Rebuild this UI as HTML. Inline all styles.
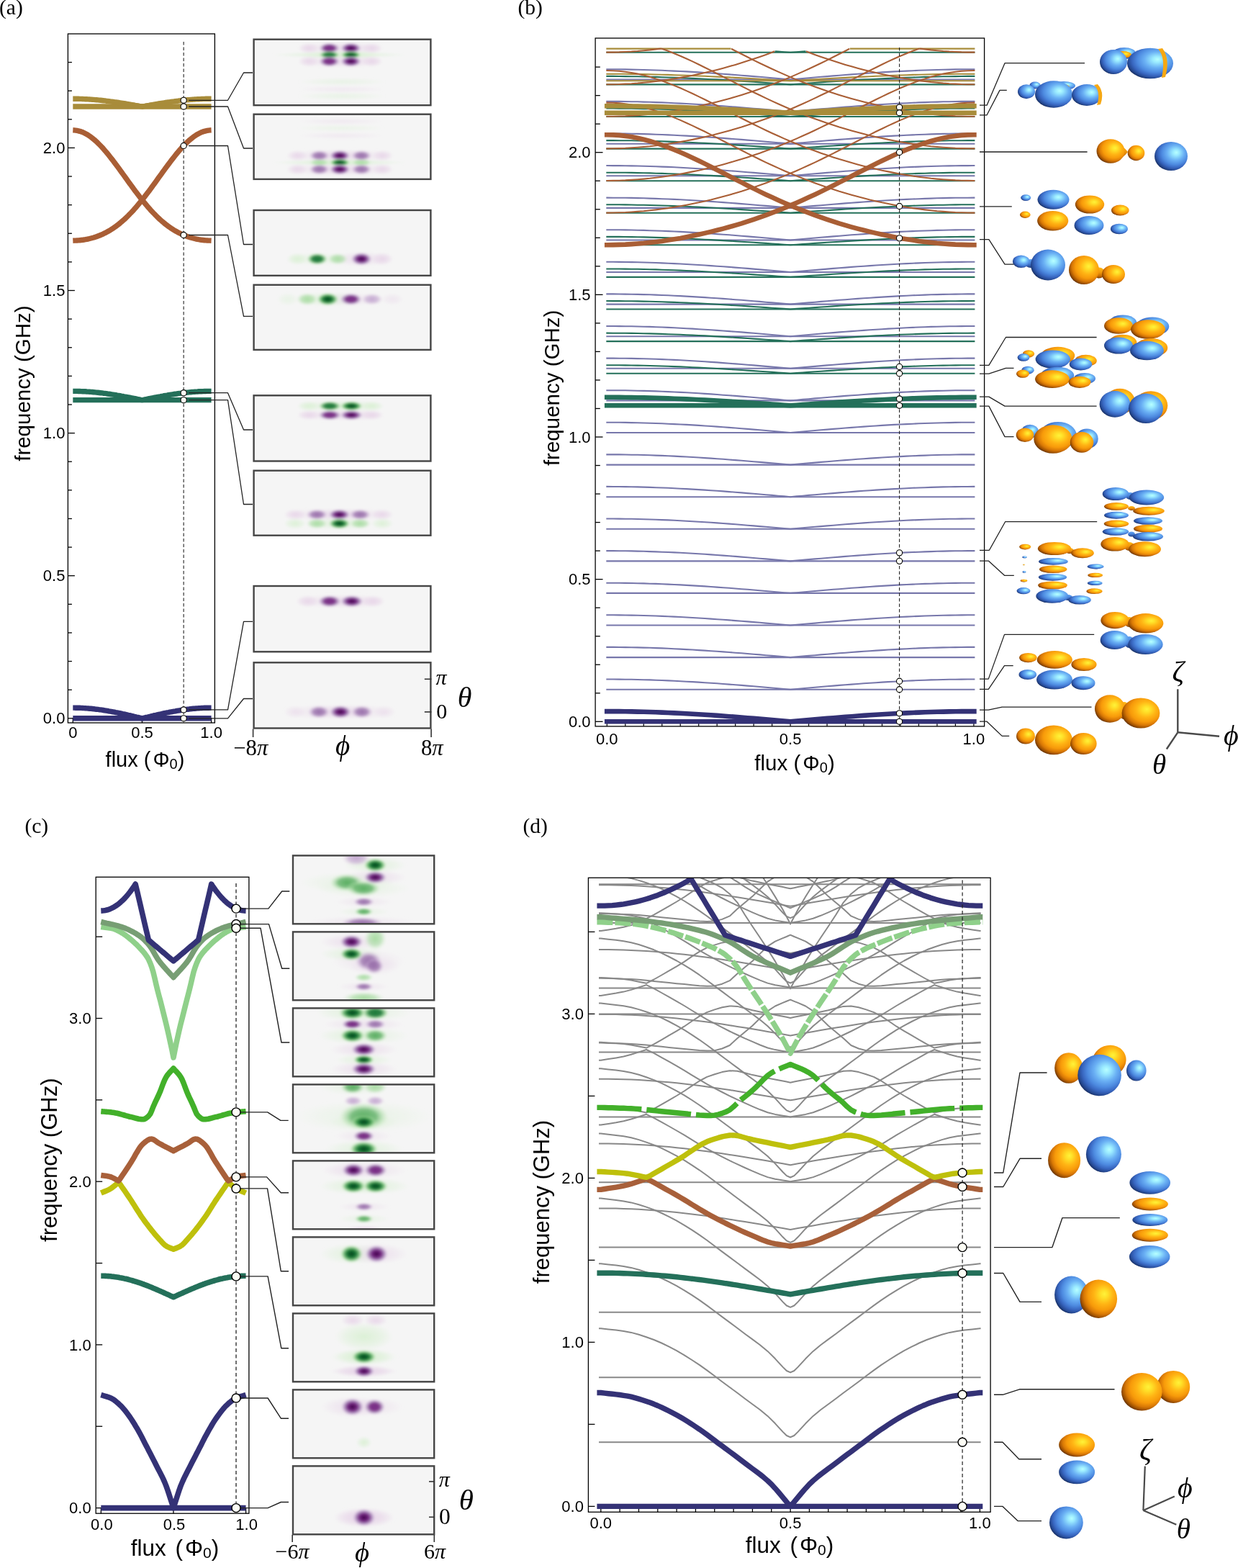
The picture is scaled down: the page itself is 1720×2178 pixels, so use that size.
<!DOCTYPE html>
<html><head><meta charset="utf-8"><title>Spectrum figure</title>
<style>html,body{margin:0;padding:0;background:#fff;} svg{display:block;}</style></head>
<body><svg width="1720" height="2178" viewBox="0 0 1720 2178" xmlns="http://www.w3.org/2000/svg">
<defs>
<filter id="hblur" x="-20%" y="-40%" width="140%" height="180%"><feGaussianBlur stdDeviation="1.6"/></filter>
<radialGradient id="hp0"><stop offset="0" stop-color="#40004b" stop-opacity="1"/><stop offset="0.4" stop-color="#762a83" stop-opacity="1"/><stop offset="0.65" stop-color="#9970ab" stop-opacity="0.8"/><stop offset="0.85" stop-color="#c2a5cf" stop-opacity="0.4"/><stop offset="1" stop-color="#e7d4e8" stop-opacity="0"/></radialGradient>
<radialGradient id="hg0"><stop offset="0" stop-color="#00441b" stop-opacity="1"/><stop offset="0.4" stop-color="#1b7837" stop-opacity="1"/><stop offset="0.65" stop-color="#5aae61" stop-opacity="0.8"/><stop offset="0.85" stop-color="#a6dba0" stop-opacity="0.4"/><stop offset="1" stop-color="#d9f0d3" stop-opacity="0"/></radialGradient>
<radialGradient id="hp1"><stop offset="0" stop-color="#762a83" stop-opacity="1"/><stop offset="0.45" stop-color="#762a83" stop-opacity="0.9"/><stop offset="0.7" stop-color="#9970ab" stop-opacity="0.6"/><stop offset="0.88" stop-color="#c2a5cf" stop-opacity="0.3"/><stop offset="1" stop-color="#e7d4e8" stop-opacity="0"/></radialGradient>
<radialGradient id="hg1"><stop offset="0" stop-color="#1b7837" stop-opacity="1"/><stop offset="0.45" stop-color="#1b7837" stop-opacity="0.9"/><stop offset="0.7" stop-color="#5aae61" stop-opacity="0.6"/><stop offset="0.88" stop-color="#a6dba0" stop-opacity="0.3"/><stop offset="1" stop-color="#d9f0d3" stop-opacity="0"/></radialGradient>
<radialGradient id="hp2"><stop offset="0" stop-color="#9970ab" stop-opacity="1"/><stop offset="0.5" stop-color="#9970ab" stop-opacity="0.75"/><stop offset="0.8" stop-color="#c2a5cf" stop-opacity="0.35"/><stop offset="1" stop-color="#e7d4e8" stop-opacity="0"/></radialGradient>
<radialGradient id="hg2"><stop offset="0" stop-color="#5aae61" stop-opacity="1"/><stop offset="0.5" stop-color="#5aae61" stop-opacity="0.75"/><stop offset="0.8" stop-color="#a6dba0" stop-opacity="0.35"/><stop offset="1" stop-color="#d9f0d3" stop-opacity="0"/></radialGradient>
<radialGradient id="hp3"><stop offset="0" stop-color="#c2a5cf" stop-opacity="0.95"/><stop offset="0.55" stop-color="#c2a5cf" stop-opacity="0.6"/><stop offset="1" stop-color="#e7d4e8" stop-opacity="0"/></radialGradient>
<radialGradient id="hg3"><stop offset="0" stop-color="#a6dba0" stop-opacity="0.95"/><stop offset="0.55" stop-color="#a6dba0" stop-opacity="0.6"/><stop offset="1" stop-color="#d9f0d3" stop-opacity="0"/></radialGradient>
<radialGradient id="hp4"><stop offset="0" stop-color="#e7d4e8" stop-opacity="0.9"/><stop offset="0.6" stop-color="#e7d4e8" stop-opacity="0.45"/><stop offset="1" stop-color="#e7d4e8" stop-opacity="0"/></radialGradient>
<radialGradient id="hg4"><stop offset="0" stop-color="#d9f0d3" stop-opacity="0.9"/><stop offset="0.6" stop-color="#d9f0d3" stop-opacity="0.45"/><stop offset="1" stop-color="#d9f0d3" stop-opacity="0"/></radialGradient>
<clipPath id="hc1"><rect x="352.6" y="54.7" width="245.8" height="91.5"/></clipPath>
<clipPath id="hc2"><rect x="352.6" y="158.7" width="245.8" height="90.2"/></clipPath>
<clipPath id="hc3"><rect x="352.6" y="292" width="245.8" height="90.8"/></clipPath>
<clipPath id="hc4"><rect x="352.6" y="395.7" width="245.8" height="90.2"/></clipPath>
<clipPath id="hc5"><rect x="352.6" y="549.3" width="245.8" height="91.2"/></clipPath>
<clipPath id="hc6"><rect x="352.6" y="653.7" width="245.8" height="90"/></clipPath>
<clipPath id="hc7"><rect x="352.6" y="814" width="245.8" height="91.3"/></clipPath>
<clipPath id="hc8"><rect x="352.6" y="920.3" width="245.8" height="91.2"/></clipPath>
<radialGradient id="gB" cx="0.6" cy="0.4" r="0.65" fx="0.66" fy="0.37"><stop offset="0" stop-color="#b8ffff"/><stop offset="0.15" stop-color="#9aeaff"/><stop offset="0.4" stop-color="#6ab0f4"/><stop offset="0.62" stop-color="#4d8ae0"/><stop offset="0.78" stop-color="#3866c0"/><stop offset="0.9" stop-color="#264a94"/><stop offset="1" stop-color="#15295a"/></radialGradient>
<radialGradient id="gO" cx="0.6" cy="0.4" r="0.65" fx="0.66" fy="0.37"><stop offset="0" stop-color="#fff23a"/><stop offset="0.15" stop-color="#ffe028"/><stop offset="0.4" stop-color="#ffb414"/><stop offset="0.62" stop-color="#f79a0a"/><stop offset="0.78" stop-color="#d87806"/><stop offset="0.9" stop-color="#a05200"/><stop offset="1" stop-color="#5a2a00"/></radialGradient>
<linearGradient id="nB" x1="0" y1="0" x2="0" y2="1"><stop offset="0" stop-color="#5e9ff0"/><stop offset="0.45" stop-color="#4a86dc"/><stop offset="0.8" stop-color="#2f58a8"/><stop offset="1" stop-color="#1e3a7a"/></linearGradient>
<linearGradient id="nO" x1="0" y1="0" x2="0" y2="1"><stop offset="0" stop-color="#ffb818"/><stop offset="0.45" stop-color="#f29a0a"/><stop offset="0.8" stop-color="#c46a04"/><stop offset="1" stop-color="#7a3c00"/></linearGradient>
<clipPath id="hc9"><rect x="407" y="1188.4" width="196.2" height="94.9"/></clipPath>
<clipPath id="hc10"><rect x="407" y="1294.4" width="196.2" height="94.9"/></clipPath>
<clipPath id="hc11"><rect x="407" y="1400.4" width="196.2" height="94.9"/></clipPath>
<clipPath id="hc12"><rect x="407" y="1506.4" width="196.2" height="94.9"/></clipPath>
<clipPath id="hc13"><rect x="407" y="1612.4" width="196.2" height="94.9"/></clipPath>
<clipPath id="hc14"><rect x="407" y="1718.4" width="196.2" height="94.9"/></clipPath>
<clipPath id="hc15"><rect x="407" y="1824.4" width="196.2" height="94.9"/></clipPath>
<clipPath id="hc16"><rect x="407" y="1930.4" width="196.2" height="94.9"/></clipPath>
<clipPath id="hc17"><rect x="407" y="2036.4" width="196.2" height="94.9"/></clipPath>
<clipPath id="dclip"><rect x="817.4" y="1219.3" width="558.7" height="881"/></clipPath>
</defs>
<rect width="1720" height="2178" fill="#fff"/>
<text x="-1" y="20.4" font-family="Liberation Serif, sans-serif" font-size="29.5" text-anchor="start" >(a)</text>
<line x1="94.4" y1="997.8" x2="103.9" y2="997.8" stroke="#000" stroke-width="1.3" />
<text x="90.4" y="1005.4" font-family="Liberation Sans, sans-serif" font-size="22" text-anchor="end" >0.0</text>
<line x1="94.4" y1="958.18" x2="99.9" y2="958.18" stroke="#000" stroke-width="1.3" />
<line x1="94.4" y1="918.56" x2="99.9" y2="918.56" stroke="#000" stroke-width="1.3" />
<line x1="94.4" y1="878.94" x2="99.9" y2="878.94" stroke="#000" stroke-width="1.3" />
<line x1="94.4" y1="839.32" x2="99.9" y2="839.32" stroke="#000" stroke-width="1.3" />
<line x1="94.4" y1="799.7" x2="103.9" y2="799.7" stroke="#000" stroke-width="1.3" />
<text x="90.4" y="807.3" font-family="Liberation Sans, sans-serif" font-size="22" text-anchor="end" >0.5</text>
<line x1="94.4" y1="760.08" x2="99.9" y2="760.08" stroke="#000" stroke-width="1.3" />
<line x1="94.4" y1="720.46" x2="99.9" y2="720.46" stroke="#000" stroke-width="1.3" />
<line x1="94.4" y1="680.84" x2="99.9" y2="680.84" stroke="#000" stroke-width="1.3" />
<line x1="94.4" y1="641.22" x2="99.9" y2="641.22" stroke="#000" stroke-width="1.3" />
<line x1="94.4" y1="601.6" x2="103.9" y2="601.6" stroke="#000" stroke-width="1.3" />
<text x="90.4" y="609.2" font-family="Liberation Sans, sans-serif" font-size="22" text-anchor="end" >1.0</text>
<line x1="94.4" y1="561.98" x2="99.9" y2="561.98" stroke="#000" stroke-width="1.3" />
<line x1="94.4" y1="522.36" x2="99.9" y2="522.36" stroke="#000" stroke-width="1.3" />
<line x1="94.4" y1="482.74" x2="99.9" y2="482.74" stroke="#000" stroke-width="1.3" />
<line x1="94.4" y1="443.12" x2="99.9" y2="443.12" stroke="#000" stroke-width="1.3" />
<line x1="94.4" y1="403.5" x2="103.9" y2="403.5" stroke="#000" stroke-width="1.3" />
<text x="90.4" y="411.1" font-family="Liberation Sans, sans-serif" font-size="22" text-anchor="end" >1.5</text>
<line x1="94.4" y1="363.88" x2="99.9" y2="363.88" stroke="#000" stroke-width="1.3" />
<line x1="94.4" y1="324.26" x2="99.9" y2="324.26" stroke="#000" stroke-width="1.3" />
<line x1="94.4" y1="284.64" x2="99.9" y2="284.64" stroke="#000" stroke-width="1.3" />
<line x1="94.4" y1="245.02" x2="99.9" y2="245.02" stroke="#000" stroke-width="1.3" />
<line x1="94.4" y1="205.4" x2="103.9" y2="205.4" stroke="#000" stroke-width="1.3" />
<text x="90.4" y="213" font-family="Liberation Sans, sans-serif" font-size="22" text-anchor="end" >2.0</text>
<line x1="94.4" y1="165.78" x2="99.9" y2="165.78" stroke="#000" stroke-width="1.3" />
<line x1="94.4" y1="126.16" x2="99.9" y2="126.16" stroke="#000" stroke-width="1.3" />
<line x1="94.4" y1="86.54" x2="99.9" y2="86.54" stroke="#000" stroke-width="1.3" />
<line x1="101.3" y1="1004" x2="101.3" y2="997" stroke="#000" stroke-width="1.3" />
<text x="101.3" y="1024.5" font-family="Liberation Sans, sans-serif" font-size="22" text-anchor="middle" >0</text>
<line x1="197.45" y1="1004" x2="197.45" y2="997" stroke="#000" stroke-width="1.3" />
<text x="197.45" y="1024.5" font-family="Liberation Sans, sans-serif" font-size="22" text-anchor="middle" >0.5</text>
<line x1="293.6" y1="1004" x2="293.6" y2="997" stroke="#000" stroke-width="1.3" />
<text x="293.6" y="1024.5" font-family="Liberation Sans, sans-serif" font-size="22" text-anchor="middle" >1.0</text>
<path d="M101.3,997.8 103.2,997.8 105.1,997.8 107.1,997.8 109,997.8 110.9,997.8 112.8,997.8 114.8,997.8 116.7,997.8 118.6,997.8 120.5,997.8 122.5,997.8 124.4,997.8 126.3,997.8 128.2,997.8 130.1,997.8 132.1,997.8 134,997.8 135.9,997.8 137.8,997.8 139.8,997.8 141.7,997.8 143.6,997.8 145.5,997.8 147.5,997.8 149.4,997.8 151.3,997.8 153.2,997.8 155.1,997.8 157.1,997.8 159,997.8 160.9,997.8 162.8,997.8 164.8,997.8 166.7,997.8 168.6,997.8 170.5,997.8 172.5,997.8 174.4,997.8 176.3,997.8 178.2,997.8 180.1,997.8 182.1,997.8 184,997.8 185.9,997.8 187.8,997.8 189.8,997.8 191.7,997.8 193.6,997.8 195.5,997.8 197.4,997.8 199.4,997.8 201.3,997.8 203.2,997.8 205.1,997.8 207.1,997.8 209,997.8 210.9,997.8 212.8,997.8 214.8,997.8 216.7,997.8 218.6,997.8 220.5,997.8 222.4,997.8 224.4,997.8 226.3,997.8 228.2,997.8 230.1,997.8 232.1,997.8 234,997.8 235.9,997.8 237.8,997.8 239.8,997.8 241.7,997.8 243.6,997.8 245.5,997.8 247.4,997.8 249.4,997.8 251.3,997.8 253.2,997.8 255.1,997.8 257.1,997.8 259,997.8 260.9,997.8 262.8,997.8 264.8,997.8 266.7,997.8 268.6,997.8 270.5,997.8 272.4,997.8 274.4,997.8 276.3,997.8 278.2,997.8 280.1,997.8 282.1,997.8 284,997.8 285.9,997.8 287.8,997.8 289.8,997.8 291.7,997.8 293.6,997.8" fill="none" stroke="#343276" stroke-width="7.4" stroke-linejoin="round" stroke-linecap="butt"/>
<path d="M101.3,983.1 103.2,983.1 105.1,983.2 107.1,983.2 109,983.3 110.9,983.3 112.8,983.4 114.8,983.5 116.7,983.6 118.6,983.7 120.5,983.9 122.5,984 124.4,984.2 126.3,984.3 128.2,984.5 130.1,984.7 132.1,985 134,985.2 135.9,985.4 137.8,985.7 139.8,985.9 141.7,986.2 143.6,986.5 145.5,986.8 147.5,987.1 149.4,987.4 151.3,987.8 153.2,988.1 155.1,988.5 157.1,988.8 159,989.2 160.9,989.6 162.8,989.9 164.8,990.3 166.7,990.7 168.6,991.1 170.5,991.6 172.5,992 174.4,992.4 176.3,992.8 178.2,993.3 180.1,993.7 182.1,994.2 184,994.6 185.9,995.1 187.8,995.5 189.8,996 191.7,996.4 193.6,996.9 195.5,997.3 197.4,997.8 199.4,997.3 201.3,996.9 203.2,996.4 205.1,996 207.1,995.5 209,995.1 210.9,994.6 212.8,994.2 214.8,993.7 216.7,993.3 218.6,992.8 220.5,992.4 222.4,992 224.4,991.6 226.3,991.1 228.2,990.7 230.1,990.3 232.1,989.9 234,989.6 235.9,989.2 237.8,988.8 239.8,988.5 241.7,988.1 243.6,987.8 245.5,987.4 247.4,987.1 249.4,986.8 251.3,986.5 253.2,986.2 255.1,985.9 257.1,985.7 259,985.4 260.9,985.2 262.8,985 264.8,984.7 266.7,984.5 268.6,984.3 270.5,984.2 272.4,984 274.4,983.9 276.3,983.7 278.2,983.6 280.1,983.5 282.1,983.4 284,983.3 285.9,983.3 287.8,983.2 289.8,983.2 291.7,983.1 293.6,983.1" fill="none" stroke="#343276" stroke-width="7.4" stroke-linejoin="round" stroke-linecap="butt"/>
<path d="M101.3,555.6 103.2,555.6 105.1,555.6 107.1,555.6 109,555.6 110.9,555.6 112.8,555.6 114.8,555.6 116.7,555.6 118.6,555.6 120.5,555.6 122.5,555.6 124.4,555.6 126.3,555.6 128.2,555.6 130.1,555.6 132.1,555.6 134,555.6 135.9,555.6 137.8,555.6 139.8,555.6 141.7,555.6 143.6,555.6 145.5,555.6 147.5,555.6 149.4,555.6 151.3,555.6 153.2,555.6 155.1,555.6 157.1,555.6 159,555.6 160.9,555.6 162.8,555.6 164.8,555.6 166.7,555.6 168.6,555.6 170.5,555.6 172.5,555.6 174.4,555.6 176.3,555.6 178.2,555.6 180.1,555.6 182.1,555.6 184,555.6 185.9,555.6 187.8,555.6 189.8,555.6 191.7,555.6 193.6,555.6 195.5,555.6 197.4,555.6 199.4,555.6 201.3,555.6 203.2,555.6 205.1,555.6 207.1,555.6 209,555.6 210.9,555.6 212.8,555.6 214.8,555.6 216.7,555.6 218.6,555.6 220.5,555.6 222.4,555.6 224.4,555.6 226.3,555.6 228.2,555.6 230.1,555.6 232.1,555.6 234,555.6 235.9,555.6 237.8,555.6 239.8,555.6 241.7,555.6 243.6,555.6 245.5,555.6 247.4,555.6 249.4,555.6 251.3,555.6 253.2,555.6 255.1,555.6 257.1,555.6 259,555.6 260.9,555.6 262.8,555.6 264.8,555.6 266.7,555.6 268.6,555.6 270.5,555.6 272.4,555.6 274.4,555.6 276.3,555.6 278.2,555.6 280.1,555.6 282.1,555.6 284,555.6 285.9,555.6 287.8,555.6 289.8,555.6 291.7,555.6 293.6,555.6" fill="none" stroke="#24705a" stroke-width="7.4" stroke-linejoin="round" stroke-linecap="butt"/>
<path d="M101.3,543.4 103.2,543.4 105.1,543.4 107.1,543.4 109,543.5 110.9,543.5 112.8,543.6 114.8,543.7 116.7,543.7 118.6,543.8 120.5,544 122.5,544.1 124.4,544.2 126.3,544.4 128.2,544.5 130.1,544.7 132.1,544.9 134,545.1 135.9,545.3 137.8,545.5 139.8,545.7 141.7,545.9 143.6,546.2 145.5,546.4 147.5,546.7 149.4,547 151.3,547.2 153.2,547.5 155.1,547.8 157.1,548.1 159,548.4 160.9,548.7 162.8,549.1 164.8,549.4 166.7,549.7 168.6,550.1 170.5,550.4 172.5,550.8 174.4,551.1 176.3,551.5 178.2,551.8 180.1,552.2 182.1,552.6 184,553 185.9,553.3 187.8,553.7 189.8,554.1 191.7,554.5 193.6,554.9 195.5,555.3 197.4,555.6 199.4,555.3 201.3,554.9 203.2,554.5 205.1,554.1 207.1,553.7 209,553.3 210.9,553 212.8,552.6 214.8,552.2 216.7,551.8 218.6,551.5 220.5,551.1 222.4,550.8 224.4,550.4 226.3,550.1 228.2,549.7 230.1,549.4 232.1,549.1 234,548.7 235.9,548.4 237.8,548.1 239.8,547.8 241.7,547.5 243.6,547.2 245.5,547 247.4,546.7 249.4,546.4 251.3,546.2 253.2,545.9 255.1,545.7 257.1,545.5 259,545.3 260.9,545.1 262.8,544.9 264.8,544.7 266.7,544.5 268.6,544.4 270.5,544.2 272.4,544.1 274.4,544 276.3,543.8 278.2,543.7 280.1,543.7 282.1,543.6 284,543.5 285.9,543.5 287.8,543.4 289.8,543.4 291.7,543.4 293.6,543.4" fill="none" stroke="#24705a" stroke-width="7.4" stroke-linejoin="round" stroke-linecap="butt"/>
<path d="M101.3,180.8 103.2,180.9 105.1,181.1 107.1,181.4 109,181.8 110.9,182.3 112.8,182.9 114.8,183.6 116.7,184.5 118.6,185.5 120.5,186.5 122.5,187.7 124.4,189 126.3,190.3 128.2,191.8 130.1,193.4 132.1,195 134,196.7 135.9,198.6 137.8,200.5 139.8,202.5 141.7,204.5 143.6,206.6 145.5,208.8 147.5,211.1 149.4,213.4 151.3,215.8 153.2,218.2 155.1,220.6 157.1,223.1 159,225.7 160.9,228.2 162.8,230.8 164.8,233.4 166.7,236.1 168.6,238.7 170.5,241.4 172.5,244.1 174.4,246.7 176.3,249.4 178.2,252.1 180.1,254.7 182.1,257.4 184,260 185.9,262.6 187.8,265.2 189.8,267.8 191.7,270.3 193.6,272.8 195.5,275.3 197.4,277.7 199.4,280.1 201.3,282.4 203.2,284.7 205.1,287 207.1,289.2 209,291.4 210.9,293.5 212.8,295.5 214.8,297.5 216.7,299.5 218.6,301.4 220.5,303.2 222.4,305 224.4,306.7 226.3,308.3 228.2,310 230.1,311.5 232.1,313 234,314.4 235.9,315.8 237.8,317.1 239.8,318.4 241.7,319.6 243.6,320.7 245.5,321.8 247.4,322.9 249.4,323.8 251.3,324.8 253.2,325.7 255.1,326.5 257.1,327.3 259,328 260.9,328.7 262.8,329.4 264.8,330 266.7,330.5 268.6,331 270.5,331.5 272.4,332 274.4,332.3 276.3,332.7 278.2,333 280.1,333.3 282.1,333.5 284,333.7 285.9,333.9 287.8,334 289.8,334.1 291.7,334.1 293.6,334.2" fill="none" stroke="#a95e35" stroke-width="7.4" stroke-linejoin="round" stroke-linecap="butt"/>
<path d="M101.3,334.2 103.2,334.1 105.1,334.1 107.1,334 109,333.9 110.9,333.7 112.8,333.5 114.8,333.3 116.7,333 118.6,332.7 120.5,332.3 122.5,332 124.4,331.5 126.3,331 128.2,330.5 130.1,330 132.1,329.4 134,328.7 135.9,328 137.8,327.3 139.8,326.5 141.7,325.7 143.6,324.8 145.5,323.8 147.5,322.9 149.4,321.8 151.3,320.7 153.2,319.6 155.1,318.4 157.1,317.1 159,315.8 160.9,314.4 162.8,313 164.8,311.5 166.7,310 168.6,308.3 170.5,306.7 172.5,305 174.4,303.2 176.3,301.4 178.2,299.5 180.1,297.5 182.1,295.5 184,293.5 185.9,291.4 187.8,289.2 189.8,287 191.7,284.7 193.6,282.4 195.5,280.1 197.4,277.7 199.4,275.3 201.3,272.8 203.2,270.3 205.1,267.8 207.1,265.2 209,262.6 210.9,260 212.8,257.4 214.8,254.7 216.7,252.1 218.6,249.4 220.5,246.7 222.4,244.1 224.4,241.4 226.3,238.7 228.2,236.1 230.1,233.4 232.1,230.8 234,228.2 235.9,225.7 237.8,223.1 239.8,220.6 241.7,218.2 243.6,215.8 245.5,213.4 247.4,211.1 249.4,208.8 251.3,206.6 253.2,204.5 255.1,202.5 257.1,200.5 259,198.6 260.9,196.7 262.8,195 264.8,193.4 266.7,191.8 268.6,190.3 270.5,189 272.4,187.7 274.4,186.5 276.3,185.5 278.2,184.5 280.1,183.6 282.1,182.9 284,182.3 285.9,181.8 287.8,181.4 289.8,181.1 291.7,180.9 293.6,180.8" fill="none" stroke="#a95e35" stroke-width="7.4" stroke-linejoin="round" stroke-linecap="butt"/>
<path d="M101.3,148 103.2,148 105.1,148 107.1,148 109,148 110.9,148 112.8,148 114.8,148 116.7,148 118.6,148 120.5,148 122.5,148 124.4,148 126.3,148 128.2,148 130.1,148 132.1,148 134,148 135.9,148 137.8,148 139.8,148 141.7,148 143.6,148 145.5,148 147.5,148 149.4,148 151.3,148 153.2,148 155.1,148 157.1,148 159,148 160.9,148 162.8,148 164.8,148 166.7,148 168.6,148 170.5,148 172.5,148 174.4,148 176.3,148 178.2,148 180.1,148 182.1,148 184,148 185.9,148 187.8,148 189.8,148 191.7,148 193.6,148 195.5,148 197.4,148 199.4,148 201.3,148 203.2,148 205.1,148 207.1,148 209,148 210.9,148 212.8,148 214.8,148 216.7,148 218.6,148 220.5,148 222.4,148 224.4,148 226.3,148 228.2,148 230.1,148 232.1,148 234,148 235.9,148 237.8,148 239.8,148 241.7,148 243.6,148 245.5,148 247.4,148 249.4,148 251.3,148 253.2,148 255.1,148 257.1,148 259,148 260.9,148 262.8,148 264.8,148 266.7,148 268.6,148 270.5,148 272.4,148 274.4,148 276.3,148 278.2,148 280.1,148 282.1,148 284,148 285.9,148 287.8,148 289.8,148 291.7,148 293.6,148" fill="none" stroke="#a88c3a" stroke-width="7.4" stroke-linejoin="round" stroke-linecap="butt"/>
<path d="M101.3,137.3 103.2,137.3 105.1,137.3 107.1,137.3 109,137.3 110.9,137.4 112.8,137.4 114.8,137.5 116.7,137.6 118.6,137.7 120.5,137.8 122.5,137.9 124.4,138 126.3,138.1 128.2,138.3 130.1,138.4 132.1,138.6 134,138.7 135.9,138.9 137.8,139.1 139.8,139.3 141.7,139.5 143.6,139.7 145.5,139.9 147.5,140.2 149.4,140.4 151.3,140.6 153.2,140.9 155.1,141.1 157.1,141.4 159,141.7 160.9,141.9 162.8,142.2 164.8,142.5 166.7,142.8 168.6,143.1 170.5,143.4 172.5,143.7 174.4,144 176.3,144.3 178.2,144.6 180.1,145 182.1,145.3 184,145.6 185.9,145.9 187.8,146.3 189.8,146.6 191.7,146.9 193.6,147.3 195.5,147.6 197.4,148 199.4,147.6 201.3,147.3 203.2,146.9 205.1,146.6 207.1,146.3 209,145.9 210.9,145.6 212.8,145.3 214.8,145 216.7,144.6 218.6,144.3 220.5,144 222.4,143.7 224.4,143.4 226.3,143.1 228.2,142.8 230.1,142.5 232.1,142.2 234,141.9 235.9,141.7 237.8,141.4 239.8,141.1 241.7,140.9 243.6,140.6 245.5,140.4 247.4,140.2 249.4,139.9 251.3,139.7 253.2,139.5 255.1,139.3 257.1,139.1 259,138.9 260.9,138.7 262.8,138.6 264.8,138.4 266.7,138.3 268.6,138.1 270.5,138 272.4,137.9 274.4,137.8 276.3,137.7 278.2,137.6 280.1,137.5 282.1,137.4 284,137.4 285.9,137.3 287.8,137.3 289.8,137.3 291.7,137.3 293.6,137.3" fill="none" stroke="#a88c3a" stroke-width="7.4" stroke-linejoin="round" stroke-linecap="butt"/>
<rect x="94.4" y="47" width="203.99999999999997" height="957" fill="none" stroke="#000" stroke-width="1.3"/>
<line x1="255.14" y1="58" x2="255.14" y2="1004" stroke="#222" stroke-width="1.1" stroke-dasharray="4.5,3"/>
<path d="M262.1,139.3 316.5,139.3 338.5,101 351,101" fill="none" stroke="#222" stroke-width="1.3" stroke-linejoin="round" />
<path d="M262.1,148 316.5,148 338.5,206 351,206" fill="none" stroke="#222" stroke-width="1.3" stroke-linejoin="round" />
<path d="M262.1,202.5 316.5,202.5 338.5,339.5 351,339.5" fill="none" stroke="#222" stroke-width="1.3" stroke-linejoin="round" />
<path d="M262.1,326.5 316.5,326.5 338.5,439.4 351,439.4" fill="none" stroke="#222" stroke-width="1.3" stroke-linejoin="round" />
<path d="M262.1,545.7 316.5,545.7 338.5,597 351,597" fill="none" stroke="#222" stroke-width="1.3" stroke-linejoin="round" />
<path d="M262.1,555.6 316.5,555.6 338.5,700.5 351,700.5" fill="none" stroke="#222" stroke-width="1.3" stroke-linejoin="round" />
<path d="M262.1,985.9 316.5,985.9 338.5,863.3 351,863.3" fill="none" stroke="#222" stroke-width="1.3" stroke-linejoin="round" />
<path d="M262.1,997.8 316.5,997.8 338.5,970.5 351,970.5" fill="none" stroke="#222" stroke-width="1.3" stroke-linejoin="round" />
<circle cx="255.14" cy="139.3" r="4.1" fill="#fdfdf5" stroke="#000" stroke-width="1.1"/>
<circle cx="255.14" cy="147.95" r="4.1" fill="#fdfdf5" stroke="#000" stroke-width="1.1"/>
<circle cx="255.14" cy="202.46" r="4.1" fill="#fdfdf5" stroke="#000" stroke-width="1.1"/>
<circle cx="255.14" cy="326.5" r="4.1" fill="#fdfdf5" stroke="#000" stroke-width="1.1"/>
<circle cx="255.14" cy="545.7" r="4.1" fill="#fdfdf5" stroke="#000" stroke-width="1.1"/>
<circle cx="255.14" cy="555.64" r="4.1" fill="#fdfdf5" stroke="#000" stroke-width="1.1"/>
<circle cx="255.14" cy="985.94" r="4.1" fill="#fdfdf5" stroke="#000" stroke-width="1.1"/>
<circle cx="255.14" cy="997.8" r="4.1" fill="#fdfdf5" stroke="#000" stroke-width="1.1"/>
<text x="201.5" y="1065" font-family="Liberation Sans, sans-serif" font-size="29" text-anchor="middle" >flux<tspan dx="0"> (</tspan><tspan dx="3">&#934;</tspan><tspan font-size="20" dy="3">0</tspan><tspan dy="-3">)</tspan></text>
<text transform="translate(42.3,532.6) rotate(-90)" font-family="Liberation Sans, sans-serif" font-size="29.5" text-anchor="middle">frequency (GHz)</text>
<rect x="352.6" y="54.7" width="245.8" height="91.5" fill="#f5f5f5"/>
<g clip-path="url(#hc1)"><g filter="url(#hblur)">
<ellipse cx="457.6" cy="66.9" rx="40.1" ry="8.85" fill="url(#hp4)" opacity="0.5"/>
<ellipse cx="487.6" cy="66.9" rx="40.1" ry="8.85" fill="url(#hp4)" opacity="0.75"/>
<ellipse cx="457.6" cy="76.1" rx="40.1" ry="6.44" fill="url(#hg4)" opacity="0.5"/>
<ellipse cx="487.6" cy="76.1" rx="40.1" ry="6.44" fill="url(#hg4)" opacity="0.75"/>
<ellipse cx="457.6" cy="85.2" rx="40.1" ry="8.85" fill="url(#hp4)" opacity="0.5"/>
<ellipse cx="487.6" cy="85.2" rx="40.1" ry="8.85" fill="url(#hp4)" opacity="0.75"/>
<ellipse cx="429" cy="66.9" rx="14.85" ry="7.7" fill="url(#hp4)"/>
<ellipse cx="517" cy="66.9" rx="14.85" ry="7.7" fill="url(#hp4)"/>
<ellipse cx="472" cy="76.1" rx="94.5" ry="4.2" fill="url(#hg4)"/>
<ellipse cx="429" cy="85.2" rx="14.85" ry="7.7" fill="url(#hp4)"/>
<ellipse cx="517" cy="85.2" rx="14.85" ry="7.7" fill="url(#hp4)"/>
<ellipse cx="475" cy="113.5" rx="60.75" ry="5.6" fill="url(#hg4)" opacity="0.5"/>
<ellipse cx="475" cy="124" rx="60.75" ry="4.9" fill="url(#hp4)" opacity="0.4"/>
<ellipse cx="475" cy="133.5" rx="60.75" ry="5.6" fill="url(#hg4)" opacity="0.5"/>
<ellipse cx="457.6" cy="66.9" rx="14.85" ry="7.7" fill="url(#hp1)"/>
<ellipse cx="457.6" cy="76.1" rx="14.85" ry="5.6" fill="url(#hg1)"/>
<ellipse cx="457.6" cy="85.2" rx="14.85" ry="7.7" fill="url(#hp1)"/>
<ellipse cx="487.6" cy="66.9" rx="14.85" ry="7.7" fill="url(#hp0)"/>
<ellipse cx="487.6" cy="76.1" rx="14.85" ry="5.6" fill="url(#hg0)"/>
<ellipse cx="487.6" cy="85.2" rx="14.85" ry="7.7" fill="url(#hp0)"/>
</g></g>
<rect x="352.6" y="54.7" width="245.8" height="91.5" fill="none" stroke="#454545" stroke-width="2.4"/>
<rect x="352.6" y="158.7" width="245.8" height="90.2" fill="#f5f5f5"/>
<g clip-path="url(#hc2)"><g filter="url(#hblur)">
<ellipse cx="472.2" cy="216.2" rx="40.1" ry="8.85" fill="url(#hp4)" opacity="0.75"/>
<ellipse cx="443.7" cy="216.2" rx="40.1" ry="8.85" fill="url(#hp4)" opacity="0.5"/>
<ellipse cx="502.2" cy="216.2" rx="40.1" ry="8.85" fill="url(#hp4)" opacity="0.5"/>
<ellipse cx="472.2" cy="225.7" rx="40.1" ry="6.44" fill="url(#hg4)" opacity="0.75"/>
<ellipse cx="472.2" cy="235.2" rx="40.1" ry="8.85" fill="url(#hp4)" opacity="0.75"/>
<ellipse cx="443.7" cy="235.2" rx="40.1" ry="8.85" fill="url(#hp4)" opacity="0.5"/>
<ellipse cx="502.2" cy="235.2" rx="40.1" ry="8.85" fill="url(#hp4)" opacity="0.5"/>
<ellipse cx="413" cy="216.2" rx="14.85" ry="7.7" fill="url(#hp4)"/>
<ellipse cx="531.5" cy="216.2" rx="14.85" ry="7.7" fill="url(#hp4)"/>
<ellipse cx="472" cy="225.7" rx="94.5" ry="4.2" fill="url(#hg4)"/>
<ellipse cx="413" cy="235.2" rx="14.85" ry="7.7" fill="url(#hp4)"/>
<ellipse cx="531.5" cy="235.2" rx="14.85" ry="7.7" fill="url(#hp4)"/>
<ellipse cx="474" cy="168.6" rx="60.75" ry="4.9" fill="url(#hp4)" opacity="0.4"/>
<ellipse cx="474" cy="178" rx="60.75" ry="4.9" fill="url(#hg4)" opacity="0.4"/>
<ellipse cx="474" cy="188.4" rx="60.75" ry="4.9" fill="url(#hp4)" opacity="0.4"/>
<ellipse cx="443.7" cy="225.7" rx="14.85" ry="5.6" fill="url(#hg3)"/>
<ellipse cx="502.2" cy="225.7" rx="14.85" ry="5.6" fill="url(#hg3)"/>
<ellipse cx="443.7" cy="216.2" rx="14.85" ry="7.7" fill="url(#hp2)"/>
<ellipse cx="502.2" cy="216.2" rx="14.85" ry="7.7" fill="url(#hp2)"/>
<ellipse cx="443.7" cy="235.2" rx="14.85" ry="7.7" fill="url(#hp2)"/>
<ellipse cx="502.2" cy="235.2" rx="14.85" ry="7.7" fill="url(#hp2)"/>
<ellipse cx="472.2" cy="216.2" rx="14.85" ry="7.7" fill="url(#hp0)"/>
<ellipse cx="472.2" cy="225.7" rx="14.85" ry="5.6" fill="url(#hg0)"/>
<ellipse cx="472.2" cy="235.2" rx="14.85" ry="7.7" fill="url(#hp0)"/>
</g></g>
<rect x="352.6" y="158.7" width="245.8" height="90.2" fill="none" stroke="#454545" stroke-width="2.4"/>
<rect x="352.6" y="292" width="245.8" height="90.8" fill="#f5f5f5"/>
<g clip-path="url(#hc3)"><g filter="url(#hblur)">
<ellipse cx="440.7" cy="359.7" rx="40.1" ry="9.66" fill="url(#hg4)" opacity="0.5"/>
<ellipse cx="502.2" cy="359.7" rx="40.1" ry="10.46" fill="url(#hp4)" opacity="0.75"/>
<ellipse cx="413" cy="359.7" rx="14.85" ry="8.4" fill="url(#hg4)"/>
<ellipse cx="531.5" cy="359.7" rx="14.85" ry="9.1" fill="url(#hp4)"/>
<ellipse cx="469.3" cy="359.7" rx="14.85" ry="8.4" fill="url(#hg3)"/>
<ellipse cx="440.7" cy="359.7" rx="14.85" ry="8.4" fill="url(#hg1)"/>
<ellipse cx="502.2" cy="359.7" rx="14.85" ry="9.1" fill="url(#hp0)"/>
</g></g>
<rect x="352.6" y="292" width="245.8" height="90.8" fill="none" stroke="#454545" stroke-width="2.4"/>
<rect x="352.6" y="395.7" width="245.8" height="90.2" fill="#f5f5f5"/>
<g clip-path="url(#hc4)"><g filter="url(#hblur)">
<ellipse cx="455.4" cy="415.6" rx="41.92" ry="10.46" fill="url(#hg4)" opacity="0.75"/>
<ellipse cx="487.6" cy="415.6" rx="41.92" ry="9.66" fill="url(#hp4)" opacity="0.5"/>
<ellipse cx="400" cy="415.6" rx="15.53" ry="9.1" fill="url(#hg4)" opacity="0.5"/>
<ellipse cx="545" cy="415.6" rx="15.53" ry="8.4" fill="url(#hp4)" opacity="0.5"/>
<ellipse cx="426.8" cy="415.6" rx="15.53" ry="9.1" fill="url(#hg3)"/>
<ellipse cx="516.9" cy="415.6" rx="15.53" ry="8.4" fill="url(#hp3)"/>
<ellipse cx="487.6" cy="415.6" rx="15.53" ry="8.4" fill="url(#hp1)"/>
<ellipse cx="455.4" cy="415.6" rx="15.53" ry="9.1" fill="url(#hg0)"/>
</g></g>
<rect x="352.6" y="395.7" width="245.8" height="90.2" fill="none" stroke="#454545" stroke-width="2.4"/>
<rect x="352.6" y="549.3" width="245.8" height="91.2" fill="#f5f5f5"/>
<g clip-path="url(#hc5)"><g filter="url(#hblur)">
<ellipse cx="458.3" cy="564" rx="43.74" ry="8.05" fill="url(#hg4)" opacity="0.5"/>
<ellipse cx="488.3" cy="564" rx="43.74" ry="8.05" fill="url(#hg4)" opacity="0.75"/>
<ellipse cx="458.3" cy="576.5" rx="43.74" ry="8.05" fill="url(#hp4)" opacity="0.5"/>
<ellipse cx="488.3" cy="576.5" rx="43.74" ry="8.05" fill="url(#hp4)" opacity="0.75"/>
<ellipse cx="429" cy="564" rx="16.2" ry="7" fill="url(#hg4)"/>
<ellipse cx="517" cy="564" rx="16.2" ry="7" fill="url(#hg4)"/>
<ellipse cx="429" cy="576.5" rx="16.2" ry="7" fill="url(#hp4)"/>
<ellipse cx="517" cy="576.5" rx="16.2" ry="7" fill="url(#hp4)"/>
<ellipse cx="458.3" cy="564" rx="16.2" ry="7" fill="url(#hg1)"/>
<ellipse cx="458.3" cy="576.5" rx="16.2" ry="7" fill="url(#hp1)"/>
<ellipse cx="488.3" cy="564" rx="16.2" ry="7" fill="url(#hg0)"/>
<ellipse cx="488.3" cy="576.5" rx="16.2" ry="7" fill="url(#hp0)"/>
</g></g>
<rect x="352.6" y="549.3" width="245.8" height="91.2" fill="none" stroke="#454545" stroke-width="2.4"/>
<rect x="352.6" y="653.7" width="245.8" height="90" fill="#f5f5f5"/>
<g clip-path="url(#hc6)"><g filter="url(#hblur)">
<ellipse cx="471.5" cy="714.8" rx="41.92" ry="8.85" fill="url(#hp4)" opacity="0.75"/>
<ellipse cx="440.3" cy="714.8" rx="41.92" ry="8.85" fill="url(#hp4)" opacity="0.5"/>
<ellipse cx="500.3" cy="714.8" rx="41.92" ry="8.85" fill="url(#hp4)" opacity="0.5"/>
<ellipse cx="471.5" cy="727.2" rx="41.92" ry="8.85" fill="url(#hg4)" opacity="0.75"/>
<ellipse cx="410" cy="714.8" rx="15.53" ry="7.7" fill="url(#hp4)"/>
<ellipse cx="531" cy="714.8" rx="15.53" ry="7.7" fill="url(#hp4)"/>
<ellipse cx="410" cy="727.2" rx="15.53" ry="7.7" fill="url(#hg4)"/>
<ellipse cx="531" cy="727.2" rx="15.53" ry="7.7" fill="url(#hg4)"/>
<ellipse cx="440.3" cy="727.2" rx="15.53" ry="7.7" fill="url(#hg3)"/>
<ellipse cx="500.3" cy="727.2" rx="15.53" ry="7.7" fill="url(#hg3)"/>
<ellipse cx="440.3" cy="714.8" rx="15.53" ry="7.7" fill="url(#hp2)"/>
<ellipse cx="500.3" cy="714.8" rx="15.53" ry="7.7" fill="url(#hp2)"/>
<ellipse cx="471.5" cy="714.8" rx="15.53" ry="7.7" fill="url(#hp0)"/>
<ellipse cx="471.5" cy="727.2" rx="15.53" ry="7.7" fill="url(#hg0)"/>
</g></g>
<rect x="352.6" y="653.7" width="245.8" height="90" fill="none" stroke="#454545" stroke-width="2.4"/>
<rect x="352.6" y="814" width="245.8" height="91.3" fill="#f5f5f5"/>
<g clip-path="url(#hc7)"><g filter="url(#hblur)">
<ellipse cx="458" cy="835.2" rx="43.74" ry="9.66" fill="url(#hp4)" opacity="0.5"/>
<ellipse cx="488.8" cy="835.2" rx="43.74" ry="9.66" fill="url(#hp4)" opacity="0.75"/>
<ellipse cx="427.3" cy="835.2" rx="16.2" ry="8.4" fill="url(#hp4)"/>
<ellipse cx="518.6" cy="835.2" rx="16.2" ry="8.4" fill="url(#hp4)"/>
<ellipse cx="458" cy="835.2" rx="16.2" ry="8.4" fill="url(#hp1)"/>
<ellipse cx="488.8" cy="835.2" rx="16.2" ry="8.4" fill="url(#hp0)"/>
</g></g>
<rect x="352.6" y="814" width="245.8" height="91.3" fill="none" stroke="#454545" stroke-width="2.4"/>
<rect x="352.6" y="920.3" width="245.8" height="91.2" fill="#f5f5f5"/>
<g clip-path="url(#hc8)"><g filter="url(#hblur)">
<ellipse cx="473" cy="988.9" rx="41.92" ry="10.46" fill="url(#hp4)" opacity="0.75"/>
<ellipse cx="443.1" cy="988.9" rx="41.92" ry="10.46" fill="url(#hp4)" opacity="0.5"/>
<ellipse cx="502.8" cy="988.9" rx="41.92" ry="10.46" fill="url(#hp4)" opacity="0.5"/>
<ellipse cx="409.7" cy="988.9" rx="15.53" ry="9.1" fill="url(#hp4)" opacity="0.6"/>
<ellipse cx="534.4" cy="988.9" rx="15.53" ry="9.1" fill="url(#hp4)" opacity="0.6"/>
<ellipse cx="443.1" cy="988.9" rx="15.53" ry="9.1" fill="url(#hp2)"/>
<ellipse cx="502.8" cy="988.9" rx="15.53" ry="9.1" fill="url(#hp2)"/>
<ellipse cx="473" cy="988.9" rx="15.53" ry="9.1" fill="url(#hp0)"/>
</g></g>
<rect x="352.6" y="920.3" width="245.8" height="91.2" fill="none" stroke="#454545" stroke-width="2.4"/>
<line x1="589.8" y1="943.3" x2="599.4" y2="943.3" stroke="#333" stroke-width="1.6" />
<line x1="589.8" y1="988.9" x2="599.4" y2="988.9" stroke="#333" stroke-width="1.6" />
<line x1="351.6" y1="1012.6" x2="351.6" y2="1024" stroke="#333" stroke-width="1.6" />
<line x1="599.1" y1="1012.6" x2="599.1" y2="1024" stroke="#333" stroke-width="1.6" />
<text x="605.5" y="950.8" font-family="Liberation Serif, sans-serif" font-size="30" text-anchor="start" ><tspan font-style="italic">π</tspan></text>
<text x="606.2" y="997.8" font-family="Liberation Serif, sans-serif" font-size="30" text-anchor="start" >0</text>
<text x="635.8" y="981.7" font-family="Liberation Serif, sans-serif" font-size="40" text-anchor="start" font-style="italic" >θ</text>
<text x="348.3" y="1049.3" font-family="Liberation Serif, sans-serif" font-size="30.7" text-anchor="middle" >−8<tspan font-style="italic">π</tspan></text>
<text x="600.3" y="1049.3" font-family="Liberation Serif, sans-serif" font-size="30.7" text-anchor="middle" >8<tspan font-style="italic">π</tspan></text>
<text x="476" y="1048.5" font-family="Liberation Serif, sans-serif" font-size="39" text-anchor="middle" font-style="italic" >ϕ</text>
<text x="719.4" y="20.4" font-family="Liberation Serif, sans-serif" font-size="29.5" text-anchor="start" >(b)</text>
<line x1="827.1" y1="1002.3" x2="837.5" y2="1002.3" stroke="#000" stroke-width="1.3" />
<text x="820.6" y="1009.8" font-family="Liberation Sans, sans-serif" font-size="22" text-anchor="end" >0.0</text>
<line x1="827.1" y1="962.77" x2="833.8" y2="962.77" stroke="#000" stroke-width="1.3" />
<line x1="827.1" y1="923.24" x2="833.8" y2="923.24" stroke="#000" stroke-width="1.3" />
<line x1="827.1" y1="883.71" x2="833.8" y2="883.71" stroke="#000" stroke-width="1.3" />
<line x1="827.1" y1="844.18" x2="833.8" y2="844.18" stroke="#000" stroke-width="1.3" />
<line x1="827.1" y1="804.65" x2="837.5" y2="804.65" stroke="#000" stroke-width="1.3" />
<text x="820.6" y="812.15" font-family="Liberation Sans, sans-serif" font-size="22" text-anchor="end" >0.5</text>
<line x1="827.1" y1="765.12" x2="833.8" y2="765.12" stroke="#000" stroke-width="1.3" />
<line x1="827.1" y1="725.59" x2="833.8" y2="725.59" stroke="#000" stroke-width="1.3" />
<line x1="827.1" y1="686.06" x2="833.8" y2="686.06" stroke="#000" stroke-width="1.3" />
<line x1="827.1" y1="646.53" x2="833.8" y2="646.53" stroke="#000" stroke-width="1.3" />
<line x1="827.1" y1="607" x2="837.5" y2="607" stroke="#000" stroke-width="1.3" />
<text x="820.6" y="614.5" font-family="Liberation Sans, sans-serif" font-size="22" text-anchor="end" >1.0</text>
<line x1="827.1" y1="567.47" x2="833.8" y2="567.47" stroke="#000" stroke-width="1.3" />
<line x1="827.1" y1="527.94" x2="833.8" y2="527.94" stroke="#000" stroke-width="1.3" />
<line x1="827.1" y1="488.41" x2="833.8" y2="488.41" stroke="#000" stroke-width="1.3" />
<line x1="827.1" y1="448.88" x2="833.8" y2="448.88" stroke="#000" stroke-width="1.3" />
<line x1="827.1" y1="409.35" x2="837.5" y2="409.35" stroke="#000" stroke-width="1.3" />
<text x="820.6" y="416.85" font-family="Liberation Sans, sans-serif" font-size="22" text-anchor="end" >1.5</text>
<line x1="827.1" y1="369.82" x2="833.8" y2="369.82" stroke="#000" stroke-width="1.3" />
<line x1="827.1" y1="330.29" x2="833.8" y2="330.29" stroke="#000" stroke-width="1.3" />
<line x1="827.1" y1="290.76" x2="833.8" y2="290.76" stroke="#000" stroke-width="1.3" />
<line x1="827.1" y1="251.23" x2="833.8" y2="251.23" stroke="#000" stroke-width="1.3" />
<line x1="827.1" y1="211.7" x2="837.5" y2="211.7" stroke="#000" stroke-width="1.3" />
<text x="820.6" y="219.2" font-family="Liberation Sans, sans-serif" font-size="22" text-anchor="end" >2.0</text>
<line x1="827.1" y1="172.17" x2="833.8" y2="172.17" stroke="#000" stroke-width="1.3" />
<line x1="827.1" y1="132.64" x2="833.8" y2="132.64" stroke="#000" stroke-width="1.3" />
<line x1="827.1" y1="93.11" x2="833.8" y2="93.11" stroke="#000" stroke-width="1.3" />
<line x1="843.3" y1="1008.9" x2="843.3" y2="1000.9" stroke="#000" stroke-width="1.2" />
<line x1="868.78" y1="1008.9" x2="868.78" y2="1003.9" stroke="#000" stroke-width="1.2" />
<line x1="894.26" y1="1008.9" x2="894.26" y2="1003.9" stroke="#000" stroke-width="1.2" />
<line x1="919.74" y1="1008.9" x2="919.74" y2="1003.9" stroke="#000" stroke-width="1.2" />
<line x1="945.22" y1="1008.9" x2="945.22" y2="1003.9" stroke="#000" stroke-width="1.2" />
<line x1="970.7" y1="1008.9" x2="970.7" y2="1003.9" stroke="#000" stroke-width="1.2" />
<line x1="996.18" y1="1008.9" x2="996.18" y2="1003.9" stroke="#000" stroke-width="1.2" />
<line x1="1021.66" y1="1008.9" x2="1021.66" y2="1003.9" stroke="#000" stroke-width="1.2" />
<line x1="1047.14" y1="1008.9" x2="1047.14" y2="1003.9" stroke="#000" stroke-width="1.2" />
<line x1="1072.62" y1="1008.9" x2="1072.62" y2="1003.9" stroke="#000" stroke-width="1.2" />
<line x1="1098.1" y1="1008.9" x2="1098.1" y2="1000.9" stroke="#000" stroke-width="1.2" />
<line x1="1123.58" y1="1008.9" x2="1123.58" y2="1003.9" stroke="#000" stroke-width="1.2" />
<line x1="1149.06" y1="1008.9" x2="1149.06" y2="1003.9" stroke="#000" stroke-width="1.2" />
<line x1="1174.54" y1="1008.9" x2="1174.54" y2="1003.9" stroke="#000" stroke-width="1.2" />
<line x1="1200.02" y1="1008.9" x2="1200.02" y2="1003.9" stroke="#000" stroke-width="1.2" />
<line x1="1225.5" y1="1008.9" x2="1225.5" y2="1003.9" stroke="#000" stroke-width="1.2" />
<line x1="1250.98" y1="1008.9" x2="1250.98" y2="1003.9" stroke="#000" stroke-width="1.2" />
<line x1="1276.46" y1="1008.9" x2="1276.46" y2="1003.9" stroke="#000" stroke-width="1.2" />
<line x1="1301.94" y1="1008.9" x2="1301.94" y2="1003.9" stroke="#000" stroke-width="1.2" />
<line x1="1327.42" y1="1008.9" x2="1327.42" y2="1003.9" stroke="#000" stroke-width="1.2" />
<line x1="1352.9" y1="1008.9" x2="1352.9" y2="1000.9" stroke="#000" stroke-width="1.2" />
<text x="843.3" y="1033.5" font-family="Liberation Sans, sans-serif" font-size="22" text-anchor="middle" >0.0</text>
<text x="1098.1" y="1033.5" font-family="Liberation Sans, sans-serif" font-size="22" text-anchor="middle" >0.5</text>
<text x="1352.9" y="1033.5" font-family="Liberation Sans, sans-serif" font-size="22" text-anchor="middle" >1.0</text>
<path d="M842.3,957.7 843.3,957.7 851.8,957.7 860.3,957.7 868.8,957.7 877.3,957.7 885.8,957.7 894.3,957.7 902.8,957.7 911.2,957.7 919.7,957.7 928.2,957.7 936.7,957.7 945.2,957.7 953.7,957.7 962.2,957.7 970.7,957.7 979.2,957.7 987.7,957.7 996.2,957.7 1004.7,957.7 1013.2,957.7 1021.7,957.7 1030.2,957.7 1038.6,957.7 1047.1,957.7 1055.6,957.7 1064.1,957.7 1072.6,957.7 1081.1,957.7 1089.6,957.7 1098.1,957.7 1106.6,957.7 1115.1,957.7 1123.6,957.7 1132.1,957.7 1140.6,957.7 1149.1,957.7 1157.6,957.7 1166,957.7 1174.5,957.7 1183,957.7 1191.5,957.7 1200,957.7 1208.5,957.7 1217,957.7 1225.5,957.7 1234,957.7 1242.5,957.7 1251,957.7 1259.5,957.7 1268,957.7 1276.5,957.7 1285,957.7 1293.4,957.7 1301.9,957.7 1310.4,957.7 1318.9,957.7 1327.4,957.7 1335.9,957.7 1344.4,957.7 1352.9,957.7 1354.4,957.7" fill="none" stroke="#7777ab" stroke-width="2.1" stroke-linejoin="round" stroke-linecap="butt"/>
<path d="M842.3,943.5 843.3,943.5 851.8,943.5 860.3,943.6 868.8,943.7 877.3,943.8 885.8,944 894.3,944.2 902.8,944.4 911.2,944.7 919.7,945 928.2,945.4 936.7,945.8 945.2,946.2 953.7,946.7 962.2,947.1 970.7,947.6 979.2,948.2 987.7,948.8 996.2,949.3 1004.7,950 1013.2,950.6 1021.7,951.2 1030.2,951.9 1038.6,952.6 1047.1,953.3 1055.6,954 1064.1,954.8 1072.6,955.5 1081.1,956.2 1089.6,957 1098.1,957.7 1106.6,957 1115.1,956.2 1123.6,955.5 1132.1,954.8 1140.6,954 1149.1,953.3 1157.6,952.6 1166,951.9 1174.5,951.2 1183,950.6 1191.5,950 1200,949.3 1208.5,948.8 1217,948.2 1225.5,947.6 1234,947.1 1242.5,946.7 1251,946.2 1259.5,945.8 1268,945.4 1276.5,945 1285,944.7 1293.4,944.4 1301.9,944.2 1310.4,944 1318.9,943.8 1327.4,943.7 1335.9,943.6 1344.4,943.5 1352.9,943.5 1354.4,943.5" fill="none" stroke="#7777ab" stroke-width="2.1" stroke-linejoin="round" stroke-linecap="butt"/>
<path d="M842.3,913.1 843.3,913.1 851.8,913.1 860.3,913.1 868.8,913.1 877.3,913.1 885.8,913.1 894.3,913.1 902.8,913.1 911.2,913.1 919.7,913.1 928.2,913.1 936.7,913.1 945.2,913.1 953.7,913.1 962.2,913.1 970.7,913.1 979.2,913.1 987.7,913.1 996.2,913.1 1004.7,913.1 1013.2,913.1 1021.7,913.1 1030.2,913.1 1038.6,913.1 1047.1,913.1 1055.6,913.1 1064.1,913.1 1072.6,913.1 1081.1,913.1 1089.6,913.1 1098.1,913.1 1106.6,913.1 1115.1,913.1 1123.6,913.1 1132.1,913.1 1140.6,913.1 1149.1,913.1 1157.6,913.1 1166,913.1 1174.5,913.1 1183,913.1 1191.5,913.1 1200,913.1 1208.5,913.1 1217,913.1 1225.5,913.1 1234,913.1 1242.5,913.1 1251,913.1 1259.5,913.1 1268,913.1 1276.5,913.1 1285,913.1 1293.4,913.1 1301.9,913.1 1310.4,913.1 1318.9,913.1 1327.4,913.1 1335.9,913.1 1344.4,913.1 1352.9,913.1 1354.4,913.1" fill="none" stroke="#7777ab" stroke-width="2.1" stroke-linejoin="round" stroke-linecap="butt"/>
<path d="M842.3,898.9 843.3,898.9 851.8,898.9 860.3,899 868.8,899.1 877.3,899.2 885.8,899.4 894.3,899.6 902.8,899.8 911.2,900.1 919.7,900.4 928.2,900.8 936.7,901.2 945.2,901.6 953.7,902.1 962.2,902.5 970.7,903.1 979.2,903.6 987.7,904.2 996.2,904.8 1004.7,905.4 1013.2,906 1021.7,906.7 1030.2,907.3 1038.6,908 1047.1,908.7 1055.6,909.4 1064.1,910.2 1072.6,910.9 1081.1,911.6 1089.6,912.4 1098.1,913.1 1106.6,912.4 1115.1,911.6 1123.6,910.9 1132.1,910.2 1140.6,909.4 1149.1,908.7 1157.6,908 1166,907.3 1174.5,906.7 1183,906 1191.5,905.4 1200,904.8 1208.5,904.2 1217,903.6 1225.5,903.1 1234,902.5 1242.5,902.1 1251,901.6 1259.5,901.2 1268,900.8 1276.5,900.4 1285,900.1 1293.4,899.8 1301.9,899.6 1310.4,899.4 1318.9,899.2 1327.4,899.1 1335.9,899 1344.4,898.9 1352.9,898.9 1354.4,898.9" fill="none" stroke="#7777ab" stroke-width="2.1" stroke-linejoin="round" stroke-linecap="butt"/>
<path d="M842.3,868.5 843.3,868.5 851.8,868.5 860.3,868.5 868.8,868.5 877.3,868.5 885.8,868.5 894.3,868.5 902.8,868.5 911.2,868.5 919.7,868.5 928.2,868.5 936.7,868.5 945.2,868.5 953.7,868.5 962.2,868.5 970.7,868.5 979.2,868.5 987.7,868.5 996.2,868.5 1004.7,868.5 1013.2,868.5 1021.7,868.5 1030.2,868.5 1038.6,868.5 1047.1,868.5 1055.6,868.5 1064.1,868.5 1072.6,868.5 1081.1,868.5 1089.6,868.5 1098.1,868.5 1106.6,868.5 1115.1,868.5 1123.6,868.5 1132.1,868.5 1140.6,868.5 1149.1,868.5 1157.6,868.5 1166,868.5 1174.5,868.5 1183,868.5 1191.5,868.5 1200,868.5 1208.5,868.5 1217,868.5 1225.5,868.5 1234,868.5 1242.5,868.5 1251,868.5 1259.5,868.5 1268,868.5 1276.5,868.5 1285,868.5 1293.4,868.5 1301.9,868.5 1310.4,868.5 1318.9,868.5 1327.4,868.5 1335.9,868.5 1344.4,868.5 1352.9,868.5 1354.4,868.5" fill="none" stroke="#7777ab" stroke-width="2.1" stroke-linejoin="round" stroke-linecap="butt"/>
<path d="M842.3,854.3 843.3,854.3 851.8,854.3 860.3,854.4 868.8,854.5 877.3,854.6 885.8,854.8 894.3,855 902.8,855.2 911.2,855.5 919.7,855.9 928.2,856.2 936.7,856.6 945.2,857 953.7,857.5 962.2,858 970.7,858.5 979.2,859 987.7,859.6 996.2,860.2 1004.7,860.8 1013.2,861.4 1021.7,862.1 1030.2,862.7 1038.6,863.4 1047.1,864.1 1055.6,864.8 1064.1,865.6 1072.6,866.3 1081.1,867 1089.6,867.8 1098.1,868.5 1106.6,867.8 1115.1,867 1123.6,866.3 1132.1,865.6 1140.6,864.8 1149.1,864.1 1157.6,863.4 1166,862.7 1174.5,862.1 1183,861.4 1191.5,860.8 1200,860.2 1208.5,859.6 1217,859 1225.5,858.5 1234,858 1242.5,857.5 1251,857 1259.5,856.6 1268,856.2 1276.5,855.9 1285,855.5 1293.4,855.2 1301.9,855 1310.4,854.8 1318.9,854.6 1327.4,854.5 1335.9,854.4 1344.4,854.3 1352.9,854.3 1354.4,854.3" fill="none" stroke="#7777ab" stroke-width="2.1" stroke-linejoin="round" stroke-linecap="butt"/>
<path d="M842.3,823.9 843.3,823.9 851.8,823.9 860.3,823.9 868.8,823.9 877.3,823.9 885.8,823.9 894.3,823.9 902.8,823.9 911.2,823.9 919.7,823.9 928.2,823.9 936.7,823.9 945.2,823.9 953.7,823.9 962.2,823.9 970.7,823.9 979.2,823.9 987.7,823.9 996.2,823.9 1004.7,823.9 1013.2,823.9 1021.7,823.9 1030.2,823.9 1038.6,823.9 1047.1,823.9 1055.6,823.9 1064.1,823.9 1072.6,823.9 1081.1,823.9 1089.6,823.9 1098.1,823.9 1106.6,823.9 1115.1,823.9 1123.6,823.9 1132.1,823.9 1140.6,823.9 1149.1,823.9 1157.6,823.9 1166,823.9 1174.5,823.9 1183,823.9 1191.5,823.9 1200,823.9 1208.5,823.9 1217,823.9 1225.5,823.9 1234,823.9 1242.5,823.9 1251,823.9 1259.5,823.9 1268,823.9 1276.5,823.9 1285,823.9 1293.4,823.9 1301.9,823.9 1310.4,823.9 1318.9,823.9 1327.4,823.9 1335.9,823.9 1344.4,823.9 1352.9,823.9 1354.4,823.9" fill="none" stroke="#7777ab" stroke-width="2.1" stroke-linejoin="round" stroke-linecap="butt"/>
<path d="M842.3,809.7 843.3,809.7 851.8,809.7 860.3,809.8 868.8,809.9 877.3,810 885.8,810.2 894.3,810.4 902.8,810.7 911.2,810.9 919.7,811.3 928.2,811.6 936.7,812 945.2,812.4 953.7,812.9 962.2,813.4 970.7,813.9 979.2,814.4 987.7,815 996.2,815.6 1004.7,816.2 1013.2,816.8 1021.7,817.5 1030.2,818.2 1038.6,818.8 1047.1,819.5 1055.6,820.3 1064.1,821 1072.6,821.7 1081.1,822.5 1089.6,823.2 1098.1,823.9 1106.6,823.2 1115.1,822.5 1123.6,821.7 1132.1,821 1140.6,820.3 1149.1,819.5 1157.6,818.8 1166,818.2 1174.5,817.5 1183,816.8 1191.5,816.2 1200,815.6 1208.5,815 1217,814.4 1225.5,813.9 1234,813.4 1242.5,812.9 1251,812.4 1259.5,812 1268,811.6 1276.5,811.3 1285,810.9 1293.4,810.7 1301.9,810.4 1310.4,810.2 1318.9,810 1327.4,809.9 1335.9,809.8 1344.4,809.7 1352.9,809.7 1354.4,809.7" fill="none" stroke="#7777ab" stroke-width="2.1" stroke-linejoin="round" stroke-linecap="butt"/>
<path d="M842.3,779.4 843.3,779.4 851.8,779.4 860.3,779.4 868.8,779.4 877.3,779.4 885.8,779.4 894.3,779.4 902.8,779.4 911.2,779.4 919.7,779.4 928.2,779.4 936.7,779.4 945.2,779.4 953.7,779.4 962.2,779.4 970.7,779.4 979.2,779.4 987.7,779.4 996.2,779.4 1004.7,779.4 1013.2,779.4 1021.7,779.4 1030.2,779.4 1038.6,779.4 1047.1,779.4 1055.6,779.4 1064.1,779.4 1072.6,779.4 1081.1,779.4 1089.6,779.4 1098.1,779.4 1106.6,779.4 1115.1,779.4 1123.6,779.4 1132.1,779.4 1140.6,779.4 1149.1,779.4 1157.6,779.4 1166,779.4 1174.5,779.4 1183,779.4 1191.5,779.4 1200,779.4 1208.5,779.4 1217,779.4 1225.5,779.4 1234,779.4 1242.5,779.4 1251,779.4 1259.5,779.4 1268,779.4 1276.5,779.4 1285,779.4 1293.4,779.4 1301.9,779.4 1310.4,779.4 1318.9,779.4 1327.4,779.4 1335.9,779.4 1344.4,779.4 1352.9,779.4 1354.4,779.4" fill="none" stroke="#7777ab" stroke-width="2.1" stroke-linejoin="round" stroke-linecap="butt"/>
<path d="M842.3,765.1 843.3,765.1 851.8,765.1 860.3,765.2 868.8,765.3 877.3,765.4 885.8,765.6 894.3,765.8 902.8,766.1 911.2,766.4 919.7,766.7 928.2,767 936.7,767.4 945.2,767.8 953.7,768.3 962.2,768.8 970.7,769.3 979.2,769.8 987.7,770.4 996.2,771 1004.7,771.6 1013.2,772.2 1021.7,772.9 1030.2,773.6 1038.6,774.3 1047.1,775 1055.6,775.7 1064.1,776.4 1072.6,777.1 1081.1,777.9 1089.6,778.6 1098.1,779.4 1106.6,778.6 1115.1,777.9 1123.6,777.1 1132.1,776.4 1140.6,775.7 1149.1,775 1157.6,774.3 1166,773.6 1174.5,772.9 1183,772.2 1191.5,771.6 1200,771 1208.5,770.4 1217,769.8 1225.5,769.3 1234,768.8 1242.5,768.3 1251,767.8 1259.5,767.4 1268,767 1276.5,766.7 1285,766.4 1293.4,766.1 1301.9,765.8 1310.4,765.6 1318.9,765.4 1327.4,765.3 1335.9,765.2 1344.4,765.1 1352.9,765.1 1354.4,765.1" fill="none" stroke="#7777ab" stroke-width="2.1" stroke-linejoin="round" stroke-linecap="butt"/>
<path d="M842.3,734.8 843.3,734.8 851.8,734.8 860.3,734.8 868.8,734.8 877.3,734.8 885.8,734.8 894.3,734.8 902.8,734.8 911.2,734.8 919.7,734.8 928.2,734.8 936.7,734.8 945.2,734.8 953.7,734.8 962.2,734.8 970.7,734.8 979.2,734.8 987.7,734.8 996.2,734.8 1004.7,734.8 1013.2,734.8 1021.7,734.8 1030.2,734.8 1038.6,734.8 1047.1,734.8 1055.6,734.8 1064.1,734.8 1072.6,734.8 1081.1,734.8 1089.6,734.8 1098.1,734.8 1106.6,734.8 1115.1,734.8 1123.6,734.8 1132.1,734.8 1140.6,734.8 1149.1,734.8 1157.6,734.8 1166,734.8 1174.5,734.8 1183,734.8 1191.5,734.8 1200,734.8 1208.5,734.8 1217,734.8 1225.5,734.8 1234,734.8 1242.5,734.8 1251,734.8 1259.5,734.8 1268,734.8 1276.5,734.8 1285,734.8 1293.4,734.8 1301.9,734.8 1310.4,734.8 1318.9,734.8 1327.4,734.8 1335.9,734.8 1344.4,734.8 1352.9,734.8 1354.4,734.8" fill="none" stroke="#7777ab" stroke-width="2.1" stroke-linejoin="round" stroke-linecap="butt"/>
<path d="M842.3,720.5 843.3,720.5 851.8,720.5 860.3,720.6 868.8,720.7 877.3,720.8 885.8,721 894.3,721.2 902.8,721.5 911.2,721.8 919.7,722.1 928.2,722.4 936.7,722.8 945.2,723.2 953.7,723.7 962.2,724.2 970.7,724.7 979.2,725.2 987.7,725.8 996.2,726.4 1004.7,727 1013.2,727.6 1021.7,728.3 1030.2,729 1038.6,729.7 1047.1,730.4 1055.6,731.1 1064.1,731.8 1072.6,732.5 1081.1,733.3 1089.6,734 1098.1,734.8 1106.6,734 1115.1,733.3 1123.6,732.5 1132.1,731.8 1140.6,731.1 1149.1,730.4 1157.6,729.7 1166,729 1174.5,728.3 1183,727.6 1191.5,727 1200,726.4 1208.5,725.8 1217,725.2 1225.5,724.7 1234,724.2 1242.5,723.7 1251,723.2 1259.5,722.8 1268,722.4 1276.5,722.1 1285,721.8 1293.4,721.5 1301.9,721.2 1310.4,721 1318.9,720.8 1327.4,720.7 1335.9,720.6 1344.4,720.5 1352.9,720.5 1354.4,720.5" fill="none" stroke="#7777ab" stroke-width="2.1" stroke-linejoin="round" stroke-linecap="butt"/>
<path d="M842.3,690.2 843.3,690.2 851.8,690.2 860.3,690.2 868.8,690.2 877.3,690.2 885.8,690.2 894.3,690.2 902.8,690.2 911.2,690.2 919.7,690.2 928.2,690.2 936.7,690.2 945.2,690.2 953.7,690.2 962.2,690.2 970.7,690.2 979.2,690.2 987.7,690.2 996.2,690.2 1004.7,690.2 1013.2,690.2 1021.7,690.2 1030.2,690.2 1038.6,690.2 1047.1,690.2 1055.6,690.2 1064.1,690.2 1072.6,690.2 1081.1,690.2 1089.6,690.2 1098.1,690.2 1106.6,690.2 1115.1,690.2 1123.6,690.2 1132.1,690.2 1140.6,690.2 1149.1,690.2 1157.6,690.2 1166,690.2 1174.5,690.2 1183,690.2 1191.5,690.2 1200,690.2 1208.5,690.2 1217,690.2 1225.5,690.2 1234,690.2 1242.5,690.2 1251,690.2 1259.5,690.2 1268,690.2 1276.5,690.2 1285,690.2 1293.4,690.2 1301.9,690.2 1310.4,690.2 1318.9,690.2 1327.4,690.2 1335.9,690.2 1344.4,690.2 1352.9,690.2 1354.4,690.2" fill="none" stroke="#7777ab" stroke-width="2.1" stroke-linejoin="round" stroke-linecap="butt"/>
<path d="M842.3,675.9 843.3,675.9 851.8,676 860.3,676 868.8,676.1 877.3,676.3 885.8,676.4 894.3,676.6 902.8,676.9 911.2,677.2 919.7,677.5 928.2,677.8 936.7,678.2 945.2,678.7 953.7,679.1 962.2,679.6 970.7,680.1 979.2,680.6 987.7,681.2 996.2,681.8 1004.7,682.4 1013.2,683.1 1021.7,683.7 1030.2,684.4 1038.6,685.1 1047.1,685.8 1055.6,686.5 1064.1,687.2 1072.6,687.9 1081.1,688.7 1089.6,689.4 1098.1,690.2 1106.6,689.4 1115.1,688.7 1123.6,687.9 1132.1,687.2 1140.6,686.5 1149.1,685.8 1157.6,685.1 1166,684.4 1174.5,683.7 1183,683.1 1191.5,682.4 1200,681.8 1208.5,681.2 1217,680.6 1225.5,680.1 1234,679.6 1242.5,679.1 1251,678.7 1259.5,678.2 1268,677.8 1276.5,677.5 1285,677.2 1293.4,676.9 1301.9,676.6 1310.4,676.4 1318.9,676.3 1327.4,676.1 1335.9,676 1344.4,676 1352.9,675.9 1354.4,675.9" fill="none" stroke="#7777ab" stroke-width="2.1" stroke-linejoin="round" stroke-linecap="butt"/>
<path d="M842.3,645.6 843.3,645.6 851.8,645.6 860.3,645.6 868.8,645.6 877.3,645.6 885.8,645.6 894.3,645.6 902.8,645.6 911.2,645.6 919.7,645.6 928.2,645.6 936.7,645.6 945.2,645.6 953.7,645.6 962.2,645.6 970.7,645.6 979.2,645.6 987.7,645.6 996.2,645.6 1004.7,645.6 1013.2,645.6 1021.7,645.6 1030.2,645.6 1038.6,645.6 1047.1,645.6 1055.6,645.6 1064.1,645.6 1072.6,645.6 1081.1,645.6 1089.6,645.6 1098.1,645.6 1106.6,645.6 1115.1,645.6 1123.6,645.6 1132.1,645.6 1140.6,645.6 1149.1,645.6 1157.6,645.6 1166,645.6 1174.5,645.6 1183,645.6 1191.5,645.6 1200,645.6 1208.5,645.6 1217,645.6 1225.5,645.6 1234,645.6 1242.5,645.6 1251,645.6 1259.5,645.6 1268,645.6 1276.5,645.6 1285,645.6 1293.4,645.6 1301.9,645.6 1310.4,645.6 1318.9,645.6 1327.4,645.6 1335.9,645.6 1344.4,645.6 1352.9,645.6 1354.4,645.6" fill="none" stroke="#7777ab" stroke-width="2.1" stroke-linejoin="round" stroke-linecap="butt"/>
<path d="M842.3,631.4 843.3,631.4 851.8,631.4 860.3,631.4 868.8,631.5 877.3,631.7 885.8,631.8 894.3,632 902.8,632.3 911.2,632.6 919.7,632.9 928.2,633.3 936.7,633.6 945.2,634.1 953.7,634.5 962.2,635 970.7,635.5 979.2,636.1 987.7,636.6 996.2,637.2 1004.7,637.8 1013.2,638.5 1021.7,639.1 1030.2,639.8 1038.6,640.5 1047.1,641.2 1055.6,641.9 1064.1,642.6 1072.6,643.4 1081.1,644.1 1089.6,644.8 1098.1,645.6 1106.6,644.8 1115.1,644.1 1123.6,643.4 1132.1,642.6 1140.6,641.9 1149.1,641.2 1157.6,640.5 1166,639.8 1174.5,639.1 1183,638.5 1191.5,637.8 1200,637.2 1208.5,636.6 1217,636.1 1225.5,635.5 1234,635 1242.5,634.5 1251,634.1 1259.5,633.6 1268,633.3 1276.5,632.9 1285,632.6 1293.4,632.3 1301.9,632 1310.4,631.8 1318.9,631.7 1327.4,631.5 1335.9,631.4 1344.4,631.4 1352.9,631.4 1354.4,631.4" fill="none" stroke="#7777ab" stroke-width="2.1" stroke-linejoin="round" stroke-linecap="butt"/>
<path d="M842.3,601 843.3,601 851.8,601 860.3,601 868.8,601 877.3,601 885.8,601 894.3,601 902.8,601 911.2,601 919.7,601 928.2,601 936.7,601 945.2,601 953.7,601 962.2,601 970.7,601 979.2,601 987.7,601 996.2,601 1004.7,601 1013.2,601 1021.7,601 1030.2,601 1038.6,601 1047.1,601 1055.6,601 1064.1,601 1072.6,601 1081.1,601 1089.6,601 1098.1,601 1106.6,601 1115.1,601 1123.6,601 1132.1,601 1140.6,601 1149.1,601 1157.6,601 1166,601 1174.5,601 1183,601 1191.5,601 1200,601 1208.5,601 1217,601 1225.5,601 1234,601 1242.5,601 1251,601 1259.5,601 1268,601 1276.5,601 1285,601 1293.4,601 1301.9,601 1310.4,601 1318.9,601 1327.4,601 1335.9,601 1344.4,601 1352.9,601 1354.4,601" fill="none" stroke="#7777ab" stroke-width="2.1" stroke-linejoin="round" stroke-linecap="butt"/>
<path d="M842.3,586.8 843.3,586.8 851.8,586.8 860.3,586.8 868.8,586.9 877.3,587.1 885.8,587.2 894.3,587.5 902.8,587.7 911.2,588 919.7,588.3 928.2,588.7 936.7,589.1 945.2,589.5 953.7,589.9 962.2,590.4 970.7,590.9 979.2,591.5 987.7,592 996.2,592.6 1004.7,593.2 1013.2,593.9 1021.7,594.5 1030.2,595.2 1038.6,595.9 1047.1,596.6 1055.6,597.3 1064.1,598 1072.6,598.8 1081.1,599.5 1089.6,600.2 1098.1,601 1106.6,600.2 1115.1,599.5 1123.6,598.8 1132.1,598 1140.6,597.3 1149.1,596.6 1157.6,595.9 1166,595.2 1174.5,594.5 1183,593.9 1191.5,593.2 1200,592.6 1208.5,592 1217,591.5 1225.5,590.9 1234,590.4 1242.5,589.9 1251,589.5 1259.5,589.1 1268,588.7 1276.5,588.3 1285,588 1293.4,587.7 1301.9,587.5 1310.4,587.2 1318.9,587.1 1327.4,586.9 1335.9,586.8 1344.4,586.8 1352.9,586.8 1354.4,586.8" fill="none" stroke="#7777ab" stroke-width="2.1" stroke-linejoin="round" stroke-linecap="butt"/>
<path d="M842.3,556.4 843.3,556.4 851.8,556.4 860.3,556.4 868.8,556.4 877.3,556.4 885.8,556.4 894.3,556.4 902.8,556.4 911.2,556.4 919.7,556.4 928.2,556.4 936.7,556.4 945.2,556.4 953.7,556.4 962.2,556.4 970.7,556.4 979.2,556.4 987.7,556.4 996.2,556.4 1004.7,556.4 1013.2,556.4 1021.7,556.4 1030.2,556.4 1038.6,556.4 1047.1,556.4 1055.6,556.4 1064.1,556.4 1072.6,556.4 1081.1,556.4 1089.6,556.4 1098.1,556.4 1106.6,556.4 1115.1,556.4 1123.6,556.4 1132.1,556.4 1140.6,556.4 1149.1,556.4 1157.6,556.4 1166,556.4 1174.5,556.4 1183,556.4 1191.5,556.4 1200,556.4 1208.5,556.4 1217,556.4 1225.5,556.4 1234,556.4 1242.5,556.4 1251,556.4 1259.5,556.4 1268,556.4 1276.5,556.4 1285,556.4 1293.4,556.4 1301.9,556.4 1310.4,556.4 1318.9,556.4 1327.4,556.4 1335.9,556.4 1344.4,556.4 1352.9,556.4 1354.4,556.4" fill="none" stroke="#7777ab" stroke-width="2.1" stroke-linejoin="round" stroke-linecap="butt"/>
<path d="M842.3,542.2 843.3,542.2 851.8,542.2 860.3,542.2 868.8,542.3 877.3,542.5 885.8,542.7 894.3,542.9 902.8,543.1 911.2,543.4 919.7,543.7 928.2,544.1 936.7,544.5 945.2,544.9 953.7,545.3 962.2,545.8 970.7,546.3 979.2,546.9 987.7,547.4 996.2,548 1004.7,548.7 1013.2,549.3 1021.7,549.9 1030.2,550.6 1038.6,551.3 1047.1,552 1055.6,552.7 1064.1,553.4 1072.6,554.2 1081.1,554.9 1089.6,555.7 1098.1,556.4 1106.6,555.7 1115.1,554.9 1123.6,554.2 1132.1,553.4 1140.6,552.7 1149.1,552 1157.6,551.3 1166,550.6 1174.5,549.9 1183,549.3 1191.5,548.7 1200,548 1208.5,547.4 1217,546.9 1225.5,546.3 1234,545.8 1242.5,545.3 1251,544.9 1259.5,544.5 1268,544.1 1276.5,543.7 1285,543.4 1293.4,543.1 1301.9,542.9 1310.4,542.7 1318.9,542.5 1327.4,542.3 1335.9,542.2 1344.4,542.2 1352.9,542.2 1354.4,542.2" fill="none" stroke="#7777ab" stroke-width="2.1" stroke-linejoin="round" stroke-linecap="butt"/>
<path d="M842.3,511.8 843.3,511.8 851.8,511.8 860.3,511.8 868.8,511.8 877.3,511.8 885.8,511.8 894.3,511.8 902.8,511.8 911.2,511.8 919.7,511.8 928.2,511.8 936.7,511.8 945.2,511.8 953.7,511.8 962.2,511.8 970.7,511.8 979.2,511.8 987.7,511.8 996.2,511.8 1004.7,511.8 1013.2,511.8 1021.7,511.8 1030.2,511.8 1038.6,511.8 1047.1,511.8 1055.6,511.8 1064.1,511.8 1072.6,511.8 1081.1,511.8 1089.6,511.8 1098.1,511.8 1106.6,511.8 1115.1,511.8 1123.6,511.8 1132.1,511.8 1140.6,511.8 1149.1,511.8 1157.6,511.8 1166,511.8 1174.5,511.8 1183,511.8 1191.5,511.8 1200,511.8 1208.5,511.8 1217,511.8 1225.5,511.8 1234,511.8 1242.5,511.8 1251,511.8 1259.5,511.8 1268,511.8 1276.5,511.8 1285,511.8 1293.4,511.8 1301.9,511.8 1310.4,511.8 1318.9,511.8 1327.4,511.8 1335.9,511.8 1344.4,511.8 1352.9,511.8 1354.4,511.8" fill="none" stroke="#7777ab" stroke-width="2.1" stroke-linejoin="round" stroke-linecap="butt"/>
<path d="M842.3,497.6 843.3,497.6 851.8,497.6 860.3,497.7 868.8,497.8 877.3,497.9 885.8,498.1 894.3,498.3 902.8,498.5 911.2,498.8 919.7,499.1 928.2,499.5 936.7,499.9 945.2,500.3 953.7,500.8 962.2,501.2 970.7,501.7 979.2,502.3 987.7,502.9 996.2,503.4 1004.7,504.1 1013.2,504.7 1021.7,505.4 1030.2,506 1038.6,506.7 1047.1,507.4 1055.6,508.1 1064.1,508.9 1072.6,509.6 1081.1,510.3 1089.6,511.1 1098.1,511.8 1106.6,511.1 1115.1,510.3 1123.6,509.6 1132.1,508.9 1140.6,508.1 1149.1,507.4 1157.6,506.7 1166,506 1174.5,505.4 1183,504.7 1191.5,504.1 1200,503.4 1208.5,502.9 1217,502.3 1225.5,501.7 1234,501.2 1242.5,500.8 1251,500.3 1259.5,499.9 1268,499.5 1276.5,499.1 1285,498.8 1293.4,498.5 1301.9,498.3 1310.4,498.1 1318.9,497.9 1327.4,497.8 1335.9,497.7 1344.4,497.6 1352.9,497.6 1354.4,497.6" fill="none" stroke="#7777ab" stroke-width="2.1" stroke-linejoin="round" stroke-linecap="butt"/>
<path d="M842.3,467.2 843.3,467.2 851.8,467.2 860.3,467.2 868.8,467.2 877.3,467.2 885.8,467.2 894.3,467.2 902.8,467.2 911.2,467.2 919.7,467.2 928.2,467.2 936.7,467.2 945.2,467.2 953.7,467.2 962.2,467.2 970.7,467.2 979.2,467.2 987.7,467.2 996.2,467.2 1004.7,467.2 1013.2,467.2 1021.7,467.2 1030.2,467.2 1038.6,467.2 1047.1,467.2 1055.6,467.2 1064.1,467.2 1072.6,467.2 1081.1,467.2 1089.6,467.2 1098.1,467.2 1106.6,467.2 1115.1,467.2 1123.6,467.2 1132.1,467.2 1140.6,467.2 1149.1,467.2 1157.6,467.2 1166,467.2 1174.5,467.2 1183,467.2 1191.5,467.2 1200,467.2 1208.5,467.2 1217,467.2 1225.5,467.2 1234,467.2 1242.5,467.2 1251,467.2 1259.5,467.2 1268,467.2 1276.5,467.2 1285,467.2 1293.4,467.2 1301.9,467.2 1310.4,467.2 1318.9,467.2 1327.4,467.2 1335.9,467.2 1344.4,467.2 1352.9,467.2 1354.4,467.2" fill="none" stroke="#7777ab" stroke-width="2.1" stroke-linejoin="round" stroke-linecap="butt"/>
<path d="M842.3,453 843.3,453 851.8,453 860.3,453.1 868.8,453.2 877.3,453.3 885.8,453.5 894.3,453.7 902.8,453.9 911.2,454.2 919.7,454.5 928.2,454.9 936.7,455.3 945.2,455.7 953.7,456.2 962.2,456.6 970.7,457.2 979.2,457.7 987.7,458.3 996.2,458.9 1004.7,459.5 1013.2,460.1 1021.7,460.8 1030.2,461.4 1038.6,462.1 1047.1,462.8 1055.6,463.5 1064.1,464.3 1072.6,465 1081.1,465.7 1089.6,466.5 1098.1,467.2 1106.6,466.5 1115.1,465.7 1123.6,465 1132.1,464.3 1140.6,463.5 1149.1,462.8 1157.6,462.1 1166,461.4 1174.5,460.8 1183,460.1 1191.5,459.5 1200,458.9 1208.5,458.3 1217,457.7 1225.5,457.2 1234,456.6 1242.5,456.2 1251,455.7 1259.5,455.3 1268,454.9 1276.5,454.5 1285,454.2 1293.4,453.9 1301.9,453.7 1310.4,453.5 1318.9,453.3 1327.4,453.2 1335.9,453.1 1344.4,453 1352.9,453 1354.4,453" fill="none" stroke="#7777ab" stroke-width="2.1" stroke-linejoin="round" stroke-linecap="butt"/>
<path d="M842.3,422.6 843.3,422.6 851.8,422.6 860.3,422.6 868.8,422.6 877.3,422.6 885.8,422.6 894.3,422.6 902.8,422.6 911.2,422.6 919.7,422.6 928.2,422.6 936.7,422.6 945.2,422.6 953.7,422.6 962.2,422.6 970.7,422.6 979.2,422.6 987.7,422.6 996.2,422.6 1004.7,422.6 1013.2,422.6 1021.7,422.6 1030.2,422.6 1038.6,422.6 1047.1,422.6 1055.6,422.6 1064.1,422.6 1072.6,422.6 1081.1,422.6 1089.6,422.6 1098.1,422.6 1106.6,422.6 1115.1,422.6 1123.6,422.6 1132.1,422.6 1140.6,422.6 1149.1,422.6 1157.6,422.6 1166,422.6 1174.5,422.6 1183,422.6 1191.5,422.6 1200,422.6 1208.5,422.6 1217,422.6 1225.5,422.6 1234,422.6 1242.5,422.6 1251,422.6 1259.5,422.6 1268,422.6 1276.5,422.6 1285,422.6 1293.4,422.6 1301.9,422.6 1310.4,422.6 1318.9,422.6 1327.4,422.6 1335.9,422.6 1344.4,422.6 1352.9,422.6 1354.4,422.6" fill="none" stroke="#7777ab" stroke-width="2.1" stroke-linejoin="round" stroke-linecap="butt"/>
<path d="M842.3,408.4 843.3,408.4 851.8,408.4 860.3,408.5 868.8,408.6 877.3,408.7 885.8,408.9 894.3,409.1 902.8,409.3 911.2,409.6 919.7,410 928.2,410.3 936.7,410.7 945.2,411.1 953.7,411.6 962.2,412.1 970.7,412.6 979.2,413.1 987.7,413.7 996.2,414.3 1004.7,414.9 1013.2,415.5 1021.7,416.2 1030.2,416.8 1038.6,417.5 1047.1,418.2 1055.6,418.9 1064.1,419.7 1072.6,420.4 1081.1,421.1 1089.6,421.9 1098.1,422.6 1106.6,421.9 1115.1,421.1 1123.6,420.4 1132.1,419.7 1140.6,418.9 1149.1,418.2 1157.6,417.5 1166,416.8 1174.5,416.2 1183,415.5 1191.5,414.9 1200,414.3 1208.5,413.7 1217,413.1 1225.5,412.6 1234,412.1 1242.5,411.6 1251,411.1 1259.5,410.7 1268,410.3 1276.5,410 1285,409.6 1293.4,409.3 1301.9,409.1 1310.4,408.9 1318.9,408.7 1327.4,408.6 1335.9,408.5 1344.4,408.4 1352.9,408.4 1354.4,408.4" fill="none" stroke="#7777ab" stroke-width="2.1" stroke-linejoin="round" stroke-linecap="butt"/>
<path d="M842.3,378 843.3,378 851.8,378 860.3,378 868.8,378 877.3,378 885.8,378 894.3,378 902.8,378 911.2,378 919.7,378 928.2,378 936.7,378 945.2,378 953.7,378 962.2,378 970.7,378 979.2,378 987.7,378 996.2,378 1004.7,378 1013.2,378 1021.7,378 1030.2,378 1038.6,378 1047.1,378 1055.6,378 1064.1,378 1072.6,378 1081.1,378 1089.6,378 1098.1,378 1106.6,378 1115.1,378 1123.6,378 1132.1,378 1140.6,378 1149.1,378 1157.6,378 1166,378 1174.5,378 1183,378 1191.5,378 1200,378 1208.5,378 1217,378 1225.5,378 1234,378 1242.5,378 1251,378 1259.5,378 1268,378 1276.5,378 1285,378 1293.4,378 1301.9,378 1310.4,378 1318.9,378 1327.4,378 1335.9,378 1344.4,378 1352.9,378 1354.4,378" fill="none" stroke="#7777ab" stroke-width="2.1" stroke-linejoin="round" stroke-linecap="butt"/>
<path d="M842.3,363.8 843.3,363.8 851.8,363.8 860.3,363.9 868.8,364 877.3,364.1 885.8,364.3 894.3,364.5 902.8,364.8 911.2,365 919.7,365.4 928.2,365.7 936.7,366.1 945.2,366.5 953.7,367 962.2,367.5 970.7,368 979.2,368.5 987.7,369.1 996.2,369.7 1004.7,370.3 1013.2,370.9 1021.7,371.6 1030.2,372.3 1038.6,372.9 1047.1,373.6 1055.6,374.4 1064.1,375.1 1072.6,375.8 1081.1,376.6 1089.6,377.3 1098.1,378 1106.6,377.3 1115.1,376.6 1123.6,375.8 1132.1,375.1 1140.6,374.4 1149.1,373.6 1157.6,372.9 1166,372.3 1174.5,371.6 1183,370.9 1191.5,370.3 1200,369.7 1208.5,369.1 1217,368.5 1225.5,368 1234,367.5 1242.5,367 1251,366.5 1259.5,366.1 1268,365.7 1276.5,365.4 1285,365 1293.4,364.8 1301.9,364.5 1310.4,364.3 1318.9,364.1 1327.4,364 1335.9,363.9 1344.4,363.8 1352.9,363.8 1354.4,363.8" fill="none" stroke="#7777ab" stroke-width="2.1" stroke-linejoin="round" stroke-linecap="butt"/>
<path d="M842.3,333.5 843.3,333.5 851.8,333.5 860.3,333.5 868.8,333.5 877.3,333.5 885.8,333.5 894.3,333.5 902.8,333.5 911.2,333.5 919.7,333.5 928.2,333.5 936.7,333.5 945.2,333.5 953.7,333.5 962.2,333.5 970.7,333.5 979.2,333.5 987.7,333.5 996.2,333.5 1004.7,333.5 1013.2,333.5 1021.7,333.5 1030.2,333.5 1038.6,333.5 1047.1,333.5 1055.6,333.5 1064.1,333.5 1072.6,333.5 1081.1,333.5 1089.6,333.5 1098.1,333.5 1106.6,333.5 1115.1,333.5 1123.6,333.5 1132.1,333.5 1140.6,333.5 1149.1,333.5 1157.6,333.5 1166,333.5 1174.5,333.5 1183,333.5 1191.5,333.5 1200,333.5 1208.5,333.5 1217,333.5 1225.5,333.5 1234,333.5 1242.5,333.5 1251,333.5 1259.5,333.5 1268,333.5 1276.5,333.5 1285,333.5 1293.4,333.5 1301.9,333.5 1310.4,333.5 1318.9,333.5 1327.4,333.5 1335.9,333.5 1344.4,333.5 1352.9,333.5 1354.4,333.5" fill="none" stroke="#7777ab" stroke-width="2.1" stroke-linejoin="round" stroke-linecap="butt"/>
<path d="M842.3,319.2 843.3,319.2 851.8,319.2 860.3,319.3 868.8,319.4 877.3,319.5 885.8,319.7 894.3,319.9 902.8,320.2 911.2,320.5 919.7,320.8 928.2,321.1 936.7,321.5 945.2,321.9 953.7,322.4 962.2,322.9 970.7,323.4 979.2,323.9 987.7,324.5 996.2,325.1 1004.7,325.7 1013.2,326.3 1021.7,327 1030.2,327.7 1038.6,328.4 1047.1,329.1 1055.6,329.8 1064.1,330.5 1072.6,331.2 1081.1,332 1089.6,332.7 1098.1,333.5 1106.6,332.7 1115.1,332 1123.6,331.2 1132.1,330.5 1140.6,329.8 1149.1,329.1 1157.6,328.4 1166,327.7 1174.5,327 1183,326.3 1191.5,325.7 1200,325.1 1208.5,324.5 1217,323.9 1225.5,323.4 1234,322.9 1242.5,322.4 1251,321.9 1259.5,321.5 1268,321.1 1276.5,320.8 1285,320.5 1293.4,320.2 1301.9,319.9 1310.4,319.7 1318.9,319.5 1327.4,319.4 1335.9,319.3 1344.4,319.2 1352.9,319.2 1354.4,319.2" fill="none" stroke="#7777ab" stroke-width="2.1" stroke-linejoin="round" stroke-linecap="butt"/>
<path d="M842.3,288.9 843.3,288.9 851.8,288.9 860.3,288.9 868.8,288.9 877.3,288.9 885.8,288.9 894.3,288.9 902.8,288.9 911.2,288.9 919.7,288.9 928.2,288.9 936.7,288.9 945.2,288.9 953.7,288.9 962.2,288.9 970.7,288.9 979.2,288.9 987.7,288.9 996.2,288.9 1004.7,288.9 1013.2,288.9 1021.7,288.9 1030.2,288.9 1038.6,288.9 1047.1,288.9 1055.6,288.9 1064.1,288.9 1072.6,288.9 1081.1,288.9 1089.6,288.9 1098.1,288.9 1106.6,288.9 1115.1,288.9 1123.6,288.9 1132.1,288.9 1140.6,288.9 1149.1,288.9 1157.6,288.9 1166,288.9 1174.5,288.9 1183,288.9 1191.5,288.9 1200,288.9 1208.5,288.9 1217,288.9 1225.5,288.9 1234,288.9 1242.5,288.9 1251,288.9 1259.5,288.9 1268,288.9 1276.5,288.9 1285,288.9 1293.4,288.9 1301.9,288.9 1310.4,288.9 1318.9,288.9 1327.4,288.9 1335.9,288.9 1344.4,288.9 1352.9,288.9 1354.4,288.9" fill="none" stroke="#7777ab" stroke-width="2.1" stroke-linejoin="round" stroke-linecap="butt"/>
<path d="M842.3,274.6 843.3,274.6 851.8,274.7 860.3,274.7 868.8,274.8 877.3,274.9 885.8,275.1 894.3,275.3 902.8,275.6 911.2,275.9 919.7,276.2 928.2,276.5 936.7,276.9 945.2,277.3 953.7,277.8 962.2,278.3 970.7,278.8 979.2,279.3 987.7,279.9 996.2,280.5 1004.7,281.1 1013.2,281.7 1021.7,282.4 1030.2,283.1 1038.6,283.8 1047.1,284.5 1055.6,285.2 1064.1,285.9 1072.6,286.6 1081.1,287.4 1089.6,288.1 1098.1,288.9 1106.6,288.1 1115.1,287.4 1123.6,286.6 1132.1,285.9 1140.6,285.2 1149.1,284.5 1157.6,283.8 1166,283.1 1174.5,282.4 1183,281.7 1191.5,281.1 1200,280.5 1208.5,279.9 1217,279.3 1225.5,278.8 1234,278.3 1242.5,277.8 1251,277.3 1259.5,276.9 1268,276.5 1276.5,276.2 1285,275.9 1293.4,275.6 1301.9,275.3 1310.4,275.1 1318.9,274.9 1327.4,274.8 1335.9,274.7 1344.4,274.7 1352.9,274.6 1354.4,274.6" fill="none" stroke="#7777ab" stroke-width="2.1" stroke-linejoin="round" stroke-linecap="butt"/>
<path d="M842.3,244.3 843.3,244.3 851.8,244.3 860.3,244.3 868.8,244.3 877.3,244.3 885.8,244.3 894.3,244.3 902.8,244.3 911.2,244.3 919.7,244.3 928.2,244.3 936.7,244.3 945.2,244.3 953.7,244.3 962.2,244.3 970.7,244.3 979.2,244.3 987.7,244.3 996.2,244.3 1004.7,244.3 1013.2,244.3 1021.7,244.3 1030.2,244.3 1038.6,244.3 1047.1,244.3 1055.6,244.3 1064.1,244.3 1072.6,244.3 1081.1,244.3 1089.6,244.3 1098.1,244.3 1106.6,244.3 1115.1,244.3 1123.6,244.3 1132.1,244.3 1140.6,244.3 1149.1,244.3 1157.6,244.3 1166,244.3 1174.5,244.3 1183,244.3 1191.5,244.3 1200,244.3 1208.5,244.3 1217,244.3 1225.5,244.3 1234,244.3 1242.5,244.3 1251,244.3 1259.5,244.3 1268,244.3 1276.5,244.3 1285,244.3 1293.4,244.3 1301.9,244.3 1310.4,244.3 1318.9,244.3 1327.4,244.3 1335.9,244.3 1344.4,244.3 1352.9,244.3 1354.4,244.3" fill="none" stroke="#7777ab" stroke-width="2.1" stroke-linejoin="round" stroke-linecap="butt"/>
<path d="M842.3,230 843.3,230 851.8,230.1 860.3,230.1 868.8,230.2 877.3,230.4 885.8,230.5 894.3,230.7 902.8,231 911.2,231.3 919.7,231.6 928.2,231.9 936.7,232.3 945.2,232.8 953.7,233.2 962.2,233.7 970.7,234.2 979.2,234.8 987.7,235.3 996.2,235.9 1004.7,236.5 1013.2,237.2 1021.7,237.8 1030.2,238.5 1038.6,239.2 1047.1,239.9 1055.6,240.6 1064.1,241.3 1072.6,242 1081.1,242.8 1089.6,243.5 1098.1,244.3 1106.6,243.5 1115.1,242.8 1123.6,242 1132.1,241.3 1140.6,240.6 1149.1,239.9 1157.6,239.2 1166,238.5 1174.5,237.8 1183,237.2 1191.5,236.5 1200,235.9 1208.5,235.3 1217,234.8 1225.5,234.2 1234,233.7 1242.5,233.2 1251,232.8 1259.5,232.3 1268,231.9 1276.5,231.6 1285,231.3 1293.4,231 1301.9,230.7 1310.4,230.5 1318.9,230.4 1327.4,230.2 1335.9,230.1 1344.4,230.1 1352.9,230 1354.4,230" fill="none" stroke="#7777ab" stroke-width="2.1" stroke-linejoin="round" stroke-linecap="butt"/>
<path d="M842.3,199.7 843.3,199.7 851.8,199.7 860.3,199.7 868.8,199.7 877.3,199.7 885.8,199.7 894.3,199.7 902.8,199.7 911.2,199.7 919.7,199.7 928.2,199.7 936.7,199.7 945.2,199.7 953.7,199.7 962.2,199.7 970.7,199.7 979.2,199.7 987.7,199.7 996.2,199.7 1004.7,199.7 1013.2,199.7 1021.7,199.7 1030.2,199.7 1038.6,199.7 1047.1,199.7 1055.6,199.7 1064.1,199.7 1072.6,199.7 1081.1,199.7 1089.6,199.7 1098.1,199.7 1106.6,199.7 1115.1,199.7 1123.6,199.7 1132.1,199.7 1140.6,199.7 1149.1,199.7 1157.6,199.7 1166,199.7 1174.5,199.7 1183,199.7 1191.5,199.7 1200,199.7 1208.5,199.7 1217,199.7 1225.5,199.7 1234,199.7 1242.5,199.7 1251,199.7 1259.5,199.7 1268,199.7 1276.5,199.7 1285,199.7 1293.4,199.7 1301.9,199.7 1310.4,199.7 1318.9,199.7 1327.4,199.7 1335.9,199.7 1344.4,199.7 1352.9,199.7 1354.4,199.7" fill="none" stroke="#7777ab" stroke-width="2.1" stroke-linejoin="round" stroke-linecap="butt"/>
<path d="M842.3,185.5 843.3,185.5 851.8,185.5 860.3,185.5 868.8,185.6 877.3,185.8 885.8,185.9 894.3,186.1 902.8,186.4 911.2,186.7 919.7,187 928.2,187.4 936.7,187.7 945.2,188.2 953.7,188.6 962.2,189.1 970.7,189.6 979.2,190.2 987.7,190.7 996.2,191.3 1004.7,191.9 1013.2,192.6 1021.7,193.2 1030.2,193.9 1038.6,194.6 1047.1,195.3 1055.6,196 1064.1,196.7 1072.6,197.5 1081.1,198.2 1089.6,198.9 1098.1,199.7 1106.6,198.9 1115.1,198.2 1123.6,197.5 1132.1,196.7 1140.6,196 1149.1,195.3 1157.6,194.6 1166,193.9 1174.5,193.2 1183,192.6 1191.5,191.9 1200,191.3 1208.5,190.7 1217,190.2 1225.5,189.6 1234,189.1 1242.5,188.6 1251,188.2 1259.5,187.7 1268,187.4 1276.5,187 1285,186.7 1293.4,186.4 1301.9,186.1 1310.4,185.9 1318.9,185.8 1327.4,185.6 1335.9,185.5 1344.4,185.5 1352.9,185.5 1354.4,185.5" fill="none" stroke="#7777ab" stroke-width="2.1" stroke-linejoin="round" stroke-linecap="butt"/>
<path d="M842.3,155.1 843.3,155.1 851.8,155.1 860.3,155.1 868.8,155.1 877.3,155.1 885.8,155.1 894.3,155.1 902.8,155.1 911.2,155.1 919.7,155.1 928.2,155.1 936.7,155.1 945.2,155.1 953.7,155.1 962.2,155.1 970.7,155.1 979.2,155.1 987.7,155.1 996.2,155.1 1004.7,155.1 1013.2,155.1 1021.7,155.1 1030.2,155.1 1038.6,155.1 1047.1,155.1 1055.6,155.1 1064.1,155.1 1072.6,155.1 1081.1,155.1 1089.6,155.1 1098.1,155.1 1106.6,155.1 1115.1,155.1 1123.6,155.1 1132.1,155.1 1140.6,155.1 1149.1,155.1 1157.6,155.1 1166,155.1 1174.5,155.1 1183,155.1 1191.5,155.1 1200,155.1 1208.5,155.1 1217,155.1 1225.5,155.1 1234,155.1 1242.5,155.1 1251,155.1 1259.5,155.1 1268,155.1 1276.5,155.1 1285,155.1 1293.4,155.1 1301.9,155.1 1310.4,155.1 1318.9,155.1 1327.4,155.1 1335.9,155.1 1344.4,155.1 1352.9,155.1 1354.4,155.1" fill="none" stroke="#7777ab" stroke-width="2.1" stroke-linejoin="round" stroke-linecap="butt"/>
<path d="M842.3,140.9 843.3,140.9 851.8,140.9 860.3,140.9 868.8,141 877.3,141.2 885.8,141.3 894.3,141.6 902.8,141.8 911.2,142.1 919.7,142.4 928.2,142.8 936.7,143.2 945.2,143.6 953.7,144 962.2,144.5 970.7,145 979.2,145.6 987.7,146.1 996.2,146.7 1004.7,147.3 1013.2,148 1021.7,148.6 1030.2,149.3 1038.6,150 1047.1,150.7 1055.6,151.4 1064.1,152.1 1072.6,152.9 1081.1,153.6 1089.6,154.3 1098.1,155.1 1106.6,154.3 1115.1,153.6 1123.6,152.9 1132.1,152.1 1140.6,151.4 1149.1,150.7 1157.6,150 1166,149.3 1174.5,148.6 1183,148 1191.5,147.3 1200,146.7 1208.5,146.1 1217,145.6 1225.5,145 1234,144.5 1242.5,144 1251,143.6 1259.5,143.2 1268,142.8 1276.5,142.4 1285,142.1 1293.4,141.8 1301.9,141.6 1310.4,141.3 1318.9,141.2 1327.4,141 1335.9,140.9 1344.4,140.9 1352.9,140.9 1354.4,140.9" fill="none" stroke="#7777ab" stroke-width="2.1" stroke-linejoin="round" stroke-linecap="butt"/>
<path d="M842.3,110.5 843.3,110.5 851.8,110.5 860.3,110.5 868.8,110.5 877.3,110.5 885.8,110.5 894.3,110.5 902.8,110.5 911.2,110.5 919.7,110.5 928.2,110.5 936.7,110.5 945.2,110.5 953.7,110.5 962.2,110.5 970.7,110.5 979.2,110.5 987.7,110.5 996.2,110.5 1004.7,110.5 1013.2,110.5 1021.7,110.5 1030.2,110.5 1038.6,110.5 1047.1,110.5 1055.6,110.5 1064.1,110.5 1072.6,110.5 1081.1,110.5 1089.6,110.5 1098.1,110.5 1106.6,110.5 1115.1,110.5 1123.6,110.5 1132.1,110.5 1140.6,110.5 1149.1,110.5 1157.6,110.5 1166,110.5 1174.5,110.5 1183,110.5 1191.5,110.5 1200,110.5 1208.5,110.5 1217,110.5 1225.5,110.5 1234,110.5 1242.5,110.5 1251,110.5 1259.5,110.5 1268,110.5 1276.5,110.5 1285,110.5 1293.4,110.5 1301.9,110.5 1310.4,110.5 1318.9,110.5 1327.4,110.5 1335.9,110.5 1344.4,110.5 1352.9,110.5 1354.4,110.5" fill="none" stroke="#7777ab" stroke-width="2.1" stroke-linejoin="round" stroke-linecap="butt"/>
<path d="M842.3,96.3 843.3,96.3 851.8,96.3 860.3,96.4 868.8,96.4 877.3,96.6 885.8,96.8 894.3,97 902.8,97.2 911.2,97.5 919.7,97.8 928.2,98.2 936.7,98.6 945.2,99 953.7,99.4 962.2,99.9 970.7,100.4 979.2,101 987.7,101.5 996.2,102.1 1004.7,102.8 1013.2,103.4 1021.7,104 1030.2,104.7 1038.6,105.4 1047.1,106.1 1055.6,106.8 1064.1,107.5 1072.6,108.3 1081.1,109 1089.6,109.8 1098.1,110.5 1106.6,109.8 1115.1,109 1123.6,108.3 1132.1,107.5 1140.6,106.8 1149.1,106.1 1157.6,105.4 1166,104.7 1174.5,104 1183,103.4 1191.5,102.8 1200,102.1 1208.5,101.5 1217,101 1225.5,100.4 1234,99.9 1242.5,99.4 1251,99 1259.5,98.6 1268,98.2 1276.5,97.8 1285,97.5 1293.4,97.2 1301.9,97 1310.4,96.8 1318.9,96.6 1327.4,96.4 1335.9,96.4 1344.4,96.3 1352.9,96.3 1354.4,96.3" fill="none" stroke="#7777ab" stroke-width="2.1" stroke-linejoin="round" stroke-linecap="butt"/>
<path d="M842.3,518.7 843.3,518.7 851.8,518.7 860.3,518.7 868.8,518.7 877.3,518.7 885.8,518.7 894.3,518.7 902.8,518.7 911.2,518.7 919.7,518.7 928.2,518.7 936.7,518.7 945.2,518.7 953.7,518.7 962.2,518.7 970.7,518.7 979.2,518.7 987.7,518.7 996.2,518.7 1004.7,518.7 1013.2,518.7 1021.7,518.7 1030.2,518.7 1038.6,518.7 1047.1,518.7 1055.6,518.7 1064.1,518.7 1072.6,518.7 1081.1,518.7 1089.6,518.7 1098.1,518.7 1106.6,518.7 1115.1,518.7 1123.6,518.7 1132.1,518.7 1140.6,518.7 1149.1,518.7 1157.6,518.7 1166,518.7 1174.5,518.7 1183,518.7 1191.5,518.7 1200,518.7 1208.5,518.7 1217,518.7 1225.5,518.7 1234,518.7 1242.5,518.7 1251,518.7 1259.5,518.7 1268,518.7 1276.5,518.7 1285,518.7 1293.4,518.7 1301.9,518.7 1310.4,518.7 1318.9,518.7 1327.4,518.7 1335.9,518.7 1344.4,518.7 1352.9,518.7 1354.4,518.7" fill="none" stroke="#24705a" stroke-width="2.1" stroke-linejoin="round" stroke-linecap="butt"/>
<path d="M842.3,507.2 843.3,507.2 851.8,507.2 860.3,507.3 868.8,507.4 877.3,507.5 885.8,507.6 894.3,507.8 902.8,508 911.2,508.2 919.7,508.5 928.2,508.8 936.7,509.1 945.2,509.4 953.7,509.8 962.2,510.2 970.7,510.6 979.2,511 987.7,511.5 996.2,512 1004.7,512.4 1013.2,513 1021.7,513.5 1030.2,514 1038.6,514.6 1047.1,515.1 1055.6,515.7 1064.1,516.3 1072.6,516.9 1081.1,517.5 1089.6,518.1 1098.1,518.7 1106.6,518.1 1115.1,517.5 1123.6,516.9 1132.1,516.3 1140.6,515.7 1149.1,515.1 1157.6,514.6 1166,514 1174.5,513.5 1183,513 1191.5,512.4 1200,512 1208.5,511.5 1217,511 1225.5,510.6 1234,510.2 1242.5,509.8 1251,509.4 1259.5,509.1 1268,508.8 1276.5,508.5 1285,508.2 1293.4,508 1301.9,507.8 1310.4,507.6 1318.9,507.5 1327.4,507.4 1335.9,507.3 1344.4,507.2 1352.9,507.2 1354.4,507.2" fill="none" stroke="#24705a" stroke-width="2.1" stroke-linejoin="round" stroke-linecap="butt"/>
<path d="M842.3,474.1 843.3,474.1 851.8,474.1 860.3,474.1 868.8,474.1 877.3,474.1 885.8,474.1 894.3,474.1 902.8,474.1 911.2,474.1 919.7,474.1 928.2,474.1 936.7,474.1 945.2,474.1 953.7,474.1 962.2,474.1 970.7,474.1 979.2,474.1 987.7,474.1 996.2,474.1 1004.7,474.1 1013.2,474.1 1021.7,474.1 1030.2,474.1 1038.6,474.1 1047.1,474.1 1055.6,474.1 1064.1,474.1 1072.6,474.1 1081.1,474.1 1089.6,474.1 1098.1,474.1 1106.6,474.1 1115.1,474.1 1123.6,474.1 1132.1,474.1 1140.6,474.1 1149.1,474.1 1157.6,474.1 1166,474.1 1174.5,474.1 1183,474.1 1191.5,474.1 1200,474.1 1208.5,474.1 1217,474.1 1225.5,474.1 1234,474.1 1242.5,474.1 1251,474.1 1259.5,474.1 1268,474.1 1276.5,474.1 1285,474.1 1293.4,474.1 1301.9,474.1 1310.4,474.1 1318.9,474.1 1327.4,474.1 1335.9,474.1 1344.4,474.1 1352.9,474.1 1354.4,474.1" fill="none" stroke="#24705a" stroke-width="2.1" stroke-linejoin="round" stroke-linecap="butt"/>
<path d="M842.3,462.6 843.3,462.6 851.8,462.7 860.3,462.7 868.8,462.8 877.3,462.9 885.8,463 894.3,463.2 902.8,463.4 911.2,463.6 919.7,463.9 928.2,464.2 936.7,464.5 945.2,464.8 953.7,465.2 962.2,465.6 970.7,466 979.2,466.4 987.7,466.9 996.2,467.4 1004.7,467.9 1013.2,468.4 1021.7,468.9 1030.2,469.4 1038.6,470 1047.1,470.6 1055.6,471.1 1064.1,471.7 1072.6,472.3 1081.1,472.9 1089.6,473.5 1098.1,474.1 1106.6,473.5 1115.1,472.9 1123.6,472.3 1132.1,471.7 1140.6,471.1 1149.1,470.6 1157.6,470 1166,469.4 1174.5,468.9 1183,468.4 1191.5,467.9 1200,467.4 1208.5,466.9 1217,466.4 1225.5,466 1234,465.6 1242.5,465.2 1251,464.8 1259.5,464.5 1268,464.2 1276.5,463.9 1285,463.6 1293.4,463.4 1301.9,463.2 1310.4,463 1318.9,462.9 1327.4,462.8 1335.9,462.7 1344.4,462.7 1352.9,462.6 1354.4,462.6" fill="none" stroke="#24705a" stroke-width="2.1" stroke-linejoin="round" stroke-linecap="butt"/>
<path d="M842.3,429.5 843.3,429.5 851.8,429.5 860.3,429.5 868.8,429.5 877.3,429.5 885.8,429.5 894.3,429.5 902.8,429.5 911.2,429.5 919.7,429.5 928.2,429.5 936.7,429.5 945.2,429.5 953.7,429.5 962.2,429.5 970.7,429.5 979.2,429.5 987.7,429.5 996.2,429.5 1004.7,429.5 1013.2,429.5 1021.7,429.5 1030.2,429.5 1038.6,429.5 1047.1,429.5 1055.6,429.5 1064.1,429.5 1072.6,429.5 1081.1,429.5 1089.6,429.5 1098.1,429.5 1106.6,429.5 1115.1,429.5 1123.6,429.5 1132.1,429.5 1140.6,429.5 1149.1,429.5 1157.6,429.5 1166,429.5 1174.5,429.5 1183,429.5 1191.5,429.5 1200,429.5 1208.5,429.5 1217,429.5 1225.5,429.5 1234,429.5 1242.5,429.5 1251,429.5 1259.5,429.5 1268,429.5 1276.5,429.5 1285,429.5 1293.4,429.5 1301.9,429.5 1310.4,429.5 1318.9,429.5 1327.4,429.5 1335.9,429.5 1344.4,429.5 1352.9,429.5 1354.4,429.5" fill="none" stroke="#24705a" stroke-width="2.1" stroke-linejoin="round" stroke-linecap="butt"/>
<path d="M842.3,418 843.3,418 851.8,418.1 860.3,418.1 868.8,418.2 877.3,418.3 885.8,418.4 894.3,418.6 902.8,418.8 911.2,419 919.7,419.3 928.2,419.6 936.7,419.9 945.2,420.2 953.7,420.6 962.2,421 970.7,421.4 979.2,421.8 987.7,422.3 996.2,422.8 1004.7,423.3 1013.2,423.8 1021.7,424.3 1030.2,424.8 1038.6,425.4 1047.1,426 1055.6,426.5 1064.1,427.1 1072.6,427.7 1081.1,428.3 1089.6,428.9 1098.1,429.5 1106.6,428.9 1115.1,428.3 1123.6,427.7 1132.1,427.1 1140.6,426.5 1149.1,426 1157.6,425.4 1166,424.8 1174.5,424.3 1183,423.8 1191.5,423.3 1200,422.8 1208.5,422.3 1217,421.8 1225.5,421.4 1234,421 1242.5,420.6 1251,420.2 1259.5,419.9 1268,419.6 1276.5,419.3 1285,419 1293.4,418.8 1301.9,418.6 1310.4,418.4 1318.9,418.3 1327.4,418.2 1335.9,418.1 1344.4,418.1 1352.9,418 1354.4,418" fill="none" stroke="#24705a" stroke-width="2.1" stroke-linejoin="round" stroke-linecap="butt"/>
<path d="M842.3,384.9 843.3,384.9 851.8,384.9 860.3,384.9 868.8,384.9 877.3,384.9 885.8,384.9 894.3,384.9 902.8,384.9 911.2,384.9 919.7,384.9 928.2,384.9 936.7,384.9 945.2,384.9 953.7,384.9 962.2,384.9 970.7,384.9 979.2,384.9 987.7,384.9 996.2,384.9 1004.7,384.9 1013.2,384.9 1021.7,384.9 1030.2,384.9 1038.6,384.9 1047.1,384.9 1055.6,384.9 1064.1,384.9 1072.6,384.9 1081.1,384.9 1089.6,384.9 1098.1,384.9 1106.6,384.9 1115.1,384.9 1123.6,384.9 1132.1,384.9 1140.6,384.9 1149.1,384.9 1157.6,384.9 1166,384.9 1174.5,384.9 1183,384.9 1191.5,384.9 1200,384.9 1208.5,384.9 1217,384.9 1225.5,384.9 1234,384.9 1242.5,384.9 1251,384.9 1259.5,384.9 1268,384.9 1276.5,384.9 1285,384.9 1293.4,384.9 1301.9,384.9 1310.4,384.9 1318.9,384.9 1327.4,384.9 1335.9,384.9 1344.4,384.9 1352.9,384.9 1354.4,384.9" fill="none" stroke="#24705a" stroke-width="2.1" stroke-linejoin="round" stroke-linecap="butt"/>
<path d="M842.3,373.5 843.3,373.5 851.8,373.5 860.3,373.5 868.8,373.6 877.3,373.7 885.8,373.8 894.3,374 902.8,374.2 911.2,374.4 919.7,374.7 928.2,375 936.7,375.3 945.2,375.6 953.7,376 962.2,376.4 970.7,376.8 979.2,377.2 987.7,377.7 996.2,378.2 1004.7,378.7 1013.2,379.2 1021.7,379.7 1030.2,380.3 1038.6,380.8 1047.1,381.4 1055.6,382 1064.1,382.5 1072.6,383.1 1081.1,383.7 1089.6,384.3 1098.1,384.9 1106.6,384.3 1115.1,383.7 1123.6,383.1 1132.1,382.5 1140.6,382 1149.1,381.4 1157.6,380.8 1166,380.3 1174.5,379.7 1183,379.2 1191.5,378.7 1200,378.2 1208.5,377.7 1217,377.2 1225.5,376.8 1234,376.4 1242.5,376 1251,375.6 1259.5,375.3 1268,375 1276.5,374.7 1285,374.4 1293.4,374.2 1301.9,374 1310.4,373.8 1318.9,373.7 1327.4,373.6 1335.9,373.5 1344.4,373.5 1352.9,373.5 1354.4,373.5" fill="none" stroke="#24705a" stroke-width="2.1" stroke-linejoin="round" stroke-linecap="butt"/>
<path d="M842.3,340.3 843.3,340.3 851.8,340.3 860.3,340.3 868.8,340.3 877.3,340.3 885.8,340.3 894.3,340.3 902.8,340.3 911.2,340.3 919.7,340.3 928.2,340.3 936.7,340.3 945.2,340.3 953.7,340.3 962.2,340.3 970.7,340.3 979.2,340.3 987.7,340.3 996.2,340.3 1004.7,340.3 1013.2,340.3 1021.7,340.3 1030.2,340.3 1038.6,340.3 1047.1,340.3 1055.6,340.3 1064.1,340.3 1072.6,340.3 1081.1,340.3 1089.6,340.3 1098.1,340.3 1106.6,340.3 1115.1,340.3 1123.6,340.3 1132.1,340.3 1140.6,340.3 1149.1,340.3 1157.6,340.3 1166,340.3 1174.5,340.3 1183,340.3 1191.5,340.3 1200,340.3 1208.5,340.3 1217,340.3 1225.5,340.3 1234,340.3 1242.5,340.3 1251,340.3 1259.5,340.3 1268,340.3 1276.5,340.3 1285,340.3 1293.4,340.3 1301.9,340.3 1310.4,340.3 1318.9,340.3 1327.4,340.3 1335.9,340.3 1344.4,340.3 1352.9,340.3 1354.4,340.3" fill="none" stroke="#24705a" stroke-width="2.1" stroke-linejoin="round" stroke-linecap="butt"/>
<path d="M842.3,328.9 843.3,328.9 851.8,328.9 860.3,328.9 868.8,329 877.3,329.1 885.8,329.3 894.3,329.4 902.8,329.6 911.2,329.9 919.7,330.1 928.2,330.4 936.7,330.7 945.2,331.1 953.7,331.4 962.2,331.8 970.7,332.2 979.2,332.7 987.7,333.1 996.2,333.6 1004.7,334.1 1013.2,334.6 1021.7,335.1 1030.2,335.7 1038.6,336.2 1047.1,336.8 1055.6,337.4 1064.1,337.9 1072.6,338.5 1081.1,339.1 1089.6,339.7 1098.1,340.3 1106.6,339.7 1115.1,339.1 1123.6,338.5 1132.1,337.9 1140.6,337.4 1149.1,336.8 1157.6,336.2 1166,335.7 1174.5,335.1 1183,334.6 1191.5,334.1 1200,333.6 1208.5,333.1 1217,332.7 1225.5,332.2 1234,331.8 1242.5,331.4 1251,331.1 1259.5,330.7 1268,330.4 1276.5,330.1 1285,329.9 1293.4,329.6 1301.9,329.4 1310.4,329.3 1318.9,329.1 1327.4,329 1335.9,328.9 1344.4,328.9 1352.9,328.9 1354.4,328.9" fill="none" stroke="#24705a" stroke-width="2.1" stroke-linejoin="round" stroke-linecap="butt"/>
<path d="M842.3,295.7 843.3,295.7 851.8,295.7 860.3,295.7 868.8,295.7 877.3,295.7 885.8,295.7 894.3,295.7 902.8,295.7 911.2,295.7 919.7,295.7 928.2,295.7 936.7,295.7 945.2,295.7 953.7,295.7 962.2,295.7 970.7,295.7 979.2,295.7 987.7,295.7 996.2,295.7 1004.7,295.7 1013.2,295.7 1021.7,295.7 1030.2,295.7 1038.6,295.7 1047.1,295.7 1055.6,295.7 1064.1,295.7 1072.6,295.7 1081.1,295.7 1089.6,295.7 1098.1,295.7 1106.6,295.7 1115.1,295.7 1123.6,295.7 1132.1,295.7 1140.6,295.7 1149.1,295.7 1157.6,295.7 1166,295.7 1174.5,295.7 1183,295.7 1191.5,295.7 1200,295.7 1208.5,295.7 1217,295.7 1225.5,295.7 1234,295.7 1242.5,295.7 1251,295.7 1259.5,295.7 1268,295.7 1276.5,295.7 1285,295.7 1293.4,295.7 1301.9,295.7 1310.4,295.7 1318.9,295.7 1327.4,295.7 1335.9,295.7 1344.4,295.7 1352.9,295.7 1354.4,295.7" fill="none" stroke="#24705a" stroke-width="2.1" stroke-linejoin="round" stroke-linecap="butt"/>
<path d="M842.3,284.3 843.3,284.3 851.8,284.3 860.3,284.3 868.8,284.4 877.3,284.5 885.8,284.7 894.3,284.8 902.8,285 911.2,285.3 919.7,285.5 928.2,285.8 936.7,286.1 945.2,286.5 953.7,286.8 962.2,287.2 970.7,287.6 979.2,288.1 987.7,288.5 996.2,289 1004.7,289.5 1013.2,290 1021.7,290.5 1030.2,291.1 1038.6,291.6 1047.1,292.2 1055.6,292.8 1064.1,293.4 1072.6,293.9 1081.1,294.5 1089.6,295.1 1098.1,295.7 1106.6,295.1 1115.1,294.5 1123.6,293.9 1132.1,293.4 1140.6,292.8 1149.1,292.2 1157.6,291.6 1166,291.1 1174.5,290.5 1183,290 1191.5,289.5 1200,289 1208.5,288.5 1217,288.1 1225.5,287.6 1234,287.2 1242.5,286.8 1251,286.5 1259.5,286.1 1268,285.8 1276.5,285.5 1285,285.3 1293.4,285 1301.9,284.8 1310.4,284.7 1318.9,284.5 1327.4,284.4 1335.9,284.3 1344.4,284.3 1352.9,284.3 1354.4,284.3" fill="none" stroke="#24705a" stroke-width="2.1" stroke-linejoin="round" stroke-linecap="butt"/>
<path d="M842.3,251.2 843.3,251.2 851.8,251.2 860.3,251.2 868.8,251.2 877.3,251.2 885.8,251.2 894.3,251.2 902.8,251.2 911.2,251.2 919.7,251.2 928.2,251.2 936.7,251.2 945.2,251.2 953.7,251.2 962.2,251.2 970.7,251.2 979.2,251.2 987.7,251.2 996.2,251.2 1004.7,251.2 1013.2,251.2 1021.7,251.2 1030.2,251.2 1038.6,251.2 1047.1,251.2 1055.6,251.2 1064.1,251.2 1072.6,251.2 1081.1,251.2 1089.6,251.2 1098.1,251.2 1106.6,251.2 1115.1,251.2 1123.6,251.2 1132.1,251.2 1140.6,251.2 1149.1,251.2 1157.6,251.2 1166,251.2 1174.5,251.2 1183,251.2 1191.5,251.2 1200,251.2 1208.5,251.2 1217,251.2 1225.5,251.2 1234,251.2 1242.5,251.2 1251,251.2 1259.5,251.2 1268,251.2 1276.5,251.2 1285,251.2 1293.4,251.2 1301.9,251.2 1310.4,251.2 1318.9,251.2 1327.4,251.2 1335.9,251.2 1344.4,251.2 1352.9,251.2 1354.4,251.2" fill="none" stroke="#24705a" stroke-width="2.1" stroke-linejoin="round" stroke-linecap="butt"/>
<path d="M842.3,239.7 843.3,239.7 851.8,239.7 860.3,239.8 868.8,239.8 877.3,239.9 885.8,240.1 894.3,240.2 902.8,240.4 911.2,240.7 919.7,240.9 928.2,241.2 936.7,241.5 945.2,241.9 953.7,242.2 962.2,242.6 970.7,243 979.2,243.5 987.7,243.9 996.2,244.4 1004.7,244.9 1013.2,245.4 1021.7,245.9 1030.2,246.5 1038.6,247 1047.1,247.6 1055.6,248.2 1064.1,248.8 1072.6,249.4 1081.1,250 1089.6,250.6 1098.1,251.2 1106.6,250.6 1115.1,250 1123.6,249.4 1132.1,248.8 1140.6,248.2 1149.1,247.6 1157.6,247 1166,246.5 1174.5,245.9 1183,245.4 1191.5,244.9 1200,244.4 1208.5,243.9 1217,243.5 1225.5,243 1234,242.6 1242.5,242.2 1251,241.9 1259.5,241.5 1268,241.2 1276.5,240.9 1285,240.7 1293.4,240.4 1301.9,240.2 1310.4,240.1 1318.9,239.9 1327.4,239.8 1335.9,239.8 1344.4,239.7 1352.9,239.7 1354.4,239.7" fill="none" stroke="#24705a" stroke-width="2.1" stroke-linejoin="round" stroke-linecap="butt"/>
<path d="M842.3,206.6 843.3,206.6 851.8,206.6 860.3,206.6 868.8,206.6 877.3,206.6 885.8,206.6 894.3,206.6 902.8,206.6 911.2,206.6 919.7,206.6 928.2,206.6 936.7,206.6 945.2,206.6 953.7,206.6 962.2,206.6 970.7,206.6 979.2,206.6 987.7,206.6 996.2,206.6 1004.7,206.6 1013.2,206.6 1021.7,206.6 1030.2,206.6 1038.6,206.6 1047.1,206.6 1055.6,206.6 1064.1,206.6 1072.6,206.6 1081.1,206.6 1089.6,206.6 1098.1,206.6 1106.6,206.6 1115.1,206.6 1123.6,206.6 1132.1,206.6 1140.6,206.6 1149.1,206.6 1157.6,206.6 1166,206.6 1174.5,206.6 1183,206.6 1191.5,206.6 1200,206.6 1208.5,206.6 1217,206.6 1225.5,206.6 1234,206.6 1242.5,206.6 1251,206.6 1259.5,206.6 1268,206.6 1276.5,206.6 1285,206.6 1293.4,206.6 1301.9,206.6 1310.4,206.6 1318.9,206.6 1327.4,206.6 1335.9,206.6 1344.4,206.6 1352.9,206.6 1354.4,206.6" fill="none" stroke="#24705a" stroke-width="2.1" stroke-linejoin="round" stroke-linecap="butt"/>
<path d="M842.3,195.1 843.3,195.1 851.8,195.1 860.3,195.2 868.8,195.2 877.3,195.3 885.8,195.5 894.3,195.7 902.8,195.9 911.2,196.1 919.7,196.3 928.2,196.6 936.7,196.9 945.2,197.3 953.7,197.7 962.2,198 970.7,198.5 979.2,198.9 987.7,199.3 996.2,199.8 1004.7,200.3 1013.2,200.8 1021.7,201.4 1030.2,201.9 1038.6,202.5 1047.1,203 1055.6,203.6 1064.1,204.2 1072.6,204.8 1081.1,205.4 1089.6,206 1098.1,206.6 1106.6,206 1115.1,205.4 1123.6,204.8 1132.1,204.2 1140.6,203.6 1149.1,203 1157.6,202.5 1166,201.9 1174.5,201.4 1183,200.8 1191.5,200.3 1200,199.8 1208.5,199.3 1217,198.9 1225.5,198.5 1234,198 1242.5,197.7 1251,197.3 1259.5,196.9 1268,196.6 1276.5,196.3 1285,196.1 1293.4,195.9 1301.9,195.7 1310.4,195.5 1318.9,195.3 1327.4,195.2 1335.9,195.2 1344.4,195.1 1352.9,195.1 1354.4,195.1" fill="none" stroke="#24705a" stroke-width="2.1" stroke-linejoin="round" stroke-linecap="butt"/>
<path d="M842.3,162 843.3,162 851.8,162 860.3,162 868.8,162 877.3,162 885.8,162 894.3,162 902.8,162 911.2,162 919.7,162 928.2,162 936.7,162 945.2,162 953.7,162 962.2,162 970.7,162 979.2,162 987.7,162 996.2,162 1004.7,162 1013.2,162 1021.7,162 1030.2,162 1038.6,162 1047.1,162 1055.6,162 1064.1,162 1072.6,162 1081.1,162 1089.6,162 1098.1,162 1106.6,162 1115.1,162 1123.6,162 1132.1,162 1140.6,162 1149.1,162 1157.6,162 1166,162 1174.5,162 1183,162 1191.5,162 1200,162 1208.5,162 1217,162 1225.5,162 1234,162 1242.5,162 1251,162 1259.5,162 1268,162 1276.5,162 1285,162 1293.4,162 1301.9,162 1310.4,162 1318.9,162 1327.4,162 1335.9,162 1344.4,162 1352.9,162 1354.4,162" fill="none" stroke="#24705a" stroke-width="2.1" stroke-linejoin="round" stroke-linecap="butt"/>
<path d="M842.3,150.5 843.3,150.5 851.8,150.5 860.3,150.6 868.8,150.6 877.3,150.8 885.8,150.9 894.3,151.1 902.8,151.3 911.2,151.5 919.7,151.8 928.2,152 936.7,152.4 945.2,152.7 953.7,153.1 962.2,153.5 970.7,153.9 979.2,154.3 987.7,154.8 996.2,155.2 1004.7,155.7 1013.2,156.2 1021.7,156.8 1030.2,157.3 1038.6,157.9 1047.1,158.4 1055.6,159 1064.1,159.6 1072.6,160.2 1081.1,160.8 1089.6,161.4 1098.1,162 1106.6,161.4 1115.1,160.8 1123.6,160.2 1132.1,159.6 1140.6,159 1149.1,158.4 1157.6,157.9 1166,157.3 1174.5,156.8 1183,156.2 1191.5,155.7 1200,155.2 1208.5,154.8 1217,154.3 1225.5,153.9 1234,153.5 1242.5,153.1 1251,152.7 1259.5,152.4 1268,152 1276.5,151.8 1285,151.5 1293.4,151.3 1301.9,151.1 1310.4,150.9 1318.9,150.8 1327.4,150.6 1335.9,150.6 1344.4,150.5 1352.9,150.5 1354.4,150.5" fill="none" stroke="#24705a" stroke-width="2.1" stroke-linejoin="round" stroke-linecap="butt"/>
<path d="M842.3,117.4 843.3,117.4 851.8,117.4 860.3,117.4 868.8,117.4 877.3,117.4 885.8,117.4 894.3,117.4 902.8,117.4 911.2,117.4 919.7,117.4 928.2,117.4 936.7,117.4 945.2,117.4 953.7,117.4 962.2,117.4 970.7,117.4 979.2,117.4 987.7,117.4 996.2,117.4 1004.7,117.4 1013.2,117.4 1021.7,117.4 1030.2,117.4 1038.6,117.4 1047.1,117.4 1055.6,117.4 1064.1,117.4 1072.6,117.4 1081.1,117.4 1089.6,117.4 1098.1,117.4 1106.6,117.4 1115.1,117.4 1123.6,117.4 1132.1,117.4 1140.6,117.4 1149.1,117.4 1157.6,117.4 1166,117.4 1174.5,117.4 1183,117.4 1191.5,117.4 1200,117.4 1208.5,117.4 1217,117.4 1225.5,117.4 1234,117.4 1242.5,117.4 1251,117.4 1259.5,117.4 1268,117.4 1276.5,117.4 1285,117.4 1293.4,117.4 1301.9,117.4 1310.4,117.4 1318.9,117.4 1327.4,117.4 1335.9,117.4 1344.4,117.4 1352.9,117.4 1354.4,117.4" fill="none" stroke="#24705a" stroke-width="2.1" stroke-linejoin="round" stroke-linecap="butt"/>
<path d="M842.3,105.9 843.3,105.9 851.8,105.9 860.3,106 868.8,106.1 877.3,106.2 885.8,106.3 894.3,106.5 902.8,106.7 911.2,106.9 919.7,107.2 928.2,107.5 936.7,107.8 945.2,108.1 953.7,108.5 962.2,108.9 970.7,109.3 979.2,109.7 987.7,110.2 996.2,110.6 1004.7,111.1 1013.2,111.6 1021.7,112.2 1030.2,112.7 1038.6,113.3 1047.1,113.8 1055.6,114.4 1064.1,115 1072.6,115.6 1081.1,116.2 1089.6,116.8 1098.1,117.4 1106.6,116.8 1115.1,116.2 1123.6,115.6 1132.1,115 1140.6,114.4 1149.1,113.8 1157.6,113.3 1166,112.7 1174.5,112.2 1183,111.6 1191.5,111.1 1200,110.6 1208.5,110.2 1217,109.7 1225.5,109.3 1234,108.9 1242.5,108.5 1251,108.1 1259.5,107.8 1268,107.5 1276.5,107.2 1285,106.9 1293.4,106.7 1301.9,106.5 1310.4,106.3 1318.9,106.2 1327.4,106.1 1335.9,106 1344.4,105.9 1352.9,105.9 1354.4,105.9" fill="none" stroke="#24705a" stroke-width="2.1" stroke-linejoin="round" stroke-linecap="butt"/>
<path d="M842.3,72.8 843.3,72.8 851.8,72.8 860.3,72.8 868.8,72.8 877.3,72.8 885.8,72.8 894.3,72.8 902.8,72.8 911.2,72.8 919.7,72.8 928.2,72.8 936.7,72.8 945.2,72.8 953.7,72.8 962.2,72.8 970.7,72.8 979.2,72.8 987.7,72.8 996.2,72.8 1004.7,72.8 1013.2,72.8 1021.7,72.8 1030.2,72.8 1038.6,72.8 1047.1,72.8 1055.6,72.8 1064.1,72.8 1072.6,72.8 1081.1,72.8 1089.6,72.8 1098.1,72.8 1106.6,72.8 1115.1,72.8 1123.6,72.8 1132.1,72.8 1140.6,72.8 1149.1,72.8 1157.6,72.8 1166,72.8 1174.5,72.8 1183,72.8 1191.5,72.8 1200,72.8 1208.5,72.8 1217,72.8 1225.5,72.8 1234,72.8 1242.5,72.8 1251,72.8 1259.5,72.8 1268,72.8 1276.5,72.8 1285,72.8 1293.4,72.8 1301.9,72.8 1310.4,72.8 1318.9,72.8 1327.4,72.8 1335.9,72.8 1344.4,72.8 1352.9,72.8 1354.4,72.8" fill="none" stroke="#24705a" stroke-width="2.1" stroke-linejoin="round" stroke-linecap="butt"/>
<path d="M1076.7,71.3 1081.1,71.6 1089.6,72.2 1098.1,72.8 1106.6,72.2 1115.1,71.6 1119.5,71.3" fill="none" stroke="#24705a" stroke-width="2.1" stroke-linejoin="round" stroke-linecap="butt"/>
<path d="M842.3,112.2 843.3,112.2 851.8,112.2 860.3,112.2 868.8,112.2 877.3,112.2 885.8,112.2 894.3,112.2 902.8,112.2 911.2,112.2 919.7,112.2 928.2,112.2 936.7,112.2 945.2,112.2 953.7,112.2 962.2,112.2 970.7,112.2 979.2,112.2 987.7,112.2 996.2,112.2 1004.7,112.2 1013.2,112.2 1021.7,112.2 1030.2,112.2 1038.6,112.2 1047.1,112.2 1055.6,112.2 1064.1,112.2 1072.6,112.2 1081.1,112.2 1089.6,112.2 1098.1,112.2 1106.6,112.2 1115.1,112.2 1123.6,112.2 1132.1,112.2 1140.6,112.2 1149.1,112.2 1157.6,112.2 1166,112.2 1174.5,112.2 1183,112.2 1191.5,112.2 1200,112.2 1208.5,112.2 1217,112.2 1225.5,112.2 1234,112.2 1242.5,112.2 1251,112.2 1259.5,112.2 1268,112.2 1276.5,112.2 1285,112.2 1293.4,112.2 1301.9,112.2 1310.4,112.2 1318.9,112.2 1327.4,112.2 1335.9,112.2 1344.4,112.2 1352.9,112.2 1354.4,112.2" fill="none" stroke="#a88c3a" stroke-width="2.1" stroke-linejoin="round" stroke-linecap="butt"/>
<path d="M842.3,102.7 843.3,102.7 851.8,102.7 860.3,102.7 868.8,102.8 877.3,102.9 885.8,103 894.3,103.1 902.8,103.3 911.2,103.5 919.7,103.7 928.2,103.9 936.7,104.2 945.2,104.5 953.7,104.8 962.2,105.1 970.7,105.5 979.2,105.8 987.7,106.2 996.2,106.6 1004.7,107 1013.2,107.4 1021.7,107.9 1030.2,108.3 1038.6,108.8 1047.1,109.2 1055.6,109.7 1064.1,110.2 1072.6,110.7 1081.1,111.2 1089.6,111.7 1098.1,112.2 1106.6,111.7 1115.1,111.2 1123.6,110.7 1132.1,110.2 1140.6,109.7 1149.1,109.2 1157.6,108.8 1166,108.3 1174.5,107.9 1183,107.4 1191.5,107 1200,106.6 1208.5,106.2 1217,105.8 1225.5,105.5 1234,105.1 1242.5,104.8 1251,104.5 1259.5,104.2 1268,103.9 1276.5,103.7 1285,103.5 1293.4,103.3 1301.9,103.1 1310.4,103 1318.9,102.9 1327.4,102.8 1335.9,102.7 1344.4,102.7 1352.9,102.7 1354.4,102.7" fill="none" stroke="#a88c3a" stroke-width="2.1" stroke-linejoin="round" stroke-linecap="butt"/>
<path d="M842.3,67.6 843.3,67.6 851.8,67.6 860.3,67.6 868.8,67.6 877.3,67.6 885.8,67.6 894.3,67.6 902.8,67.6 911.2,67.6 919.7,67.6 928.2,67.6 936.7,67.6 945.2,67.6 953.7,67.6 962.2,67.6 970.7,67.6 979.2,67.6 987.7,67.6 996.2,67.6 1004.7,67.6 1013.2,67.6 1015.5,67.6" fill="none" stroke="#a88c3a" stroke-width="2.1" stroke-linejoin="round" stroke-linecap="butt"/>
<path d="M1180.7,67.6 1183,67.6 1191.5,67.6 1200,67.6 1208.5,67.6 1217,67.6 1225.5,67.6 1234,67.6 1242.5,67.6 1251,67.6 1259.5,67.6 1268,67.6 1276.5,67.6 1285,67.6 1293.4,67.6 1301.9,67.6 1310.4,67.6 1318.9,67.6 1327.4,67.6 1335.9,67.6 1344.4,67.6 1352.9,67.6 1354.4,67.6" fill="none" stroke="#a88c3a" stroke-width="2.1" stroke-linejoin="round" stroke-linecap="butt"/>
<path d="M842.3,142.6 843.3,142.6 851.8,142.8 860.3,143.3 868.8,144.3 877.3,145.5 885.8,147.2 894.3,149.1 902.8,151.4 911.2,154 919.7,156.9 928.2,160 936.7,163.4 945.2,166.9 953.7,170.7 962.2,174.6 970.7,178.7 979.2,182.8 987.7,187.1 996.2,191.4 1004.7,195.8 1013.2,200.1 1021.7,204.5 1030.2,208.8 1038.6,213.1 1047.1,217.3 1055.6,221.5 1064.1,225.6 1072.6,229.5 1081.1,233.4 1089.6,237.2 1098.1,240.8 1106.6,244.4 1115.1,247.8 1123.6,251.1 1132.1,254.2 1140.6,257.3 1149.1,260.2 1157.6,263 1166,265.7 1174.5,268.2 1183,270.7 1191.5,273 1200,275.2 1208.5,277.4 1217,279.4 1225.5,281.3 1234,283 1242.5,284.7 1251,286.3 1259.5,287.7 1268,289.1 1276.5,290.3 1285,291.4 1293.4,292.3 1301.9,293.2 1310.4,293.9 1318.9,294.5 1327.4,295 1335.9,295.3 1344.4,295.5 1352.9,295.6 1354.4,295.6" fill="none" stroke="#a95e35" stroke-width="2.1" stroke-linejoin="round" stroke-linecap="butt"/>
<path d="M842.3,295.6 843.3,295.6 851.8,295.5 860.3,295.3 868.8,295 877.3,294.5 885.8,293.9 894.3,293.2 902.8,292.3 911.2,291.4 919.7,290.3 928.2,289.1 936.7,287.7 945.2,286.3 953.7,284.7 962.2,283 970.7,281.3 979.2,279.4 987.7,277.4 996.2,275.2 1004.7,273 1013.2,270.7 1021.7,268.2 1030.2,265.7 1038.6,263 1047.1,260.2 1055.6,257.3 1064.1,254.2 1072.6,251.1 1081.1,247.8 1089.6,244.4 1098.1,240.8 1106.6,237.2 1115.1,233.4 1123.6,229.5 1132.1,225.6 1140.6,221.5 1149.1,217.3 1157.6,213.1 1166,208.8 1174.5,204.5 1183,200.1 1191.5,195.8 1200,191.4 1208.5,187.1 1217,182.8 1225.5,178.7 1234,174.6 1242.5,170.7 1251,166.9 1259.5,163.4 1268,160 1276.5,156.9 1285,154 1293.4,151.4 1301.9,149.1 1310.4,147.2 1318.9,145.5 1327.4,144.3 1335.9,143.3 1344.4,142.8 1352.9,142.6 1354.4,142.6" fill="none" stroke="#a95e35" stroke-width="2.1" stroke-linejoin="round" stroke-linecap="butt"/>
<path d="M842.3,98 843.3,98 851.8,98.2 860.3,98.8 868.8,99.7 877.3,101 885.8,102.6 894.3,104.5 902.8,106.8 911.2,109.4 919.7,112.3 928.2,115.4 936.7,118.8 945.2,122.3 953.7,126.1 962.2,130 970.7,134.1 979.2,138.2 987.7,142.5 996.2,146.8 1004.7,151.2 1013.2,155.5 1021.7,159.9 1030.2,164.2 1038.6,168.5 1047.1,172.7 1055.6,176.9 1064.1,181 1072.6,185 1081.1,188.8 1089.6,192.6 1098.1,196.2 1106.6,199.8 1115.1,203.2 1123.6,206.5 1132.1,209.6 1140.6,212.7 1149.1,215.6 1157.6,218.4 1166,221.1 1174.5,223.6 1183,226.1 1191.5,228.4 1200,230.7 1208.5,232.8 1217,234.8 1225.5,236.7 1234,238.4 1242.5,240.1 1251,241.7 1259.5,243.1 1268,244.5 1276.5,245.7 1285,246.8 1293.4,247.8 1301.9,248.6 1310.4,249.3 1318.9,249.9 1327.4,250.4 1335.9,250.7 1344.4,250.9 1352.9,251 1354.4,251" fill="none" stroke="#a95e35" stroke-width="2.1" stroke-linejoin="round" stroke-linecap="butt"/>
<path d="M842.3,251 843.3,251 851.8,250.9 860.3,250.7 868.8,250.4 877.3,249.9 885.8,249.3 894.3,248.6 902.8,247.8 911.2,246.8 919.7,245.7 928.2,244.5 936.7,243.1 945.2,241.7 953.7,240.1 962.2,238.4 970.7,236.7 979.2,234.8 987.7,232.8 996.2,230.7 1004.7,228.4 1013.2,226.1 1021.7,223.6 1030.2,221.1 1038.6,218.4 1047.1,215.6 1055.6,212.7 1064.1,209.6 1072.6,206.5 1081.1,203.2 1089.6,199.8 1098.1,196.2 1106.6,192.6 1115.1,188.8 1123.6,185 1132.1,181 1140.6,176.9 1149.1,172.7 1157.6,168.5 1166,164.2 1174.5,159.9 1183,155.5 1191.5,151.2 1200,146.8 1208.5,142.5 1217,138.2 1225.5,134.1 1234,130 1242.5,126.1 1251,122.3 1259.5,118.8 1268,115.4 1276.5,112.3 1285,109.4 1293.4,106.8 1301.9,104.5 1310.4,102.6 1318.9,101 1327.4,99.7 1335.9,98.8 1344.4,98.2 1352.9,98 1354.4,98" fill="none" stroke="#a95e35" stroke-width="2.1" stroke-linejoin="round" stroke-linecap="butt"/>
<path d="M919.2,67.5 919.7,67.7 928.2,70.8 936.7,74.2 945.2,77.8 953.7,81.5 962.2,85.4 970.7,89.5 979.2,93.7 987.7,97.9 996.2,102.2 1004.7,106.6 1013.2,110.9 1021.7,115.3 1030.2,119.6 1038.6,123.9 1047.1,128.2 1055.6,132.3 1064.1,136.4 1072.6,140.4 1081.1,144.2 1089.6,148 1098.1,151.7 1106.6,155.2 1115.1,158.6 1123.6,161.9 1132.1,165 1140.6,168.1 1149.1,171 1157.6,173.8 1166,176.5 1174.5,179 1183,181.5 1191.5,183.8 1200,186.1 1208.5,188.2 1217,190.2 1225.5,192.1 1234,193.9 1242.5,195.5 1251,197.1 1259.5,198.5 1268,199.9 1276.5,201.1 1285,202.2 1293.4,203.2 1301.9,204 1310.4,204.7 1318.9,205.3 1327.4,205.8 1335.9,206.1 1344.4,206.3 1352.9,206.4 1354.4,206.4" fill="none" stroke="#a95e35" stroke-width="2.1" stroke-linejoin="round" stroke-linecap="butt"/>
<path d="M842.3,206.4 843.3,206.4 851.8,206.3 860.3,206.1 868.8,205.8 877.3,205.3 885.8,204.7 894.3,204 902.8,203.2 911.2,202.2 919.7,201.1 928.2,199.9 936.7,198.5 945.2,197.1 953.7,195.5 962.2,193.9 970.7,192.1 979.2,190.2 987.7,188.2 996.2,186.1 1004.7,183.8 1013.2,181.5 1021.7,179 1030.2,176.5 1038.6,173.8 1047.1,171 1055.6,168.1 1064.1,165 1072.6,161.9 1081.1,158.6 1089.6,155.2 1098.1,151.7 1106.6,148 1115.1,144.2 1123.6,140.4 1132.1,136.4 1140.6,132.3 1149.1,128.2 1157.6,123.9 1166,119.6 1174.5,115.3 1183,110.9 1191.5,106.6 1200,102.2 1208.5,97.9 1217,93.7 1225.5,89.5 1234,85.4 1242.5,81.5 1251,77.8 1259.5,74.2 1268,70.8 1276.5,67.7 1277,67.5" fill="none" stroke="#a95e35" stroke-width="2.1" stroke-linejoin="round" stroke-linecap="butt"/>
<path d="M1016.1,67.8 1021.7,70.7 1030.2,75 1038.6,79.3 1047.1,83.6 1055.6,87.7 1064.1,91.8 1072.6,95.8 1081.1,99.6 1089.6,103.4 1098.1,107.1 1106.6,110.6 1115.1,114 1123.6,117.3 1132.1,120.5 1140.6,123.5 1149.1,126.4 1157.6,129.2 1166,131.9 1174.5,134.5 1183,136.9 1191.5,139.2 1200,141.5 1208.5,143.6 1217,145.6 1225.5,147.5 1234,149.3 1242.5,150.9 1251,152.5 1259.5,154 1268,155.3 1276.5,156.5 1285,157.6 1293.4,158.6 1301.9,159.4 1310.4,160.2 1318.9,160.7 1327.4,161.2 1335.9,161.5 1344.4,161.7 1352.9,161.8 1354.4,161.8" fill="none" stroke="#a95e35" stroke-width="2.1" stroke-linejoin="round" stroke-linecap="butt"/>
<path d="M842.3,161.8 843.3,161.8 851.8,161.7 860.3,161.5 868.8,161.2 877.3,160.7 885.8,160.2 894.3,159.4 902.8,158.6 911.2,157.6 919.7,156.5 928.2,155.3 936.7,154 945.2,152.5 953.7,150.9 962.2,149.3 970.7,147.5 979.2,145.6 987.7,143.6 996.2,141.5 1004.7,139.2 1013.2,136.9 1021.7,134.5 1030.2,131.9 1038.6,129.2 1047.1,126.4 1055.6,123.5 1064.1,120.5 1072.6,117.3 1081.1,114 1089.6,110.6 1098.1,107.1 1106.6,103.4 1115.1,99.6 1123.6,95.8 1132.1,91.8 1140.6,87.7 1149.1,83.6 1157.6,79.3 1166,75 1174.5,70.7 1180.1,67.8" fill="none" stroke="#a95e35" stroke-width="2.1" stroke-linejoin="round" stroke-linecap="butt"/>
<path d="M1120,71.3 1123.6,72.7 1132.1,75.9 1140.6,78.9 1149.1,81.8 1157.6,84.6 1166,87.3 1174.5,89.9 1183,92.3 1191.5,94.7 1200,96.9 1208.5,99 1217,101 1225.5,102.9 1234,104.7 1242.5,106.4 1251,107.9 1259.5,109.4 1268,110.7 1276.5,111.9 1285,113 1293.4,114 1301.9,114.8 1310.4,115.6 1318.9,116.2 1327.4,116.6 1335.9,117 1344.4,117.2 1352.9,117.2 1354.4,117.2" fill="none" stroke="#a95e35" stroke-width="2.1" stroke-linejoin="round" stroke-linecap="butt"/>
<path d="M842.3,117.2 843.3,117.2 851.8,117.2 860.3,117 868.8,116.6 877.3,116.2 885.8,115.6 894.3,114.8 902.8,114 911.2,113 919.7,111.9 928.2,110.7 936.7,109.4 945.2,107.9 953.7,106.4 962.2,104.7 970.7,102.9 979.2,101 987.7,99 996.2,96.9 1004.7,94.7 1013.2,92.3 1021.7,89.9 1030.2,87.3 1038.6,84.6 1047.1,81.8 1055.6,78.9 1064.1,75.9 1072.6,72.7 1076.2,71.3" fill="none" stroke="#a95e35" stroke-width="2.1" stroke-linejoin="round" stroke-linecap="butt"/>
<path d="M1277.5,67.5 1285,68.4 1293.4,69.4 1301.9,70.2 1310.4,71 1318.9,71.6 1327.4,72 1335.9,72.4 1344.4,72.6 1352.9,72.6 1354.4,72.6" fill="none" stroke="#a95e35" stroke-width="2.1" stroke-linejoin="round" stroke-linecap="butt"/>
<path d="M842.3,72.6 843.3,72.6 851.8,72.6 860.3,72.4 868.8,72 877.3,71.6 885.8,71 894.3,70.2 902.8,69.4 911.2,68.4 918.7,67.5" fill="none" stroke="#a95e35" stroke-width="2.1" stroke-linejoin="round" stroke-linecap="butt"/>
<path d="M839.9,1002.3 843.3,1002.3 851.8,1002.3 860.3,1002.3 868.8,1002.3 877.3,1002.3 885.8,1002.3 894.3,1002.3 902.8,1002.3 911.2,1002.3 919.7,1002.3 928.2,1002.3 936.7,1002.3 945.2,1002.3 953.7,1002.3 962.2,1002.3 970.7,1002.3 979.2,1002.3 987.7,1002.3 996.2,1002.3 1004.7,1002.3 1013.2,1002.3 1021.7,1002.3 1030.2,1002.3 1038.6,1002.3 1047.1,1002.3 1055.6,1002.3 1064.1,1002.3 1072.6,1002.3 1081.1,1002.3 1089.6,1002.3 1098.1,1002.3 1106.6,1002.3 1115.1,1002.3 1123.6,1002.3 1132.1,1002.3 1140.6,1002.3 1149.1,1002.3 1157.6,1002.3 1166,1002.3 1174.5,1002.3 1183,1002.3 1191.5,1002.3 1200,1002.3 1208.5,1002.3 1217,1002.3 1225.5,1002.3 1234,1002.3 1242.5,1002.3 1251,1002.3 1259.5,1002.3 1268,1002.3 1276.5,1002.3 1285,1002.3 1293.4,1002.3 1301.9,1002.3 1310.4,1002.3 1318.9,1002.3 1327.4,1002.3 1335.9,1002.3 1344.4,1002.3 1352.9,1002.3 1356.7,1002.3" fill="none" stroke="#343276" stroke-width="6.6" stroke-linejoin="round" stroke-linecap="butt"/>
<path d="M839.9,988.1 843.3,988.1 851.8,988.1 860.3,988.1 868.8,988.2 877.3,988.4 885.8,988.6 894.3,988.8 902.8,989 911.2,989.3 919.7,989.6 928.2,990 936.7,990.4 945.2,990.8 953.7,991.2 962.2,991.7 970.7,992.2 979.2,992.8 987.7,993.3 996.2,993.9 1004.7,994.5 1013.2,995.2 1021.7,995.8 1030.2,996.5 1038.6,997.2 1047.1,997.9 1055.6,998.6 1064.1,999.3 1072.6,1000.1 1081.1,1000.8 1089.6,1001.6 1098.1,1002.3 1106.6,1001.6 1115.1,1000.8 1123.6,1000.1 1132.1,999.3 1140.6,998.6 1149.1,997.9 1157.6,997.2 1166,996.5 1174.5,995.8 1183,995.2 1191.5,994.5 1200,993.9 1208.5,993.3 1217,992.8 1225.5,992.2 1234,991.7 1242.5,991.2 1251,990.8 1259.5,990.4 1268,990 1276.5,989.6 1285,989.3 1293.4,989 1301.9,988.8 1310.4,988.6 1318.9,988.4 1327.4,988.2 1335.9,988.1 1344.4,988.1 1352.9,988.1 1356.7,988.1" fill="none" stroke="#343276" stroke-width="6.6" stroke-linejoin="round" stroke-linecap="butt"/>
<path d="M839.9,563.3 843.3,563.3 851.8,563.3 860.3,563.3 868.8,563.3 877.3,563.3 885.8,563.3 894.3,563.3 902.8,563.3 911.2,563.3 919.7,563.3 928.2,563.3 936.7,563.3 945.2,563.3 953.7,563.3 962.2,563.3 970.7,563.3 979.2,563.3 987.7,563.3 996.2,563.3 1004.7,563.3 1013.2,563.3 1021.7,563.3 1030.2,563.3 1038.6,563.3 1047.1,563.3 1055.6,563.3 1064.1,563.3 1072.6,563.3 1081.1,563.3 1089.6,563.3 1098.1,563.3 1106.6,563.3 1115.1,563.3 1123.6,563.3 1132.1,563.3 1140.6,563.3 1149.1,563.3 1157.6,563.3 1166,563.3 1174.5,563.3 1183,563.3 1191.5,563.3 1200,563.3 1208.5,563.3 1217,563.3 1225.5,563.3 1234,563.3 1242.5,563.3 1251,563.3 1259.5,563.3 1268,563.3 1276.5,563.3 1285,563.3 1293.4,563.3 1301.9,563.3 1310.4,563.3 1318.9,563.3 1327.4,563.3 1335.9,563.3 1344.4,563.3 1352.9,563.3 1356.7,563.3" fill="none" stroke="#24705a" stroke-width="6.6" stroke-linejoin="round" stroke-linecap="butt"/>
<path d="M839.9,551.8 843.3,551.8 851.8,551.8 860.3,551.9 868.8,552 877.3,552.1 885.8,552.2 894.3,552.4 902.8,552.6 911.2,552.8 919.7,553.1 928.2,553.4 936.7,553.7 945.2,554 953.7,554.4 962.2,554.8 970.7,555.2 979.2,555.6 987.7,556.1 996.2,556.5 1004.7,557 1013.2,557.5 1021.7,558.1 1030.2,558.6 1038.6,559.2 1047.1,559.7 1055.6,560.3 1064.1,560.9 1072.6,561.5 1081.1,562.1 1089.6,562.7 1098.1,563.3 1106.6,562.7 1115.1,562.1 1123.6,561.5 1132.1,560.9 1140.6,560.3 1149.1,559.7 1157.6,559.2 1166,558.6 1174.5,558.1 1183,557.5 1191.5,557 1200,556.5 1208.5,556.1 1217,555.6 1225.5,555.2 1234,554.8 1242.5,554.4 1251,554 1259.5,553.7 1268,553.4 1276.5,553.1 1285,552.8 1293.4,552.6 1301.9,552.4 1310.4,552.2 1318.9,552.1 1327.4,552 1335.9,551.9 1344.4,551.8 1352.9,551.8 1356.7,551.8" fill="none" stroke="#24705a" stroke-width="6.6" stroke-linejoin="round" stroke-linecap="butt"/>
<path d="M839.9,156.8 843.3,156.8 851.8,156.8 860.3,156.8 868.8,156.8 877.3,156.8 885.8,156.8 894.3,156.8 902.8,156.8 911.2,156.8 919.7,156.8 928.2,156.8 936.7,156.8 945.2,156.8 953.7,156.8 962.2,156.8 970.7,156.8 979.2,156.8 987.7,156.8 996.2,156.8 1004.7,156.8 1013.2,156.8 1021.7,156.8 1030.2,156.8 1038.6,156.8 1047.1,156.8 1055.6,156.8 1064.1,156.8 1072.6,156.8 1081.1,156.8 1089.6,156.8 1098.1,156.8 1106.6,156.8 1115.1,156.8 1123.6,156.8 1132.1,156.8 1140.6,156.8 1149.1,156.8 1157.6,156.8 1166,156.8 1174.5,156.8 1183,156.8 1191.5,156.8 1200,156.8 1208.5,156.8 1217,156.8 1225.5,156.8 1234,156.8 1242.5,156.8 1251,156.8 1259.5,156.8 1268,156.8 1276.5,156.8 1285,156.8 1293.4,156.8 1301.9,156.8 1310.4,156.8 1318.9,156.8 1327.4,156.8 1335.9,156.8 1344.4,156.8 1352.9,156.8 1356.7,156.8" fill="none" stroke="#a88c3a" stroke-width="6.6" stroke-linejoin="round" stroke-linecap="butt"/>
<path d="M839.9,147.3 843.3,147.3 851.8,147.3 860.3,147.3 868.8,147.4 877.3,147.5 885.8,147.6 894.3,147.7 902.8,147.9 911.2,148.1 919.7,148.3 928.2,148.5 936.7,148.8 945.2,149.1 953.7,149.4 962.2,149.7 970.7,150 979.2,150.4 987.7,150.8 996.2,151.2 1004.7,151.6 1013.2,152 1021.7,152.4 1030.2,152.9 1038.6,153.4 1047.1,153.8 1055.6,154.3 1064.1,154.8 1072.6,155.3 1081.1,155.8 1089.6,156.3 1098.1,156.8 1106.6,156.3 1115.1,155.8 1123.6,155.3 1132.1,154.8 1140.6,154.3 1149.1,153.8 1157.6,153.4 1166,152.9 1174.5,152.4 1183,152 1191.5,151.6 1200,151.2 1208.5,150.8 1217,150.4 1225.5,150 1234,149.7 1242.5,149.4 1251,149.1 1259.5,148.8 1268,148.5 1276.5,148.3 1285,148.1 1293.4,147.9 1301.9,147.7 1310.4,147.6 1318.9,147.5 1327.4,147.4 1335.9,147.3 1344.4,147.3 1352.9,147.3 1356.7,147.3" fill="none" stroke="#a88c3a" stroke-width="6.6" stroke-linejoin="round" stroke-linecap="butt"/>
<path d="M839.9,187.2 843.3,187.2 851.8,187.4 860.3,187.9 868.8,188.9 877.3,190.1 885.8,191.8 894.3,193.7 902.8,196 911.2,198.6 919.7,201.5 928.2,204.6 936.7,207.9 945.2,211.5 953.7,215.3 962.2,219.2 970.7,223.3 979.2,227.4 987.7,231.7 996.2,236 1004.7,240.3 1013.2,244.7 1021.7,249.1 1030.2,253.4 1038.6,257.7 1047.1,261.9 1055.6,266.1 1064.1,270.2 1072.6,274.1 1081.1,278 1089.6,281.8 1098.1,285.4 1106.6,289 1115.1,292.4 1123.6,295.7 1132.1,298.8 1140.6,301.9 1149.1,304.8 1157.6,307.6 1166,310.3 1174.5,312.8 1183,315.3 1191.5,317.6 1200,319.8 1208.5,321.9 1217,323.9 1225.5,325.8 1234,327.6 1242.5,329.3 1251,330.9 1259.5,332.3 1268,333.6 1276.5,334.9 1285,336 1293.4,336.9 1301.9,337.8 1310.4,338.5 1318.9,339.1 1327.4,339.6 1335.9,339.9 1344.4,340.1 1352.9,340.2 1356.7,340.2" fill="none" stroke="#a95e35" stroke-width="6.6" stroke-linejoin="round" stroke-linecap="butt"/>
<path d="M839.9,340.2 843.3,340.2 851.8,340.1 860.3,339.9 868.8,339.6 877.3,339.1 885.8,338.5 894.3,337.8 902.8,336.9 911.2,336 919.7,334.9 928.2,333.6 936.7,332.3 945.2,330.9 953.7,329.3 962.2,327.6 970.7,325.8 979.2,323.9 987.7,321.9 996.2,319.8 1004.7,317.6 1013.2,315.3 1021.7,312.8 1030.2,310.3 1038.6,307.6 1047.1,304.8 1055.6,301.9 1064.1,298.8 1072.6,295.7 1081.1,292.4 1089.6,289 1098.1,285.4 1106.6,281.8 1115.1,278 1123.6,274.1 1132.1,270.2 1140.6,266.1 1149.1,261.9 1157.6,257.7 1166,253.4 1174.5,249.1 1183,244.7 1191.5,240.3 1200,236 1208.5,231.7 1217,227.4 1225.5,223.3 1234,219.2 1242.5,215.3 1251,211.5 1259.5,207.9 1268,204.6 1276.5,201.5 1285,198.6 1293.4,196 1301.9,193.7 1310.4,191.8 1318.9,190.1 1327.4,188.9 1335.9,187.9 1344.4,187.4 1352.9,187.2 1356.7,187.2" fill="none" stroke="#a95e35" stroke-width="6.6" stroke-linejoin="round" stroke-linecap="butt"/>
<rect x="827.1" y="53" width="540.5" height="955.9" fill="none" stroke="#000" stroke-width="1.3"/>
<line x1="1249.6" y1="66" x2="1249.6" y2="1008.9" stroke="#222" stroke-width="1.1" stroke-dasharray="4.5,3"/>
<path d="M1361,146.2 1371.1,146.2 1396,87.7 1507,87.7" fill="none" stroke="#222" stroke-width="1.3" stroke-linejoin="round" />
<path d="M1361,159.8 1371.1,159.8 1389,125.4 1398.8,125.4" fill="none" stroke="#222" stroke-width="1.3" stroke-linejoin="round" />
<path d="M1361,211 1510.6,211" fill="none" stroke="#222" stroke-width="1.3" stroke-linejoin="round" />
<path d="M1361,286.8 1405.8,286.8" fill="none" stroke="#222" stroke-width="1.3" stroke-linejoin="round" />
<path d="M1361,332.6 1373.9,332.6 1396,367.2 1408.5,367.2" fill="none" stroke="#222" stroke-width="1.3" stroke-linejoin="round" />
<path d="M1361,507.3 1373.9,507.3 1397.4,468.5 1523.6,468.5" fill="none" stroke="#222" stroke-width="1.3" stroke-linejoin="round" />
<path d="M1361,519.2 1373.9,519.2 1397.4,511.4 1408.5,511.4" fill="none" stroke="#222" stroke-width="1.3" stroke-linejoin="round" />
<path d="M1361,551.1 1373.9,551.1 1396,564.1 1523.6,564.1" fill="none" stroke="#222" stroke-width="1.3" stroke-linejoin="round" />
<path d="M1361,564.1 1373.9,564.1 1396,606.6 1408.5,606.6" fill="none" stroke="#222" stroke-width="1.3" stroke-linejoin="round" />
<path d="M1361,764.3 1374.4,764.3 1396.6,724.7 1524.2,724.7" fill="none" stroke="#222" stroke-width="1.3" stroke-linejoin="round" />
<path d="M1361,779.1 1373.3,779.1 1395.5,799.3 1408.8,799.3" fill="none" stroke="#222" stroke-width="1.3" stroke-linejoin="round" />
<path d="M1361,943.1 1373.3,943.1 1395.5,881.4 1520.2,881.4" fill="none" stroke="#222" stroke-width="1.3" stroke-linejoin="round" />
<path d="M1361,957.3 1373.3,957.3 1395.5,924.7 1407.7,924.7" fill="none" stroke="#222" stroke-width="1.3" stroke-linejoin="round" />
<path d="M1361,986.2 1373.3,986.2 1392.2,982.2 1516.5,982.2" fill="none" stroke="#222" stroke-width="1.3" stroke-linejoin="round" />
<path d="M1361,1002.2 1371.1,1002.2 1392.2,1022.4 1402.2,1022.4" fill="none" stroke="#222" stroke-width="1.3" stroke-linejoin="round" />
<circle cx="1249.6" cy="149.08" r="4.1" fill="#fdfdf5" stroke="#000" stroke-width="1.1"/>
<circle cx="1249.6" cy="156.75" r="4.1" fill="#fdfdf5" stroke="#000" stroke-width="1.1"/>
<circle cx="1249.6" cy="211.52" r="4.1" fill="#fdfdf5" stroke="#000" stroke-width="1.1"/>
<circle cx="1249.6" cy="286.47" r="4.1" fill="#fdfdf5" stroke="#000" stroke-width="1.1"/>
<circle cx="1249.6" cy="330.87" r="4.1" fill="#fdfdf5" stroke="#000" stroke-width="1.1"/>
<circle cx="1249.6" cy="509.42" r="4.1" fill="#fdfdf5" stroke="#000" stroke-width="1.1"/>
<circle cx="1249.6" cy="518.69" r="4.1" fill="#fdfdf5" stroke="#000" stroke-width="1.1"/>
<circle cx="1249.6" cy="554.01" r="4.1" fill="#fdfdf5" stroke="#000" stroke-width="1.1"/>
<circle cx="1249.6" cy="563.28" r="4.1" fill="#fdfdf5" stroke="#000" stroke-width="1.1"/>
<circle cx="1249.6" cy="767.84" r="4.1" fill="#fdfdf5" stroke="#000" stroke-width="1.1"/>
<circle cx="1249.6" cy="779.35" r="4.1" fill="#fdfdf5" stroke="#000" stroke-width="1.1"/>
<circle cx="1249.6" cy="946.2" r="4.1" fill="#fdfdf5" stroke="#000" stroke-width="1.1"/>
<circle cx="1249.6" cy="957.71" r="4.1" fill="#fdfdf5" stroke="#000" stroke-width="1.1"/>
<circle cx="1249.6" cy="990.79" r="4.1" fill="#fdfdf5" stroke="#000" stroke-width="1.1"/>
<circle cx="1249.6" cy="1002.3" r="4.1" fill="#fdfdf5" stroke="#000" stroke-width="1.1"/>
<text x="1104" y="1070.2" font-family="Liberation Sans, sans-serif" font-size="29.5" text-anchor="middle" >flux<tspan dx="0"> (</tspan><tspan dx="3">&#934;</tspan><tspan font-size="20" dy="3">0</tspan><tspan dy="-3">)</tspan></text>
<text transform="translate(777.2,538.9) rotate(-90)" font-family="Liberation Sans, sans-serif" font-size="29.5" text-anchor="middle">frequency (GHz)</text>
<ellipse cx="1562" cy="74" rx="16" ry="8" fill="url(#gB)"/>
<ellipse cx="1560" cy="76" rx="12" ry="5" fill="url(#gO)"/>
<ellipse cx="1547" cy="86" rx="19" ry="17" fill="url(#gB)"/>
<ellipse cx="1598" cy="88" rx="32" ry="21.3" fill="url(#gB)"/>
<path d="M1609,68 Q1620,80 1614,108 L1619,107 Q1626,82 1615,67 Z" fill="#f7a812"/>
<ellipse cx="1438" cy="118.5" rx="7.6" ry="5" fill="url(#gB)"/>
<ellipse cx="1478" cy="119" rx="16" ry="6" fill="url(#gB)"/>
<ellipse cx="1474" cy="121" rx="12" ry="4.5" fill="url(#gO)"/>
<ellipse cx="1426" cy="127.3" rx="12" ry="10" fill="url(#gB)"/>
<ellipse cx="1464" cy="131" rx="26" ry="18.7" fill="url(#gB)"/>
<ellipse cx="1510" cy="132" rx="21" ry="15" fill="url(#gB)"/>
<path d="M1520,118 Q1530,128 1524,146 L1529,145 Q1535,128 1525,117 Z" fill="#f7a812"/>
<path d="M1548,196 Q1562,204 1567,211 Q1562,218 1548,226 Z" fill="url(#nO)"/>
<ellipse cx="1543" cy="210" rx="19.5" ry="16.8" fill="url(#gO)"/>
<ellipse cx="1578.5" cy="212.5" rx="11.8" ry="10.7" fill="url(#gO)"/>
<ellipse cx="1627" cy="217" rx="23" ry="20" fill="url(#gB)"/>
<ellipse cx="1425.2" cy="274.6" rx="7" ry="4.4" fill="url(#gB)"/>
<ellipse cx="1463.5" cy="277.3" rx="22" ry="13.5" fill="url(#gB)"/>
<ellipse cx="1514" cy="284" rx="20.2" ry="12.6" fill="url(#gO)"/>
<ellipse cx="1556.3" cy="292" rx="12.3" ry="7.6" fill="url(#gO)"/>
<ellipse cx="1424.3" cy="298.3" rx="7.3" ry="4.7" fill="url(#gO)"/>
<ellipse cx="1462.7" cy="306.8" rx="21.6" ry="13.8" fill="url(#gO)"/>
<ellipse cx="1513" cy="313" rx="20.5" ry="12.9" fill="url(#gB)"/>
<ellipse cx="1554.9" cy="318" rx="12" ry="7.3" fill="url(#gB)"/>
<ellipse cx="1432" cy="366" rx="8" ry="6" fill="url(#nB)"/>
<ellipse cx="1527" cy="379" rx="8" ry="7.5" fill="url(#nO)"/>
<ellipse cx="1418.7" cy="363.3" rx="11.7" ry="8.8" fill="url(#gB)"/>
<ellipse cx="1456" cy="368" rx="24" ry="21.4" fill="url(#gB)"/>
<ellipse cx="1506" cy="375" rx="21" ry="20" fill="url(#gO)"/>
<ellipse cx="1547" cy="381" rx="16" ry="13" fill="url(#gO)"/>
<ellipse cx="1560" cy="448.5" rx="19.4" ry="10.96" fill="url(#gB)"/>
<ellipse cx="1601" cy="453.5" rx="23.28" ry="12.9" fill="url(#gB)"/>
<ellipse cx="1554" cy="452.5" rx="20" ry="11.3" fill="url(#gO)"/>
<ellipse cx="1595" cy="457.5" rx="24" ry="13.3" fill="url(#gO)"/>
<ellipse cx="1560" cy="476" rx="19.4" ry="11.25" fill="url(#gO)"/>
<ellipse cx="1599.5" cy="483" rx="22.79" ry="12.9" fill="url(#gO)"/>
<ellipse cx="1554" cy="480" rx="20" ry="11.6" fill="url(#gB)"/>
<ellipse cx="1593.5" cy="487" rx="23.5" ry="13.3" fill="url(#gB)"/>
<ellipse cx="1429" cy="491.4" rx="8.15" ry="5.14" fill="url(#gO)"/>
<ellipse cx="1469.8" cy="494" rx="23.47" ry="12.22" fill="url(#gO)"/>
<ellipse cx="1508.5" cy="501" rx="15.33" ry="8.24" fill="url(#gO)"/>
<ellipse cx="1422" cy="496.4" rx="8.4" ry="5.3" fill="url(#gB)"/>
<ellipse cx="1462.8" cy="499" rx="24.2" ry="12.6" fill="url(#gB)"/>
<ellipse cx="1501.5" cy="506" rx="15.8" ry="8.5" fill="url(#gB)"/>
<ellipse cx="1428" cy="514.2" rx="8.73" ry="5.43" fill="url(#gB)"/>
<ellipse cx="1469" cy="521.6" rx="23.28" ry="11.93" fill="url(#gB)"/>
<ellipse cx="1507" cy="525.8" rx="15.04" ry="7.86" fill="url(#gB)"/>
<ellipse cx="1421" cy="519.2" rx="9" ry="5.6" fill="url(#gO)"/>
<ellipse cx="1462" cy="526.6" rx="24" ry="12.3" fill="url(#gO)"/>
<ellipse cx="1500" cy="530.8" rx="15.5" ry="8.1" fill="url(#gO)"/>
<ellipse cx="1556" cy="557.4" rx="20.76" ry="17.75" fill="url(#gO)"/>
<ellipse cx="1599" cy="563.3" rx="23.28" ry="20.08" fill="url(#gO)"/>
<ellipse cx="1549" cy="561.4" rx="21.4" ry="18.3" fill="url(#gB)"/>
<ellipse cx="1592" cy="567.3" rx="24" ry="20.7" fill="url(#gB)"/>
<ellipse cx="1431" cy="599.3" rx="11.93" ry="9.51" fill="url(#gB)"/>
<ellipse cx="1470" cy="605" rx="25.9" ry="19.11" fill="url(#gB)"/>
<ellipse cx="1510" cy="609.4" rx="15.71" ry="13.97" fill="url(#gB)"/>
<ellipse cx="1424" cy="604.3" rx="12.3" ry="9.8" fill="url(#gO)"/>
<ellipse cx="1463" cy="610" rx="26.7" ry="19.7" fill="url(#gO)"/>
<ellipse cx="1503" cy="614.4" rx="16.2" ry="14.4" fill="url(#gO)"/>
<ellipse cx="1570" cy="689" rx="6" ry="5" fill="url(#nB)"/>
<ellipse cx="1550" cy="686" rx="18.3" ry="9.1" fill="url(#gB)"/>
<ellipse cx="1593" cy="691" rx="24.2" ry="10.5" fill="url(#gB)"/>
<ellipse cx="1572" cy="706" rx="5" ry="3" fill="url(#nO)"/>
<ellipse cx="1551" cy="703.4" rx="17" ry="5.3" fill="url(#gO)"/>
<ellipse cx="1596" cy="709.8" rx="21.8" ry="6" fill="url(#gO)"/>
<ellipse cx="1551" cy="715.7" rx="17" ry="5" fill="url(#gB)"/>
<ellipse cx="1595" cy="723.5" rx="20" ry="5.3" fill="url(#gB)"/>
<ellipse cx="1551" cy="727.5" rx="17.2" ry="5" fill="url(#gO)"/>
<ellipse cx="1595" cy="734.4" rx="20" ry="5.6" fill="url(#gO)"/>
<ellipse cx="1572" cy="742" rx="5" ry="3.5" fill="url(#nB)"/>
<ellipse cx="1550" cy="738.5" rx="18.3" ry="5.3" fill="url(#gB)"/>
<ellipse cx="1595" cy="745.2" rx="21" ry="6.3" fill="url(#gB)"/>
<ellipse cx="1569" cy="759" rx="7" ry="6" fill="url(#nO)"/>
<ellipse cx="1549" cy="755.7" rx="19.7" ry="9.8" fill="url(#gO)"/>
<ellipse cx="1590.5" cy="762.7" rx="22.5" ry="10.5" fill="url(#gO)"/>
<ellipse cx="1424.2" cy="759.6" rx="8" ry="3.9" fill="url(#gO)"/>
<ellipse cx="1423.5" cy="773.9" rx="3.2" ry="1.4" fill="url(#gB)"/>
<ellipse cx="1422.5" cy="784.5" rx="1.4" ry="0.7" fill="url(#gO)"/>
<ellipse cx="1423" cy="794.4" rx="2.5" ry="1.4" fill="url(#gB)"/>
<ellipse cx="1422.5" cy="806.6" rx="4.9" ry="1.8" fill="url(#gO)"/>
<ellipse cx="1422" cy="820.7" rx="9.5" ry="4.6" fill="url(#gB)"/>
<ellipse cx="1486" cy="765" rx="6" ry="4" fill="url(#nO)"/>
<ellipse cx="1465" cy="762" rx="23.2" ry="9.1" fill="url(#gO)"/>
<ellipse cx="1504" cy="768.3" rx="15.8" ry="7" fill="url(#gO)"/>
<ellipse cx="1463.4" cy="779.9" rx="20.4" ry="4.9" fill="url(#gB)"/>
<ellipse cx="1463.2" cy="790.8" rx="19.3" ry="5.3" fill="url(#gO)"/>
<ellipse cx="1462.5" cy="801.8" rx="19.7" ry="4.9" fill="url(#gB)"/>
<ellipse cx="1462.5" cy="813" rx="20.4" ry="5.6" fill="url(#gO)"/>
<ellipse cx="1484" cy="830" rx="6" ry="4" fill="url(#nB)"/>
<ellipse cx="1461.8" cy="828" rx="22.5" ry="9.8" fill="url(#gB)"/>
<ellipse cx="1500" cy="833.2" rx="15.8" ry="6.3" fill="url(#gB)"/>
<ellipse cx="1522.1" cy="786.9" rx="11.6" ry="3.5" fill="url(#gB)"/>
<ellipse cx="1521.7" cy="798.9" rx="10.5" ry="3.2" fill="url(#gO)"/>
<ellipse cx="1521.2" cy="809.9" rx="10.5" ry="3.2" fill="url(#gB)"/>
<ellipse cx="1520.5" cy="821.2" rx="11.2" ry="3.9" fill="url(#gO)"/>
<ellipse cx="1569" cy="864" rx="7" ry="7" fill="url(#nO)"/>
<ellipse cx="1549" cy="861.6" rx="19.7" ry="11.6" fill="url(#gO)"/>
<ellipse cx="1591.8" cy="865.8" rx="24.6" ry="13.7" fill="url(#gO)"/>
<ellipse cx="1569" cy="892" rx="7" ry="8" fill="url(#nB)"/>
<ellipse cx="1548.6" cy="889" rx="20" ry="13" fill="url(#gB)"/>
<ellipse cx="1591.5" cy="895" rx="24.2" ry="14" fill="url(#gB)"/>
<ellipse cx="1428.4" cy="913.6" rx="12.3" ry="6.7" fill="url(#gO)"/>
<ellipse cx="1465.3" cy="916.4" rx="24.6" ry="12.3" fill="url(#gO)"/>
<ellipse cx="1506" cy="923" rx="17.6" ry="9.1" fill="url(#gO)"/>
<ellipse cx="1427.8" cy="937" rx="12.3" ry="7" fill="url(#gB)"/>
<ellipse cx="1465" cy="944" rx="25" ry="13.4" fill="url(#gB)"/>
<ellipse cx="1505" cy="948.7" rx="16.5" ry="9.5" fill="url(#gB)"/>
<ellipse cx="1562" cy="987" rx="8" ry="12" fill="url(#nO)"/>
<ellipse cx="1542" cy="984.5" rx="21" ry="19.3" fill="url(#gO)"/>
<ellipse cx="1585" cy="990.5" rx="26.4" ry="21" fill="url(#gO)"/>
<ellipse cx="1425" cy="1022.5" rx="13" ry="10.9" fill="url(#gO)"/>
<ellipse cx="1464" cy="1027.8" rx="26" ry="20.4" fill="url(#gO)"/>
<ellipse cx="1505.4" cy="1033" rx="18.3" ry="15.1" fill="url(#gO)"/>
<line x1="1636.3" y1="957.3" x2="1636.3" y2="1017.3" stroke="#4a4a4a" stroke-width="2.4" />
<line x1="1636.3" y1="1017.3" x2="1694" y2="1022.8" stroke="#4a4a4a" stroke-width="2.4" />
<line x1="1636.3" y1="1017.3" x2="1620.8" y2="1040.5" stroke="#4a4a4a" stroke-width="2.4" />
<text x="1628.4" y="946.1" font-family="Liberation Serif, sans-serif" font-size="41" text-anchor="start" font-style="italic" >ζ</text>
<text x="1699.9" y="1034.9" font-family="Liberation Serif, sans-serif" font-size="40" text-anchor="start" font-style="italic" >ϕ</text>
<text x="1601" y="1075" font-family="Liberation Serif, sans-serif" font-size="39" text-anchor="start" font-style="italic" >θ</text>
<text x="34.4" y="1157" font-family="Liberation Serif, sans-serif" font-size="29.5" text-anchor="start" >(c)</text>
<line x1="133.2" y1="2094.6" x2="142.2" y2="2094.6" stroke="#000" stroke-width="1.3" />
<text x="126.7" y="2102.4" font-family="Liberation Sans, sans-serif" font-size="22" text-anchor="end" >0.0</text>
<line x1="133.2" y1="1981.25" x2="142.2" y2="1981.25" stroke="#000" stroke-width="1.3" />
<line x1="133.2" y1="1867.9" x2="142.2" y2="1867.9" stroke="#000" stroke-width="1.3" />
<text x="126.7" y="1875.7" font-family="Liberation Sans, sans-serif" font-size="22" text-anchor="end" >1.0</text>
<line x1="133.2" y1="1754.55" x2="142.2" y2="1754.55" stroke="#000" stroke-width="1.3" />
<line x1="133.2" y1="1641.2" x2="142.2" y2="1641.2" stroke="#000" stroke-width="1.3" />
<text x="126.7" y="1649" font-family="Liberation Sans, sans-serif" font-size="22" text-anchor="end" >2.0</text>
<line x1="133.2" y1="1527.85" x2="142.2" y2="1527.85" stroke="#000" stroke-width="1.3" />
<line x1="133.2" y1="1414.5" x2="142.2" y2="1414.5" stroke="#000" stroke-width="1.3" />
<text x="126.7" y="1422.3" font-family="Liberation Sans, sans-serif" font-size="22" text-anchor="end" >3.0</text>
<line x1="133.2" y1="1301.15" x2="142.2" y2="1301.15" stroke="#000" stroke-width="1.3" />
<line x1="140.35" y1="2102.2" x2="140.35" y2="2095.2" stroke="#000" stroke-width="1.3" />
<text x="141.35" y="2124.5" font-family="Liberation Sans, sans-serif" font-size="22" text-anchor="middle" >0.0</text>
<line x1="240.97" y1="2102.2" x2="240.97" y2="2095.2" stroke="#000" stroke-width="1.3" />
<text x="241.97" y="2124.5" font-family="Liberation Sans, sans-serif" font-size="22" text-anchor="middle" >0.5</text>
<line x1="341.6" y1="2102.2" x2="341.6" y2="2095.2" stroke="#000" stroke-width="1.3" />
<text x="342.6" y="2124.5" font-family="Liberation Sans, sans-serif" font-size="22" text-anchor="middle" >1.0</text>
<path d="M140.3,2094.6 142.4,2094.6 144.4,2094.6 146.4,2094.6 148.4,2094.6 150.4,2094.6 152.4,2094.6 154.4,2094.6 156.4,2094.6 158.5,2094.6 160.5,2094.6 162.5,2094.6 164.5,2094.6 166.5,2094.6 168.5,2094.6 170.5,2094.6 172.6,2094.6 174.6,2094.6 176.6,2094.6 178.6,2094.6 180.6,2094.6 182.6,2094.6 184.6,2094.6 186.6,2094.6 188.2,2094.6 188.6,2094.6 190.7,2094.6 192.7,2094.6 194.7,2094.6 196.7,2094.6 198.7,2094.6 200.7,2094.6 202.7,2094.6 204.8,2094.6 206.4,2094.6 206.8,2094.6 208.8,2094.6 210.8,2094.6 212.8,2094.6 214.8,2094.6 216.8,2094.6 218.8,2094.6 220.8,2094.6 222.9,2094.6 224.9,2094.6 226.9,2094.6 228.9,2094.6 230.9,2094.6 232.9,2094.6 234.9,2094.6 236.9,2094.6 239,2094.6 241,2094.6 243,2094.6 245,2094.6 247,2094.6 249,2094.6 251,2094.6 253.1,2094.6 255.1,2094.6 257.1,2094.6 259.1,2094.6 261.1,2094.6 263.1,2094.6 265.1,2094.6 267.1,2094.6 269.1,2094.6 271.2,2094.6 273.2,2094.6 275.2,2094.6 275.6,2094.6 277.2,2094.6 279.2,2094.6 281.2,2094.6 283.2,2094.6 285.2,2094.6 287.3,2094.6 289.3,2094.6 291.3,2094.6 293.3,2094.6 293.7,2094.6 295.3,2094.6 297.3,2094.6 299.3,2094.6 301.4,2094.6 303.4,2094.6 305.4,2094.6 307.4,2094.6 309.4,2094.6 311.4,2094.6 313.4,2094.6 315.4,2094.6 317.4,2094.6 319.5,2094.6 321.5,2094.6 323.5,2094.6 325.5,2094.6 327.5,2094.6 329.5,2094.6 331.5,2094.6 333.5,2094.6 335.6,2094.6 337.6,2094.6 339.6,2094.6 341.6,2094.6" fill="none" stroke="#343276" stroke-width="7.6" stroke-linejoin="round" stroke-linecap="butt" stroke-linejoin="miter"/>
<path d="M140.3,1937.6 142.4,1938.2 144.4,1938.8 146.4,1939.4 148.4,1940 150.4,1940.6 152.4,1941.3 154.4,1942.2 156.4,1943.3 158.5,1944.6 160.5,1946.1 162.5,1947.8 164.5,1949.5 166.5,1951.4 168.5,1953.3 170.5,1955.5 172.6,1957.9 174.6,1960.4 176.6,1963 178.6,1965.7 180.6,1968.5 182.6,1971.5 184.6,1974.6 186.6,1977.8 188.2,1980.5 188.6,1981.2 190.7,1984.6 192.7,1988.1 194.7,1991.8 196.7,1995.6 198.7,1999.5 200.7,2003.4 202.7,2007.4 204.8,2011.3 206.4,2014.4 206.8,2015.2 208.8,2019 210.8,2022.9 212.8,2026.9 214.8,2030.8 216.8,2034.8 218.8,2038.7 220.8,2042.6 222.9,2046.5 224.9,2050.4 226.9,2054.6 228.9,2059.1 230.9,2064.1 232.9,2069.7 234.9,2075.8 236.9,2082.1 239,2088.4 241,2094.6 243,2088.4 245,2082.1 247,2075.8 249,2069.7 251,2064.1 253.1,2059.1 255.1,2054.6 257.1,2050.4 259.1,2046.5 261.1,2042.6 263.1,2038.7 265.1,2034.8 267.1,2030.8 269.1,2026.9 271.2,2022.9 273.2,2019 275.2,2015.2 275.6,2014.4 277.2,2011.3 279.2,2007.4 281.2,2003.4 283.2,1999.5 285.2,1995.6 287.3,1991.8 289.3,1988.1 291.3,1984.6 293.3,1981.2 293.7,1980.5 295.3,1977.8 297.3,1974.6 299.3,1971.5 301.4,1968.5 303.4,1965.7 305.4,1963 307.4,1960.4 309.4,1957.9 311.4,1955.5 313.4,1953.3 315.4,1951.4 317.4,1949.5 319.5,1947.8 321.5,1946.1 323.5,1944.6 325.5,1943.3 327.5,1942.2 329.5,1941.3 331.5,1940.6 333.5,1940 335.6,1939.4 337.6,1938.8 339.6,1938.2 341.6,1937.6" fill="none" stroke="#343276" stroke-width="7.6" stroke-linejoin="round" stroke-linecap="butt" stroke-linejoin="miter"/>
<path d="M140.3,1772.2 142.4,1772.2 144.4,1772.3 146.4,1772.4 148.4,1772.5 150.4,1772.6 152.4,1772.8 154.4,1772.9 156.4,1773.2 158.5,1773.4 160.5,1773.7 162.5,1774 164.5,1774.3 166.5,1774.7 168.5,1775 170.5,1775.4 172.6,1775.9 174.6,1776.3 176.6,1776.8 178.6,1777.3 180.6,1777.9 182.6,1778.4 184.6,1779 186.6,1779.6 188.2,1780.1 188.6,1780.2 190.7,1780.9 192.7,1781.5 194.7,1782.2 196.7,1782.9 198.7,1783.6 200.7,1784.4 202.7,1785.1 204.8,1785.9 206.4,1786.5 206.8,1786.7 208.8,1787.5 210.8,1788.3 212.8,1789.2 214.8,1790 216.8,1790.9 218.8,1791.7 220.8,1792.6 222.9,1793.5 224.9,1794.4 226.9,1795.3 228.9,1796.2 230.9,1797.1 232.9,1798 234.9,1798.9 236.9,1799.9 239,1800.8 241,1801.7 243,1800.8 245,1799.9 247,1798.9 249,1798 251,1797.1 253.1,1796.2 255.1,1795.3 257.1,1794.4 259.1,1793.5 261.1,1792.6 263.1,1791.7 265.1,1790.9 267.1,1790 269.1,1789.2 271.2,1788.3 273.2,1787.5 275.2,1786.7 275.6,1786.5 277.2,1785.9 279.2,1785.1 281.2,1784.4 283.2,1783.6 285.2,1782.9 287.3,1782.2 289.3,1781.5 291.3,1780.9 293.3,1780.2 293.7,1780.1 295.3,1779.6 297.3,1779 299.3,1778.4 301.4,1777.9 303.4,1777.3 305.4,1776.8 307.4,1776.3 309.4,1775.9 311.4,1775.4 313.4,1775 315.4,1774.7 317.4,1774.3 319.5,1774 321.5,1773.7 323.5,1773.4 325.5,1773.2 327.5,1772.9 329.5,1772.8 331.5,1772.6 333.5,1772.5 335.6,1772.4 337.6,1772.3 339.6,1772.2 341.6,1772.2" fill="none" stroke="#24705a" stroke-width="7.6" stroke-linejoin="round" stroke-linecap="butt" stroke-linejoin="miter"/>
<path d="M140.3,1657.1 142.4,1656.2 144.4,1655.4 146.4,1654.6 148.4,1653.8 150.4,1652.9 152.4,1651.9 154.4,1650.6 156.4,1649.1 158.5,1647.5 160.5,1645.8 162.5,1644.1 164.5,1642.4 166.5,1644.5 168.5,1647.4 170.5,1650.3 172.6,1653.2 174.6,1656.1 176.6,1659.1 178.6,1662 180.6,1665 182.6,1668 184.6,1671.2 186.6,1674.3 188.2,1676.9 188.6,1677.6 190.7,1680.8 192.7,1683.9 194.7,1687.1 196.7,1690.1 198.7,1692.9 200.7,1695.7 202.7,1698.5 204.8,1701.2 206.4,1703.3 206.8,1703.8 208.8,1706.4 210.8,1709 212.8,1711.4 214.8,1713.9 216.8,1716.2 218.8,1718.5 220.8,1720.8 222.9,1723 224.9,1725.3 226.9,1727.4 228.9,1729.3 230.9,1730.7 232.9,1731.9 234.9,1732.8 236.9,1733.6 239,1734.4 241,1735.3 243,1734.4 245,1733.6 247,1732.8 249,1731.9 251,1730.7 253.1,1729.3 255.1,1727.4 257.1,1725.3 259.1,1723 261.1,1720.8 263.1,1718.5 265.1,1716.2 267.1,1713.9 269.1,1711.4 271.2,1709 273.2,1706.4 275.2,1703.8 275.6,1703.3 277.2,1701.2 279.2,1698.5 281.2,1695.7 283.2,1692.9 285.2,1690.1 287.3,1687.1 289.3,1683.9 291.3,1680.8 293.3,1677.6 293.7,1676.9 295.3,1674.3 297.3,1671.2 299.3,1668 301.4,1665 303.4,1662 305.4,1659.1 307.4,1656.1 309.4,1653.2 311.4,1650.3 313.4,1647.4 315.4,1644.5 317.4,1642.4 319.5,1644.1 321.5,1645.8 323.5,1647.5 325.5,1649.1 327.5,1650.6 329.5,1651.9 331.5,1652.9 333.5,1653.8 335.6,1654.6 337.6,1655.4 339.6,1656.2 341.6,1657.1" fill="none" stroke="#bec00c" stroke-width="7.6" stroke-linejoin="round" stroke-linecap="butt" stroke-linejoin="miter"/>
<path d="M140.3,1632.4 142.4,1632.7 144.4,1633 146.4,1633.3 148.4,1633.6 150.4,1633.9 152.4,1634.4 154.4,1635 156.4,1635.9 158.5,1636.9 160.5,1638 162.5,1639.1 164.5,1640.1 166.5,1637.9 168.5,1634.9 170.5,1631.9 172.6,1628.8 174.6,1625.8 176.6,1622.8 178.6,1619.8 180.6,1616.7 182.6,1613.6 184.6,1610.3 186.6,1606.8 188.2,1603.9 188.6,1603.2 190.7,1599.7 192.7,1596.4 194.7,1593.4 196.7,1590.9 198.7,1588.9 200.7,1587.2 202.7,1585.5 204.8,1584 206.4,1583.1 206.8,1582.9 208.8,1582.2 210.8,1582.1 212.8,1582.7 214.8,1583.8 216.8,1585.3 218.8,1586.8 220.8,1588 222.9,1589.1 224.9,1590.2 226.9,1591.3 228.9,1592.3 230.9,1593.4 232.9,1594.4 234.9,1595.4 236.9,1596.5 239,1597.5 241,1598.6 243,1597.5 245,1596.5 247,1595.4 249,1594.4 251,1593.4 253.1,1592.3 255.1,1591.3 257.1,1590.2 259.1,1589.1 261.1,1588 263.1,1586.8 265.1,1585.3 267.1,1583.8 269.1,1582.7 271.2,1582.1 273.2,1582.2 275.2,1582.9 275.6,1583.1 277.2,1584 279.2,1585.5 281.2,1587.2 283.2,1588.9 285.2,1590.9 287.3,1593.4 289.3,1596.4 291.3,1599.7 293.3,1603.2 293.7,1603.9 295.3,1606.8 297.3,1610.3 299.3,1613.6 301.4,1616.7 303.4,1619.8 305.4,1622.8 307.4,1625.8 309.4,1628.8 311.4,1631.9 313.4,1634.9 315.4,1637.9 317.4,1640.1 319.5,1639.1 321.5,1638 323.5,1636.9 325.5,1635.9 327.5,1635 329.5,1634.4 331.5,1633.9 333.5,1633.6 335.6,1633.3 337.6,1633 339.6,1632.7 341.6,1632.4" fill="none" stroke="#a8603a" stroke-width="7.6" stroke-linejoin="round" stroke-linecap="butt" stroke-linejoin="miter"/>
<path d="M140.3,1543.7 142.4,1543.9 144.4,1544 146.4,1544.2 148.4,1544.4 150.4,1544.5 152.4,1544.7 154.4,1544.9 156.4,1545.2 158.5,1545.5 160.5,1545.9 162.5,1546.3 164.5,1546.8 166.5,1547.3 168.5,1547.9 170.5,1548.4 172.6,1549 174.6,1549.6 176.6,1550.1 178.6,1550.7 180.6,1551.2 182.6,1551.6 184.6,1552.1 186.6,1552.7 188.2,1553.1 188.6,1553.2 190.7,1553.7 192.7,1554.2 194.7,1554.5 196.7,1554.8 198.7,1554.8 200.7,1554.4 202.7,1553.3 204.8,1551.7 206.4,1550.2 206.8,1549.8 208.8,1547.2 210.8,1542.7 212.8,1537.5 214.8,1532.9 216.8,1528.7 218.8,1524.5 220.8,1520.1 222.9,1515.2 224.9,1509.8 226.9,1504.5 228.9,1499.7 230.9,1495.9 232.9,1493 234.9,1490.6 236.9,1488.4 239,1486.3 241,1484.1 243,1486.3 245,1488.4 247,1490.6 249,1493 251,1495.9 253.1,1499.7 255.1,1504.5 257.1,1509.8 259.1,1515.2 261.1,1520.1 263.1,1524.5 265.1,1528.7 267.1,1532.9 269.1,1537.5 271.2,1542.7 273.2,1547.2 275.2,1549.8 275.6,1550.2 277.2,1551.7 279.2,1553.3 281.2,1554.4 283.2,1554.8 285.2,1554.8 287.3,1554.5 289.3,1554.2 291.3,1553.7 293.3,1553.2 293.7,1553.1 295.3,1552.7 297.3,1552.1 299.3,1551.6 301.4,1551.2 303.4,1550.7 305.4,1550.1 307.4,1549.6 309.4,1549 311.4,1548.4 313.4,1547.9 315.4,1547.3 317.4,1546.8 319.5,1546.3 321.5,1545.9 323.5,1545.5 325.5,1545.2 327.5,1544.9 329.5,1544.7 331.5,1544.5 333.5,1544.4 335.6,1544.2 337.6,1544 339.6,1543.9 341.6,1543.7" fill="none" stroke="#42b02a" stroke-width="7.6" stroke-linejoin="round" stroke-linecap="butt" stroke-linejoin="miter"/>
<path d="M140.3,1287.5 142.4,1287.8 144.4,1288 146.4,1288.2 148.4,1288.5 150.4,1288.7 152.4,1289 154.4,1289.3 156.4,1289.7 158.5,1290.3 160.5,1291.1 162.5,1292 164.5,1293 166.5,1294.1 168.5,1295.3 170.5,1296.4 172.6,1297.8 174.6,1299.2 176.6,1300.7 178.6,1302.3 180.6,1304 182.6,1305.7 184.6,1307.4 186.6,1309.2 188.2,1310.7 188.6,1311.1 190.7,1313.1 192.7,1315.1 194.7,1317.3 196.7,1319.4 198.7,1321.6 200.7,1324 202.7,1326.7 204.8,1329.7 206.4,1332.6 206.8,1333.4 208.8,1338 210.8,1343.4 212.8,1349.9 214.8,1358.1 216.8,1366.9 218.8,1375.1 220.8,1382.9 222.9,1390.6 224.9,1398.5 226.9,1406.5 228.9,1414.5 230.9,1422.7 232.9,1431.2 234.9,1440 236.9,1449.1 239,1458.8 241,1468.9 243,1458.8 245,1449.1 247,1440 249,1431.2 251,1422.7 253.1,1414.5 255.1,1406.5 257.1,1398.5 259.1,1390.6 261.1,1382.9 263.1,1375.1 265.1,1366.9 267.1,1358.1 269.1,1349.9 271.2,1343.4 273.2,1338 275.2,1333.4 275.6,1332.6 277.2,1329.7 279.2,1326.7 281.2,1324 283.2,1321.6 285.2,1319.4 287.3,1317.3 289.3,1315.1 291.3,1313.1 293.3,1311.1 293.7,1310.7 295.3,1309.2 297.3,1307.4 299.3,1305.7 301.4,1304 303.4,1302.3 305.4,1300.7 307.4,1299.2 309.4,1297.8 311.4,1296.4 313.4,1295.3 315.4,1294.1 317.4,1293 319.5,1292 321.5,1291.1 323.5,1290.3 325.5,1289.7 327.5,1289.3 329.5,1289 331.5,1288.7 333.5,1288.5 335.6,1288.2 337.6,1288 339.6,1287.8 341.6,1287.5" fill="none" stroke="#8fd08a" stroke-width="7.6" stroke-linejoin="round" stroke-linecap="butt" stroke-linejoin="miter"/>
<path d="M140.3,1280.5 142.4,1281 144.4,1281.5 146.4,1281.9 148.4,1282.4 150.4,1282.8 152.4,1283.2 154.4,1283.7 156.4,1284.1 158.5,1284.6 160.5,1285.1 162.5,1285.6 164.5,1286.2 166.5,1286.8 168.5,1287.4 170.5,1288.1 172.6,1288.8 174.6,1289.6 176.6,1290.5 178.6,1291.3 180.6,1292.3 182.6,1293.3 184.6,1294.4 186.6,1295.5 188.2,1296.4 188.6,1296.6 190.7,1297.9 192.7,1299.2 194.7,1300.6 196.7,1302.1 198.7,1303.8 200.7,1305.7 202.7,1307.8 204.8,1310 206.4,1311.9 206.8,1312.4 208.8,1314.9 210.8,1317.9 212.8,1321.3 214.8,1324.8 216.8,1328.3 218.8,1331.6 220.8,1334.5 222.9,1337.2 224.9,1339.6 226.9,1342 228.9,1344.3 230.9,1346.6 232.9,1348.7 234.9,1350.9 236.9,1353.1 239,1355.3 241,1357.6 243,1355.3 245,1353.1 247,1350.9 249,1348.7 251,1346.6 253.1,1344.3 255.1,1342 257.1,1339.6 259.1,1337.2 261.1,1334.5 263.1,1331.6 265.1,1328.3 267.1,1324.8 269.1,1321.3 271.2,1317.9 273.2,1314.9 275.2,1312.4 275.6,1311.9 277.2,1310 279.2,1307.8 281.2,1305.7 283.2,1303.8 285.2,1302.1 287.3,1300.6 289.3,1299.2 291.3,1297.9 293.3,1296.6 293.7,1296.4 295.3,1295.5 297.3,1294.4 299.3,1293.3 301.4,1292.3 303.4,1291.3 305.4,1290.5 307.4,1289.6 309.4,1288.8 311.4,1288.1 313.4,1287.4 315.4,1286.8 317.4,1286.2 319.5,1285.6 321.5,1285.1 323.5,1284.6 325.5,1284.1 327.5,1283.7 329.5,1283.2 331.5,1282.8 333.5,1282.4 335.6,1281.9 337.6,1281.5 339.6,1281 341.6,1280.5" fill="none" stroke="#779e74" stroke-width="7.6" stroke-linejoin="round" stroke-linecap="butt" stroke-linejoin="miter"/>
<path d="M140.3,1265.1 142.4,1265 144.4,1264.8 146.4,1264.5 148.4,1264.1 150.4,1263.5 152.4,1262.8 154.4,1261.9 156.4,1260.9 158.5,1259.8 160.5,1258.6 162.5,1257.2 164.5,1255.7 166.5,1254.1 168.5,1252.3 170.5,1250.4 172.6,1248.4 174.6,1246.2 176.6,1244 178.6,1241.5 180.6,1239 182.6,1236.3 184.6,1233.5 186.6,1230.6 188.2,1228.1 188.6,1229.9 190.7,1238.5 192.7,1247.1 194.7,1255.7 196.7,1264.3 198.7,1272.9 200.7,1281.6 202.7,1290.2 204.8,1298.8 206.4,1305.7 206.8,1306 208.8,1307.7 210.8,1309.4 212.8,1311.1 214.8,1312.8 216.8,1314.5 218.8,1316.2 220.8,1317.9 222.9,1319.6 224.9,1321.3 226.9,1323 228.9,1324.7 230.9,1326.4 232.9,1328.1 234.9,1329.8 236.9,1331.5 239,1333.2 241,1334.9 243,1333.2 245,1331.5 247,1329.8 249,1328.1 251,1326.4 253.1,1324.7 255.1,1323 257.1,1321.3 259.1,1319.6 261.1,1317.9 263.1,1316.2 265.1,1314.5 267.1,1312.8 269.1,1311.1 271.2,1309.4 273.2,1307.7 275.2,1306 275.6,1305.7 277.2,1298.8 279.2,1290.2 281.2,1281.6 283.2,1272.9 285.2,1264.3 287.3,1255.7 289.3,1247.1 291.3,1238.5 293.3,1229.9 293.7,1228.1 295.3,1230.6 297.3,1233.5 299.3,1236.3 301.4,1239 303.4,1241.5 305.4,1244 307.4,1246.2 309.4,1248.4 311.4,1250.4 313.4,1252.3 315.4,1254.1 317.4,1255.7 319.5,1257.2 321.5,1258.6 323.5,1259.8 325.5,1260.9 327.5,1261.9 329.5,1262.8 331.5,1263.5 333.5,1264.1 335.6,1264.5 337.6,1264.8 339.6,1265 341.6,1265.1" fill="none" stroke="#343276" stroke-width="7.6" stroke-linejoin="round" stroke-linecap="butt" stroke-linejoin="miter"/>
<rect x="133.2" y="1218.3" width="212.7" height="883.9" fill="none" stroke="#000" stroke-width="1.3"/>
<line x1="328.02" y1="1227" x2="328.02" y2="2102.2" stroke="#222" stroke-width="1.3" stroke-dasharray="5,3.5"/>
<path d="M333.5,1262.1 372.9,1262.1 391.7,1238 402.3,1238" fill="none" stroke="#222" stroke-width="1.4" stroke-linejoin="round" />
<path d="M333.5,1283.6 373.5,1283.6 391.7,1345.2 402.3,1345.2" fill="none" stroke="#222" stroke-width="1.4" stroke-linejoin="round" />
<path d="M333.5,1289.2 362,1289.2 391,1448 402.3,1448" fill="none" stroke="#222" stroke-width="1.4" stroke-linejoin="round" />
<path d="M333.5,1544.9 371.7,1544.9 389.9,1556.4 400.7,1556.4" fill="none" stroke="#222" stroke-width="1.4" stroke-linejoin="round" />
<path d="M333.5,1634.9 370.6,1634.9 390.3,1656.7 401,1656.7" fill="none" stroke="#222" stroke-width="1.4" stroke-linejoin="round" />
<path d="M333.5,1650.9 371.5,1650.9 390.3,1765.7 401,1765.7" fill="none" stroke="#222" stroke-width="1.4" stroke-linejoin="round" />
<path d="M333.5,1772.9 372.1,1772.9 390.8,1872.7 401,1872.7" fill="none" stroke="#222" stroke-width="1.4" stroke-linejoin="round" />
<path d="M333.5,1942 372.1,1942 390.3,1970.2 401,1970.2" fill="none" stroke="#222" stroke-width="1.4" stroke-linejoin="round" />
<path d="M333.5,2094.6 372.1,2094.6 390.3,2086.5 401,2086.5" fill="none" stroke="#222" stroke-width="1.4" stroke-linejoin="round" />
<circle cx="328.02" cy="1262.13" r="6.0" fill="#fdfdf5" stroke="#000" stroke-width="1.4"/>
<circle cx="328.02" cy="1283.57" r="6.0" fill="#fdfdf5" stroke="#000" stroke-width="1.4"/>
<circle cx="328.02" cy="1289.23" r="6.0" fill="#fdfdf5" stroke="#000" stroke-width="1.4"/>
<circle cx="328.02" cy="1544.86" r="6.0" fill="#fdfdf5" stroke="#000" stroke-width="1.4"/>
<circle cx="328.02" cy="1634.85" r="6.0" fill="#fdfdf5" stroke="#000" stroke-width="1.4"/>
<circle cx="328.02" cy="1650.94" r="6.0" fill="#fdfdf5" stroke="#000" stroke-width="1.4"/>
<circle cx="328.02" cy="1772.89" r="6.0" fill="#fdfdf5" stroke="#000" stroke-width="1.4"/>
<circle cx="328.02" cy="1941.99" r="6.0" fill="#fdfdf5" stroke="#000" stroke-width="1.4"/>
<circle cx="328.02" cy="2094.6" r="6.0" fill="#fdfdf5" stroke="#000" stroke-width="1.4"/>
<text x="243" y="2161" font-family="Liberation Sans, sans-serif" font-size="31.5" text-anchor="middle" >flux<tspan dx="4"> (</tspan><tspan dx="3">&#934;</tspan><tspan font-size="21" dy="3">0</tspan><tspan dy="-3">)</tspan></text>
<text transform="translate(78.9,1611.2) rotate(-90)" font-family="Liberation Sans, sans-serif" font-size="31" text-anchor="middle">frequency (GHz)</text>
<rect x="407" y="1188.4" width="196.2" height="94.9" fill="#f5f5f5"/>
<g clip-path="url(#hc9)"><g filter="url(#hblur)">
<ellipse cx="521.3" cy="1201.7" rx="43.74" ry="11.27" fill="url(#hg4)" opacity="0.75"/>
<ellipse cx="521.3" cy="1218.7" rx="43.74" ry="10.46" fill="url(#hp4)" opacity="0.75"/>
<ellipse cx="482" cy="1226" rx="65.61" ry="14.49" fill="url(#hg4)" opacity="0.5"/>
<ellipse cx="505" cy="1234" rx="65.61" ry="12.88" fill="url(#hg4)" opacity="0.5"/>
<ellipse cx="505.4" cy="1252.7" rx="40.1" ry="7.24" fill="url(#hp4)" opacity="0.5"/>
<ellipse cx="505.4" cy="1266.3" rx="36.45" ry="6.44" fill="url(#hg4)" opacity="0.5"/>
<ellipse cx="503.2" cy="1282" rx="80.19" ry="9.66" fill="url(#hp4)" opacity="0.5"/>
<ellipse cx="495" cy="1192" rx="20.25" ry="11.2" fill="url(#hp3)"/>
<ellipse cx="482" cy="1226" rx="24.3" ry="12.6" fill="url(#hg2)"/>
<ellipse cx="505" cy="1234" rx="24.3" ry="11.2" fill="url(#hg2)"/>
<ellipse cx="505.4" cy="1252.7" rx="14.85" ry="6.3" fill="url(#hp2)"/>
<ellipse cx="505.4" cy="1266.3" rx="13.5" ry="5.6" fill="url(#hg2)"/>
<ellipse cx="503.2" cy="1282" rx="29.7" ry="8.4" fill="url(#hp2)"/>
<ellipse cx="521.3" cy="1201.7" rx="16.2" ry="9.8" fill="url(#hg0)"/>
<ellipse cx="521.3" cy="1218.7" rx="16.2" ry="9.1" fill="url(#hp0)"/>
</g></g>
<rect x="407" y="1188.4" width="196.2" height="94.9" fill="none" stroke="#454545" stroke-width="2.4"/>
<rect x="407" y="1294.4" width="196.2" height="94.9" fill="#f5f5f5"/>
<g clip-path="url(#hc10)"><g filter="url(#hblur)">
<ellipse cx="488.4" cy="1308.2" rx="43.74" ry="11.27" fill="url(#hp4)" opacity="0.75"/>
<ellipse cx="488.4" cy="1325.2" rx="43.74" ry="10.46" fill="url(#hg4)" opacity="0.75"/>
<ellipse cx="512" cy="1335" rx="51.03" ry="16.1" fill="url(#hp4)" opacity="0.5"/>
<ellipse cx="520" cy="1342" rx="36.45" ry="12.88" fill="url(#hp4)" opacity="0.5"/>
<ellipse cx="505.4" cy="1370.5" rx="36.45" ry="6.44" fill="url(#hp4)" opacity="0.5"/>
<ellipse cx="521.3" cy="1303.7" rx="16.2" ry="16.8" fill="url(#hg3)"/>
<ellipse cx="505.4" cy="1357.6" rx="13.5" ry="5.6" fill="url(#hg3)"/>
<ellipse cx="505.4" cy="1386" rx="29.7" ry="8.4" fill="url(#hg3)"/>
<ellipse cx="512" cy="1335" rx="18.9" ry="14" fill="url(#hp2)"/>
<ellipse cx="520" cy="1342" rx="13.5" ry="11.2" fill="url(#hp2)"/>
<ellipse cx="505.4" cy="1370.5" rx="13.5" ry="5.6" fill="url(#hp2)"/>
<ellipse cx="488.4" cy="1308.2" rx="16.2" ry="9.8" fill="url(#hp0)"/>
<ellipse cx="488.4" cy="1325.2" rx="16.2" ry="9.1" fill="url(#hg0)"/>
</g></g>
<rect x="407" y="1294.4" width="196.2" height="94.9" fill="none" stroke="#454545" stroke-width="2.4"/>
<rect x="407" y="1400.4" width="196.2" height="94.9" fill="#f5f5f5"/>
<g clip-path="url(#hc11)"><g filter="url(#hblur)">
<ellipse cx="489.6" cy="1406.8" rx="51.03" ry="11.27" fill="url(#hg4)" opacity="0.75"/>
<ellipse cx="521.3" cy="1406.8" rx="51.03" ry="11.27" fill="url(#hg4)" opacity="0.5"/>
<ellipse cx="489.6" cy="1422.7" rx="40.1" ry="8.05" fill="url(#hp4)" opacity="0.5"/>
<ellipse cx="521.3" cy="1422.7" rx="40.1" ry="8.05" fill="url(#hp4)" opacity="0.5"/>
<ellipse cx="489.6" cy="1438.5" rx="47.39" ry="11.27" fill="url(#hg4)" opacity="0.75"/>
<ellipse cx="521.3" cy="1438.5" rx="47.39" ry="11.27" fill="url(#hg4)" opacity="0.5"/>
<ellipse cx="505.4" cy="1457.8" rx="47.39" ry="10.46" fill="url(#hp4)" opacity="0.75"/>
<ellipse cx="505.4" cy="1472" rx="40.1" ry="8.05" fill="url(#hg4)" opacity="0.75"/>
<ellipse cx="505.4" cy="1485" rx="47.39" ry="10.46" fill="url(#hp4)" opacity="0.75"/>
<ellipse cx="521.3" cy="1422.7" rx="14.85" ry="7" fill="url(#hp2)"/>
<ellipse cx="521.3" cy="1438.5" rx="17.55" ry="9.8" fill="url(#hg2)"/>
<ellipse cx="521.3" cy="1406.8" rx="18.9" ry="9.8" fill="url(#hg1)"/>
<ellipse cx="489.6" cy="1422.7" rx="14.85" ry="7" fill="url(#hp1)"/>
<ellipse cx="489.6" cy="1406.8" rx="18.9" ry="9.8" fill="url(#hg0)"/>
<ellipse cx="489.6" cy="1438.5" rx="17.55" ry="9.8" fill="url(#hg0)"/>
<ellipse cx="505.4" cy="1457.8" rx="17.55" ry="9.1" fill="url(#hp0)"/>
<ellipse cx="505.4" cy="1472" rx="14.85" ry="7" fill="url(#hg0)"/>
<ellipse cx="505.4" cy="1485" rx="17.55" ry="9.1" fill="url(#hp0)"/>
</g></g>
<rect x="407" y="1400.4" width="196.2" height="94.9" fill="none" stroke="#454545" stroke-width="2.4"/>
<rect x="407" y="1506.4" width="196.2" height="94.9" fill="#f5f5f5"/>
<g clip-path="url(#hc12)"><g filter="url(#hblur)">
<ellipse cx="490" cy="1509.9" rx="47.39" ry="11.27" fill="url(#hg4)" opacity="0.5"/>
<ellipse cx="505.4" cy="1551" rx="94.77" ry="22.54" fill="url(#hg4)" opacity="0.5"/>
<ellipse cx="505.4" cy="1558.6" rx="47.39" ry="11.27" fill="url(#hg4)" opacity="0.75"/>
<ellipse cx="505.4" cy="1578" rx="40.1" ry="8.85" fill="url(#hp4)" opacity="0.5"/>
<ellipse cx="505.4" cy="1596" rx="54.68" ry="12.88" fill="url(#hg4)" opacity="0.75"/>
<ellipse cx="521" cy="1509.9" rx="17.55" ry="9.8" fill="url(#hg3)"/>
<ellipse cx="490.7" cy="1529.2" rx="13.5" ry="7" fill="url(#hp3)"/>
<ellipse cx="521.3" cy="1529.2" rx="13.5" ry="7" fill="url(#hp3)"/>
<ellipse cx="490" cy="1509.9" rx="17.55" ry="9.8" fill="url(#hg2)"/>
<ellipse cx="505.4" cy="1551" rx="35.1" ry="19.6" fill="url(#hg2)"/>
<ellipse cx="505.4" cy="1578" rx="14.85" ry="7.7" fill="url(#hp1)"/>
<ellipse cx="505.4" cy="1558.6" rx="17.55" ry="9.8" fill="url(#hg0)"/>
<ellipse cx="505.4" cy="1596" rx="20.25" ry="11.2" fill="url(#hg0)"/>
</g></g>
<rect x="407" y="1506.4" width="196.2" height="94.9" fill="none" stroke="#454545" stroke-width="2.4"/>
<rect x="407" y="1612.4" width="196.2" height="94.9" fill="#f5f5f5"/>
<g clip-path="url(#hc13)"><g filter="url(#hblur)">
<ellipse cx="491" cy="1625.4" rx="43.74" ry="11.27" fill="url(#hp4)" opacity="0.75"/>
<ellipse cx="521.8" cy="1625.4" rx="43.74" ry="11.27" fill="url(#hp4)" opacity="0.5"/>
<ellipse cx="491" cy="1647.6" rx="47.39" ry="11.27" fill="url(#hg4)" opacity="0.75"/>
<ellipse cx="521.8" cy="1647.6" rx="47.39" ry="11.27" fill="url(#hg4)" opacity="0.75"/>
<ellipse cx="505.7" cy="1676.2" rx="36.45" ry="6.44" fill="url(#hp4)" opacity="0.5"/>
<ellipse cx="505.7" cy="1693" rx="36.45" ry="6.44" fill="url(#hg4)" opacity="0.5"/>
<ellipse cx="505.7" cy="1708" rx="27" ry="5.6" fill="url(#hp4)"/>
<ellipse cx="505.7" cy="1676.2" rx="13.5" ry="5.6" fill="url(#hp2)"/>
<ellipse cx="505.7" cy="1693" rx="13.5" ry="5.6" fill="url(#hg2)"/>
<ellipse cx="521.8" cy="1625.4" rx="16.2" ry="9.8" fill="url(#hp1)"/>
<ellipse cx="491" cy="1625.4" rx="16.2" ry="9.8" fill="url(#hp0)"/>
<ellipse cx="491" cy="1647.6" rx="17.55" ry="9.8" fill="url(#hg0)"/>
<ellipse cx="521.8" cy="1647.6" rx="17.55" ry="9.8" fill="url(#hg0)"/>
</g></g>
<rect x="407" y="1612.4" width="196.2" height="94.9" fill="none" stroke="#454545" stroke-width="2.4"/>
<rect x="407" y="1718.4" width="196.2" height="94.9" fill="#f5f5f5"/>
<g clip-path="url(#hc14)"><g filter="url(#hblur)">
<ellipse cx="488.4" cy="1741.7" rx="43.74" ry="14.49" fill="url(#hg4)" opacity="0.75"/>
<ellipse cx="523.1" cy="1741.7" rx="43.74" ry="14.49" fill="url(#hp4)" opacity="0.75"/>
<ellipse cx="488.4" cy="1741.7" rx="16.2" ry="12.6" fill="url(#hg0)"/>
<ellipse cx="523.1" cy="1741.7" rx="16.2" ry="12.6" fill="url(#hp0)"/>
</g></g>
<rect x="407" y="1718.4" width="196.2" height="94.9" fill="none" stroke="#454545" stroke-width="2.4"/>
<rect x="407" y="1824.4" width="196.2" height="94.9" fill="#f5f5f5"/>
<g clip-path="url(#hc15)"><g filter="url(#hblur)">
<ellipse cx="505.7" cy="1884.7" rx="47.39" ry="11.27" fill="url(#hg4)" opacity="0.75"/>
<ellipse cx="505.7" cy="1904.7" rx="40.1" ry="9.66" fill="url(#hp4)" opacity="0.75"/>
<ellipse cx="490" cy="1833.9" rx="16.2" ry="8.4" fill="url(#hp4)"/>
<ellipse cx="522" cy="1833.9" rx="16.2" ry="8.4" fill="url(#hp4)"/>
<ellipse cx="505.7" cy="1856.6" rx="40.5" ry="19.6" fill="url(#hg4)"/>
<ellipse cx="505.7" cy="1884.7" rx="40.5" ry="11.2" fill="url(#hg4)"/>
<ellipse cx="505.7" cy="1904.7" rx="47.25" ry="7" fill="url(#hp4)"/>
<ellipse cx="505.7" cy="1884.7" rx="17.55" ry="9.8" fill="url(#hg0)"/>
<ellipse cx="505.7" cy="1904.7" rx="14.85" ry="8.4" fill="url(#hp0)"/>
</g></g>
<rect x="407" y="1824.4" width="196.2" height="94.9" fill="none" stroke="#454545" stroke-width="2.4"/>
<rect x="407" y="1930.4" width="196.2" height="94.9" fill="#f5f5f5"/>
<g clip-path="url(#hc16)"><g filter="url(#hblur)">
<ellipse cx="489.7" cy="1954.2" rx="43.74" ry="14.49" fill="url(#hp4)" opacity="0.75"/>
<ellipse cx="520.4" cy="1954.2" rx="40.1" ry="12.88" fill="url(#hp4)" opacity="0.5"/>
<ellipse cx="505.7" cy="2003.6" rx="10.8" ry="8.4" fill="url(#hg4)"/>
<ellipse cx="520.4" cy="1954.2" rx="14.85" ry="11.2" fill="url(#hp1)"/>
<ellipse cx="489.7" cy="1954.2" rx="16.2" ry="12.6" fill="url(#hp0)"/>
</g></g>
<rect x="407" y="1930.4" width="196.2" height="94.9" fill="none" stroke="#454545" stroke-width="2.4"/>
<rect x="407" y="2036.4" width="196.2" height="94.9" fill="#f5f5f5"/>
<g clip-path="url(#hc17)"><g filter="url(#hblur)">
<ellipse cx="505.7" cy="2107.9" rx="43.74" ry="14.49" fill="url(#hp4)" opacity="0.75"/>
<ellipse cx="505.7" cy="2107.9" rx="40.5" ry="12.6" fill="url(#hp4)"/>
<ellipse cx="505.7" cy="2107.9" rx="16.2" ry="12.6" fill="url(#hp0)"/>
</g></g>
<rect x="407" y="2036.4" width="196.2" height="94.9" fill="none" stroke="#454545" stroke-width="2.4"/>
<line x1="596" y1="2057.9" x2="603.5" y2="2057.9" stroke="#333" stroke-width="1.6" />
<line x1="596" y1="2107.3" x2="603.5" y2="2107.3" stroke="#333" stroke-width="1.6" />
<line x1="406.2" y1="2132" x2="406.2" y2="2142" stroke="#333" stroke-width="1.6" />
<line x1="603.3" y1="2132" x2="603.3" y2="2142" stroke="#333" stroke-width="1.6" />
<text x="609.7" y="2064.8" font-family="Liberation Serif, sans-serif" font-size="30" text-anchor="start" ><tspan font-style="italic">π</tspan></text>
<text x="609.9" y="2117" font-family="Liberation Serif, sans-serif" font-size="31.5" text-anchor="start" >0</text>
<text x="637.7" y="2096.9" font-family="Liberation Serif, sans-serif" font-size="41" text-anchor="start" font-style="italic" >θ</text>
<text x="406" y="2165.3" font-family="Liberation Serif, sans-serif" font-size="30" text-anchor="middle" >−6<tspan font-style="italic">π</tspan></text>
<text x="604" y="2165.3" font-family="Liberation Serif, sans-serif" font-size="30" text-anchor="middle" >6<tspan font-style="italic">π</tspan></text>
<text x="503" y="2169.3" font-family="Liberation Serif, sans-serif" font-size="38.7" text-anchor="middle" font-style="italic" >ϕ</text>
<text x="726.5" y="1156.5" font-family="Liberation Serif, sans-serif" font-size="29.5" text-anchor="start" >(d)</text>
<line x1="817.4" y1="2092.4" x2="826.4" y2="2092.4" stroke="#000" stroke-width="1.3" />
<text x="810.9" y="2100.2" font-family="Liberation Sans, sans-serif" font-size="22" text-anchor="end" >0.0</text>
<line x1="817.4" y1="1978.4" x2="826.4" y2="1978.4" stroke="#000" stroke-width="1.3" />
<line x1="817.4" y1="1864.4" x2="826.4" y2="1864.4" stroke="#000" stroke-width="1.3" />
<text x="810.9" y="1872.2" font-family="Liberation Sans, sans-serif" font-size="22" text-anchor="end" >1.0</text>
<line x1="817.4" y1="1750.4" x2="826.4" y2="1750.4" stroke="#000" stroke-width="1.3" />
<line x1="817.4" y1="1636.4" x2="826.4" y2="1636.4" stroke="#000" stroke-width="1.3" />
<text x="810.9" y="1644.2" font-family="Liberation Sans, sans-serif" font-size="22" text-anchor="end" >2.0</text>
<line x1="817.4" y1="1522.4" x2="826.4" y2="1522.4" stroke="#000" stroke-width="1.3" />
<line x1="817.4" y1="1408.4" x2="826.4" y2="1408.4" stroke="#000" stroke-width="1.3" />
<text x="810.9" y="1416.2" font-family="Liberation Sans, sans-serif" font-size="22" text-anchor="end" >3.0</text>
<line x1="817.4" y1="1294.4" x2="826.4" y2="1294.4" stroke="#000" stroke-width="1.3" />
<line x1="834.8" y1="2100.3" x2="834.8" y2="2091.3" stroke="#000" stroke-width="1.3" />
<line x1="861.13" y1="2100.3" x2="861.13" y2="2094.3" stroke="#000" stroke-width="1.3" />
<line x1="887.46" y1="2100.3" x2="887.46" y2="2094.3" stroke="#000" stroke-width="1.3" />
<line x1="913.79" y1="2100.3" x2="913.79" y2="2094.3" stroke="#000" stroke-width="1.3" />
<line x1="940.12" y1="2100.3" x2="940.12" y2="2094.3" stroke="#000" stroke-width="1.3" />
<line x1="966.45" y1="2100.3" x2="966.45" y2="2094.3" stroke="#000" stroke-width="1.3" />
<line x1="992.78" y1="2100.3" x2="992.78" y2="2094.3" stroke="#000" stroke-width="1.3" />
<line x1="1019.11" y1="2100.3" x2="1019.11" y2="2094.3" stroke="#000" stroke-width="1.3" />
<line x1="1045.44" y1="2100.3" x2="1045.44" y2="2094.3" stroke="#000" stroke-width="1.3" />
<line x1="1071.77" y1="2100.3" x2="1071.77" y2="2094.3" stroke="#000" stroke-width="1.3" />
<line x1="1098.1" y1="2100.3" x2="1098.1" y2="2091.3" stroke="#000" stroke-width="1.3" />
<line x1="1124.43" y1="2100.3" x2="1124.43" y2="2094.3" stroke="#000" stroke-width="1.3" />
<line x1="1150.76" y1="2100.3" x2="1150.76" y2="2094.3" stroke="#000" stroke-width="1.3" />
<line x1="1177.09" y1="2100.3" x2="1177.09" y2="2094.3" stroke="#000" stroke-width="1.3" />
<line x1="1203.42" y1="2100.3" x2="1203.42" y2="2094.3" stroke="#000" stroke-width="1.3" />
<line x1="1229.75" y1="2100.3" x2="1229.75" y2="2094.3" stroke="#000" stroke-width="1.3" />
<line x1="1256.08" y1="2100.3" x2="1256.08" y2="2094.3" stroke="#000" stroke-width="1.3" />
<line x1="1282.41" y1="2100.3" x2="1282.41" y2="2094.3" stroke="#000" stroke-width="1.3" />
<line x1="1308.74" y1="2100.3" x2="1308.74" y2="2094.3" stroke="#000" stroke-width="1.3" />
<line x1="1335.07" y1="2100.3" x2="1335.07" y2="2094.3" stroke="#000" stroke-width="1.3" />
<line x1="1361.4" y1="2100.3" x2="1361.4" y2="2091.3" stroke="#000" stroke-width="1.3" />
<text x="834.8" y="2122.5" font-family="Liberation Sans, sans-serif" font-size="22" text-anchor="middle" >0.0</text>
<text x="1098.1" y="2122.5" font-family="Liberation Sans, sans-serif" font-size="22" text-anchor="middle" >0.5</text>
<text x="1361.4" y="2122.5" font-family="Liberation Sans, sans-serif" font-size="22" text-anchor="middle" >1.0</text>
<g clip-path="url(#dclip)">
<path d="M832,2003.3 834.8,2003.3 845.3,2003.3 855.9,2003.3 866.4,2003.3 876.9,2003.3 887.5,2003.3 898,2003.3 908.5,2003.3 919.1,2003.3 929.6,2003.3 940.1,2003.3 950.7,2003.3 961.2,2003.3 971.7,2003.3 982.2,2003.3 992.8,2003.3 1003.3,2003.3 1013.8,2003.3 1024.4,2003.3 1034.9,2003.3 1045.4,2003.3 1056,2003.3 1066.5,2003.3 1077,2003.3 1087.6,2003.3 1092.8,2003.3 1098.1,2003.3 1103.4,2003.3 1108.6,2003.3 1119.2,2003.3 1129.7,2003.3 1140.2,2003.3 1150.8,2003.3 1161.3,2003.3 1171.8,2003.3 1182.4,2003.3 1192.9,2003.3 1203.4,2003.3 1214,2003.3 1224.5,2003.3 1235,2003.3 1245.5,2003.3 1256.1,2003.3 1266.6,2003.3 1277.1,2003.3 1287.7,2003.3 1298.2,2003.3 1308.7,2003.3 1319.3,2003.3 1329.8,2003.3 1340.3,2003.3 1350.9,2003.3 1361.4,2003.3 1362.6,2003.3" fill="none" stroke="#888888" stroke-width="2.0" stroke-linejoin="round" />
<path d="M832,1913.2 834.8,1913.2 845.3,1913.2 855.9,1913.2 866.4,1913.2 876.9,1913.2 887.5,1913.2 898,1913.2 908.5,1913.2 919.1,1913.2 929.6,1913.2 940.1,1913.2 950.7,1913.2 961.2,1913.2 971.7,1913.2 982.2,1913.2 992.8,1913.2 1003.3,1913.2 1013.8,1913.2 1024.4,1913.2 1034.9,1913.2 1045.4,1913.2 1056,1913.2 1066.5,1913.2 1077,1913.2 1087.6,1913.2 1092.8,1913.2 1098.1,1913.2 1103.4,1913.2 1108.6,1913.2 1119.2,1913.2 1129.7,1913.2 1140.2,1913.2 1150.8,1913.2 1161.3,1913.2 1171.8,1913.2 1182.4,1913.2 1192.9,1913.2 1203.4,1913.2 1214,1913.2 1224.5,1913.2 1235,1913.2 1245.5,1913.2 1256.1,1913.2 1266.6,1913.2 1277.1,1913.2 1287.7,1913.2 1298.2,1913.2 1308.7,1913.2 1319.3,1913.2 1329.8,1913.2 1340.3,1913.2 1350.9,1913.2 1361.4,1913.2 1362.6,1913.2" fill="none" stroke="#888888" stroke-width="2.0" stroke-linejoin="round" />
<path d="M832,1822.7 834.8,1822.7 845.3,1822.7 855.9,1822.7 866.4,1822.7 876.9,1822.7 887.5,1822.7 898,1822.7 908.5,1822.7 919.1,1822.7 929.6,1822.7 940.1,1822.7 950.7,1822.7 961.2,1822.7 971.7,1822.7 982.2,1822.7 992.8,1822.7 1003.3,1822.7 1013.8,1822.7 1024.4,1822.7 1034.9,1822.7 1045.4,1822.7 1056,1822.7 1066.5,1822.7 1077,1822.7 1087.6,1822.7 1092.8,1822.7 1098.1,1822.7 1103.4,1822.7 1108.6,1822.7 1119.2,1822.7 1129.7,1822.7 1140.2,1822.7 1150.8,1822.7 1161.3,1822.7 1171.8,1822.7 1182.4,1822.7 1192.9,1822.7 1203.4,1822.7 1214,1822.7 1224.5,1822.7 1235,1822.7 1245.5,1822.7 1256.1,1822.7 1266.6,1822.7 1277.1,1822.7 1287.7,1822.7 1298.2,1822.7 1308.7,1822.7 1319.3,1822.7 1329.8,1822.7 1340.3,1822.7 1350.9,1822.7 1361.4,1822.7 1362.6,1822.7" fill="none" stroke="#888888" stroke-width="2.0" stroke-linejoin="round" />
<path d="M832,1732.6 834.8,1732.6 845.3,1732.6 855.9,1732.6 866.4,1732.6 876.9,1732.6 887.5,1732.6 898,1732.6 908.5,1732.6 919.1,1732.6 929.6,1732.6 940.1,1732.6 950.7,1732.6 961.2,1732.6 971.7,1732.6 982.2,1732.6 992.8,1732.6 1003.3,1732.6 1013.8,1732.6 1024.4,1732.6 1034.9,1732.6 1045.4,1732.6 1056,1732.6 1066.5,1732.6 1077,1732.6 1087.6,1732.6 1092.8,1732.6 1098.1,1732.6 1103.4,1732.6 1108.6,1732.6 1119.2,1732.6 1129.7,1732.6 1140.2,1732.6 1150.8,1732.6 1161.3,1732.6 1171.8,1732.6 1182.4,1732.6 1192.9,1732.6 1203.4,1732.6 1214,1732.6 1224.5,1732.6 1235,1732.6 1245.5,1732.6 1256.1,1732.6 1266.6,1732.6 1277.1,1732.6 1287.7,1732.6 1298.2,1732.6 1308.7,1732.6 1319.3,1732.6 1329.8,1732.6 1340.3,1732.6 1350.9,1732.6 1361.4,1732.6 1362.6,1732.6" fill="none" stroke="#888888" stroke-width="2.0" stroke-linejoin="round" />
<path d="M832,1642.3 834.8,1642.3 845.3,1642.3 855.9,1642.3 866.4,1642.3 876.9,1642.3 887.5,1642.3 898,1642.3 908.5,1642.3 919.1,1642.3 929.6,1642.3 940.1,1642.3 950.7,1642.3 961.2,1642.3 971.7,1642.3 982.2,1642.3 992.8,1642.3 1003.3,1642.3 1013.8,1642.3 1024.4,1642.3 1034.9,1642.3 1045.4,1642.3 1056,1642.3 1066.5,1642.3 1077,1642.3 1087.6,1642.3 1092.8,1642.3 1098.1,1642.3 1103.4,1642.3 1108.6,1642.3 1119.2,1642.3 1129.7,1642.3 1140.2,1642.3 1150.8,1642.3 1161.3,1642.3 1171.8,1642.3 1182.4,1642.3 1192.9,1642.3 1203.4,1642.3 1214,1642.3 1224.5,1642.3 1235,1642.3 1245.5,1642.3 1256.1,1642.3 1266.6,1642.3 1277.1,1642.3 1287.7,1642.3 1298.2,1642.3 1308.7,1642.3 1319.3,1642.3 1329.8,1642.3 1340.3,1642.3 1350.9,1642.3 1361.4,1642.3 1362.6,1642.3" fill="none" stroke="#888888" stroke-width="2.0" stroke-linejoin="round" />
<path d="M832,1551.6 834.8,1551.6 845.3,1551.6 855.9,1551.6 866.4,1551.6 876.9,1551.6 887.5,1551.6 898,1551.6 908.5,1551.6 919.1,1551.6 929.6,1551.6 940.1,1551.6 950.7,1551.6 961.2,1551.6 971.7,1551.6 982.2,1551.6 992.8,1551.6 1003.3,1551.6 1013.8,1551.6 1024.4,1551.6 1034.9,1551.6 1045.4,1551.6 1056,1551.6 1066.5,1551.6 1077,1551.6 1087.6,1551.6 1092.8,1551.6 1098.1,1551.6 1103.4,1551.6 1108.6,1551.6 1119.2,1551.6 1129.7,1551.6 1140.2,1551.6 1150.8,1551.6 1161.3,1551.6 1171.8,1551.6 1182.4,1551.6 1192.9,1551.6 1203.4,1551.6 1214,1551.6 1224.5,1551.6 1235,1551.6 1245.5,1551.6 1256.1,1551.6 1266.6,1551.6 1277.1,1551.6 1287.7,1551.6 1298.2,1551.6 1308.7,1551.6 1319.3,1551.6 1329.8,1551.6 1340.3,1551.6 1350.9,1551.6 1361.4,1551.6 1362.6,1551.6" fill="none" stroke="#888888" stroke-width="2.0" stroke-linejoin="round" />
<path d="M832,1461.5 834.8,1461.5 845.3,1461.5 855.9,1461.5 866.4,1461.5 876.9,1461.5 887.5,1461.5 898,1461.5 908.5,1461.5 919.1,1461.5 929.6,1461.5 940.1,1461.5 950.7,1461.5 961.2,1461.5 971.7,1461.5 982.2,1461.5 992.8,1461.5 1003.3,1461.5 1013.8,1461.5 1024.4,1461.5 1034.9,1461.5 1045.4,1461.5 1056,1461.5 1066.5,1461.5 1077,1461.5 1087.6,1461.5 1092.8,1461.5 1098.1,1461.5 1103.4,1461.5 1108.6,1461.5 1119.2,1461.5 1129.7,1461.5 1140.2,1461.5 1150.8,1461.5 1161.3,1461.5 1171.8,1461.5 1182.4,1461.5 1192.9,1461.5 1203.4,1461.5 1214,1461.5 1224.5,1461.5 1235,1461.5 1245.5,1461.5 1256.1,1461.5 1266.6,1461.5 1277.1,1461.5 1287.7,1461.5 1298.2,1461.5 1308.7,1461.5 1319.3,1461.5 1329.8,1461.5 1340.3,1461.5 1350.9,1461.5 1361.4,1461.5 1362.6,1461.5" fill="none" stroke="#888888" stroke-width="2.0" stroke-linejoin="round" />
<path d="M832,1372.4 834.8,1372.4 845.3,1372.4 855.9,1372.4 866.4,1372.4 876.9,1372.4 887.5,1372.4 898,1372.4 908.5,1372.4 919.1,1372.4 929.6,1372.4 940.1,1372.4 950.7,1372.4 961.2,1372.4 971.7,1372.4 982.2,1372.4 992.8,1372.4 1003.3,1372.4 1013.8,1372.4 1024.4,1372.4 1034.9,1372.4 1045.4,1372.4 1056,1372.4 1066.5,1372.4 1077,1372.4 1087.6,1372.4 1092.8,1372.4 1098.1,1372.4 1103.4,1372.4 1108.6,1372.4 1119.2,1372.4 1129.7,1372.4 1140.2,1372.4 1150.8,1372.4 1161.3,1372.4 1171.8,1372.4 1182.4,1372.4 1192.9,1372.4 1203.4,1372.4 1214,1372.4 1224.5,1372.4 1235,1372.4 1245.5,1372.4 1256.1,1372.4 1266.6,1372.4 1277.1,1372.4 1287.7,1372.4 1298.2,1372.4 1308.7,1372.4 1319.3,1372.4 1329.8,1372.4 1340.3,1372.4 1350.9,1372.4 1361.4,1372.4 1362.6,1372.4" fill="none" stroke="#888888" stroke-width="2.0" stroke-linejoin="round" />
<path d="M832,1282.1 834.8,1282.1 845.3,1282.1 855.9,1282.1 866.4,1282.1 876.9,1282.1 887.5,1282.1 898,1282.1 908.5,1282.1 919.1,1282.1 929.6,1282.1 940.1,1282.1 950.7,1282.1 961.2,1282.1 971.7,1282.1 982.2,1282.1 992.8,1282.1 1003.3,1282.1 1013.8,1282.1 1024.4,1282.1 1034.9,1282.1 1045.4,1282.1 1056,1282.1 1066.5,1282.1 1077,1282.1 1087.6,1282.1 1092.8,1282.1 1098.1,1282.1 1103.4,1282.1 1108.6,1282.1 1119.2,1282.1 1129.7,1282.1 1140.2,1282.1 1150.8,1282.1 1161.3,1282.1 1171.8,1282.1 1182.4,1282.1 1192.9,1282.1 1203.4,1282.1 1214,1282.1 1224.5,1282.1 1235,1282.1 1245.5,1282.1 1256.1,1282.1 1266.6,1282.1 1277.1,1282.1 1287.7,1282.1 1298.2,1282.1 1308.7,1282.1 1319.3,1282.1 1329.8,1282.1 1340.3,1282.1 1350.9,1282.1 1361.4,1282.1 1362.6,1282.1" fill="none" stroke="#888888" stroke-width="2.0" stroke-linejoin="round" />
<path d="M832,1408.4 834.8,1408.4 845.3,1408.4 855.9,1408.4 866.4,1408.4 876.9,1408.4 887.5,1408.4 898,1408.4 908.5,1408.4 919.1,1408.4 929.6,1408.4 940.1,1408.4 950.7,1408.4 961.2,1408.4 971.7,1408.4 982.2,1408.4 992.8,1408.4 1003.3,1408.4 1013.8,1408.4 1024.4,1408.4 1034.9,1408.4 1045.4,1408.4 1056,1408.4 1066.5,1408.4 1077,1408.4 1087.6,1408.4 1092.8,1408.4 1098.1,1408.4 1103.4,1408.4 1108.6,1408.4 1119.2,1408.4 1129.7,1408.4 1140.2,1408.4 1150.8,1408.4 1161.3,1408.4 1171.8,1408.4 1182.4,1408.4 1192.9,1408.4 1203.4,1408.4 1214,1408.4 1224.5,1408.4 1235,1408.4 1245.5,1408.4 1256.1,1408.4 1266.6,1408.4 1277.1,1408.4 1287.7,1408.4 1298.2,1408.4 1308.7,1408.4 1319.3,1408.4 1329.8,1408.4 1340.3,1408.4 1350.9,1408.4 1361.4,1408.4 1362.6,1408.4" fill="none" stroke="#888888" stroke-width="2.0" stroke-linejoin="round" />
<path d="M832,1228.3 834.8,1228.3 845.3,1228.3 855.9,1228.3 866.4,1228.3 876.9,1228.3 887.5,1228.3 898,1228.3 908.5,1228.3 919.1,1228.3 929.6,1228.3 940.1,1228.3 950.7,1228.3 961.2,1228.3 971.7,1228.3 982.2,1228.3 992.8,1228.3 1003.3,1228.3 1013.8,1228.3 1024.4,1228.3 1034.9,1228.3 1045.4,1228.3 1056,1228.3 1066.5,1228.3 1077,1228.3 1087.6,1228.3 1092.8,1228.3 1098.1,1228.3 1103.4,1228.3 1108.6,1228.3 1119.2,1228.3 1129.7,1228.3 1140.2,1228.3 1150.8,1228.3 1161.3,1228.3 1171.8,1228.3 1182.4,1228.3 1192.9,1228.3 1203.4,1228.3 1214,1228.3 1224.5,1228.3 1235,1228.3 1245.5,1228.3 1256.1,1228.3 1266.6,1228.3 1277.1,1228.3 1287.7,1228.3 1298.2,1228.3 1308.7,1228.3 1319.3,1228.3 1329.8,1228.3 1340.3,1228.3 1350.9,1228.3 1361.4,1228.3 1362.6,1228.3" fill="none" stroke="#888888" stroke-width="2.0" stroke-linejoin="round" />
<path d="M832,1845.2 834.8,1845.2 845.3,1846.4 855.9,1847.6 866.4,1849 876.9,1850.9 887.5,1853.8 898,1857.2 908.5,1861 919.1,1865.5 929.6,1870.7 940.1,1876.2 950.7,1882.3 961.2,1889 971.7,1895.9 982.2,1903.4 992.8,1911.3 1003.3,1919.2 1013.8,1927 1024.4,1934.8 1034.9,1942.7 1045.4,1950.5 1056,1958.3 1066.5,1966.9 1077,1977.3 1087.6,1988.9 1092.8,1994 1098.1,1996.4 1103.4,1994 1108.6,1988.9 1119.2,1977.3 1129.7,1966.9 1140.2,1958.3 1150.8,1950.5 1161.3,1942.7 1171.8,1934.8 1182.4,1927 1192.9,1919.2 1203.4,1911.3 1214,1903.4 1224.5,1895.9 1235,1889 1245.5,1882.3 1256.1,1876.2 1266.6,1870.7 1277.1,1865.5 1287.7,1861 1298.2,1857.2 1308.7,1853.8 1319.3,1850.9 1329.8,1849 1340.3,1847.6 1350.9,1846.4 1361.4,1845.2 1362.6,1845.2" fill="none" stroke="#888888" stroke-width="2.0" stroke-linejoin="round" />
<path d="M832,1755.2 834.8,1755.2 845.3,1756.4 855.9,1757.5 866.4,1758.9 876.9,1760.9 887.5,1763.7 898,1767.1 908.5,1770.9 919.1,1775.5 929.6,1780.6 940.1,1786.2 950.7,1792.3 961.2,1798.9 971.7,1805.9 982.2,1813.4 992.8,1821.2 1003.3,1829.1 1013.8,1836.9 1024.4,1844.7 1034.9,1852.7 1045.4,1860.4 1056,1868.2 1066.5,1876.9 1077,1887.3 1087.6,1898.9 1092.8,1904 1098.1,1906.4 1103.4,1904 1108.6,1898.9 1119.2,1887.3 1129.7,1876.9 1140.2,1868.2 1150.8,1860.4 1161.3,1852.7 1171.8,1844.7 1182.4,1836.9 1192.9,1829.1 1203.4,1821.2 1214,1813.4 1224.5,1805.9 1235,1798.9 1245.5,1792.3 1256.1,1786.2 1266.6,1780.6 1277.1,1775.5 1287.7,1770.9 1298.2,1767.1 1308.7,1763.7 1319.3,1760.9 1329.8,1758.9 1340.3,1757.5 1350.9,1756.4 1361.4,1755.2 1362.6,1755.2" fill="none" stroke="#888888" stroke-width="2.0" stroke-linejoin="round" />
<path d="M832,1664.6 834.8,1664.6 845.3,1665.8 855.9,1667 866.4,1668.4 876.9,1670.4 887.5,1673.2 898,1676.6 908.5,1680.4 919.1,1685 929.6,1690.1 940.1,1695.7 950.7,1701.8 961.2,1708.4 971.7,1715.4 982.2,1722.8 992.8,1730.7 1003.3,1738.6 1013.8,1746.4 1024.4,1754.2 1034.9,1762.1 1045.4,1769.9 1056,1777.7 1066.5,1786.4 1077,1796.7 1087.6,1808.4 1092.8,1813.5 1098.1,1815.8 1103.4,1813.5 1108.6,1808.4 1119.2,1796.7 1129.7,1786.4 1140.2,1777.7 1150.8,1769.9 1161.3,1762.1 1171.8,1754.2 1182.4,1746.4 1192.9,1738.6 1203.4,1730.7 1214,1722.8 1224.5,1715.4 1235,1708.4 1245.5,1701.8 1256.1,1695.7 1266.6,1690.1 1277.1,1685 1287.7,1680.4 1298.2,1676.6 1308.7,1673.2 1319.3,1670.4 1329.8,1668.4 1340.3,1667 1350.9,1665.8 1361.4,1664.6 1362.6,1664.6" fill="none" stroke="#888888" stroke-width="2.0" stroke-linejoin="round" />
<path d="M832,1574.6 834.8,1574.6 845.3,1575.8 855.9,1576.9 866.4,1578.3 876.9,1580.3 887.5,1583.1 898,1586.6 908.5,1590.4 919.1,1594.9 929.6,1600.1 940.1,1605.6 950.7,1611.7 961.2,1618.3 971.7,1625.3 982.2,1632.8 992.8,1640.7 1003.3,1648.5 1013.8,1656.3 1024.4,1664.2 1034.9,1672.1 1045.4,1679.9 1056,1687.7 1066.5,1696.3 1077,1706.7 1087.6,1718.3 1092.8,1723.4 1098.1,1725.8 1103.4,1723.4 1108.6,1718.3 1119.2,1706.7 1129.7,1696.3 1140.2,1687.7 1150.8,1679.9 1161.3,1672.1 1171.8,1664.2 1182.4,1656.3 1192.9,1648.5 1203.4,1640.7 1214,1632.8 1224.5,1625.3 1235,1618.3 1245.5,1611.7 1256.1,1605.6 1266.6,1600.1 1277.1,1594.9 1287.7,1590.4 1298.2,1586.6 1308.7,1583.1 1319.3,1580.3 1329.8,1578.3 1340.3,1576.9 1350.9,1575.8 1361.4,1574.6 1362.6,1574.6" fill="none" stroke="#888888" stroke-width="2.0" stroke-linejoin="round" />
<path d="M832,1484.3 834.8,1484.3 845.3,1485.5 855.9,1486.6 866.4,1488 876.9,1490 887.5,1492.8 898,1496.3 908.5,1500.1 919.1,1504.6 929.6,1509.8 940.1,1515.3 950.7,1521.4 961.2,1528 971.7,1535 982.2,1542.5 992.8,1550.4 1003.3,1558.2 1013.8,1566 1024.4,1573.9 1034.9,1581.8 1045.4,1589.6 1056,1597.4 1066.5,1606 1077,1616.4 1087.6,1628 1092.8,1633.1 1098.1,1635.5 1103.4,1633.1 1108.6,1628 1119.2,1616.4 1129.7,1606 1140.2,1597.4 1150.8,1589.6 1161.3,1581.8 1171.8,1573.9 1182.4,1566 1192.9,1558.2 1203.4,1550.4 1214,1542.5 1224.5,1535 1235,1528 1245.5,1521.4 1256.1,1515.3 1266.6,1509.8 1277.1,1504.6 1287.7,1500.1 1298.2,1496.3 1308.7,1492.8 1319.3,1490 1329.8,1488 1340.3,1486.6 1350.9,1485.5 1361.4,1484.3 1362.6,1484.3" fill="none" stroke="#888888" stroke-width="2.0" stroke-linejoin="round" />
<path d="M832,1393.5 834.8,1393.5 845.3,1394.7 855.9,1395.9 866.4,1397.3 876.9,1399.3 887.5,1402.1 898,1405.5 908.5,1409.3 919.1,1413.9 929.6,1419 940.1,1424.6 950.7,1430.7 961.2,1437.3 971.7,1444.3 982.2,1451.8 992.8,1459.6 1003.3,1467.5 1013.8,1475.3 1024.4,1483.1 1034.9,1491.1 1045.4,1498.8 1056,1506.6 1066.5,1515.3 1077,1525.7 1087.6,1537.3 1092.8,1542.4 1098.1,1544.7 1103.4,1542.4 1108.6,1537.3 1119.2,1525.7 1129.7,1515.3 1140.2,1506.6 1150.8,1498.8 1161.3,1491.1 1171.8,1483.1 1182.4,1475.3 1192.9,1467.5 1203.4,1459.6 1214,1451.8 1224.5,1444.3 1235,1437.3 1245.5,1430.7 1256.1,1424.6 1266.6,1419 1277.1,1413.9 1287.7,1409.3 1298.2,1405.5 1308.7,1402.1 1319.3,1399.3 1329.8,1397.3 1340.3,1395.9 1350.9,1394.7 1361.4,1393.5 1362.6,1393.5" fill="none" stroke="#888888" stroke-width="2.0" stroke-linejoin="round" />
<path d="M832,1303.5 834.8,1303.5 845.3,1304.7 855.9,1305.8 866.4,1307.2 876.9,1309.2 887.5,1312 898,1315.5 908.5,1319.3 919.1,1323.8 929.6,1329 940.1,1334.5 950.7,1340.6 961.2,1347.2 971.7,1354.2 982.2,1361.7 992.8,1369.6 1003.3,1377.4 1013.8,1385.2 1024.4,1393.1 1034.9,1401 1045.4,1408.8 1056,1416.6 1066.5,1425.2 1077,1435.6 1087.6,1447.2 1092.8,1452.3 1098.1,1454.7 1103.4,1452.3 1108.6,1447.2 1119.2,1435.6 1129.7,1425.2 1140.2,1416.6 1150.8,1408.8 1161.3,1401 1171.8,1393.1 1182.4,1385.2 1192.9,1377.4 1203.4,1369.6 1214,1361.7 1224.5,1354.2 1235,1347.2 1245.5,1340.6 1256.1,1334.5 1266.6,1329 1277.1,1323.8 1287.7,1319.3 1298.2,1315.5 1308.7,1312 1319.3,1309.2 1329.8,1307.2 1340.3,1305.8 1350.9,1304.7 1361.4,1303.5 1362.6,1303.5" fill="none" stroke="#888888" stroke-width="2.0" stroke-linejoin="round" />
<path d="M832,1214.3 834.8,1214.3 845.3,1215.5 855.9,1216.7 866.4,1218.1 876.9,1220.1 887.5,1222.9 898,1226.3 908.5,1230.1 919.1,1234.7 929.6,1239.8 940.1,1245.4 950.7,1251.5 961.2,1258.1 971.7,1265.1 982.2,1272.5 992.8,1280.4 1003.3,1288.3 1013.8,1296.1 1024.4,1303.9 1034.9,1311.8 1045.4,1319.6 1056,1327.4 1066.5,1336.1 1077,1346.4 1087.6,1358.1 1092.8,1363.2 1098.1,1365.5 1103.4,1363.2 1108.6,1358.1 1119.2,1346.4 1129.7,1336.1 1140.2,1327.4 1150.8,1319.6 1161.3,1311.8 1171.8,1303.9 1182.4,1296.1 1192.9,1288.3 1203.4,1280.4 1214,1272.5 1224.5,1265.1 1235,1258.1 1245.5,1251.5 1256.1,1245.4 1266.6,1239.8 1277.1,1234.7 1287.7,1230.1 1298.2,1226.3 1308.7,1222.9 1319.3,1220.1 1329.8,1218.1 1340.3,1216.7 1350.9,1215.5 1361.4,1214.3 1362.6,1214.3" fill="none" stroke="#888888" stroke-width="2.0" stroke-linejoin="round" />
<path d="M832,1124 834.8,1124 845.3,1125.2 855.9,1126.4 866.4,1127.8 876.9,1129.8 887.5,1132.6 898,1136 908.5,1139.8 919.1,1144.4 929.6,1149.5 940.1,1155.1 950.7,1161.2 961.2,1167.8 971.7,1174.8 982.2,1182.3 992.8,1190.1 1003.3,1198 1013.8,1205.8 1024.4,1213.6 1034.9,1221.6 1045.4,1229.3 1056,1237.1 1066.5,1245.8 1077,1256.2 1087.6,1267.8 1092.8,1272.9 1098.1,1275.2 1103.4,1272.9 1108.6,1267.8 1119.2,1256.2 1129.7,1245.8 1140.2,1237.1 1150.8,1229.3 1161.3,1221.6 1171.8,1213.6 1182.4,1205.8 1192.9,1198 1203.4,1190.1 1214,1182.3 1224.5,1174.8 1235,1167.8 1245.5,1161.2 1256.1,1155.1 1266.6,1149.5 1277.1,1144.4 1287.7,1139.8 1298.2,1136 1308.7,1132.6 1319.3,1129.8 1329.8,1127.8 1340.3,1126.4 1350.9,1125.2 1361.4,1124 1362.6,1124" fill="none" stroke="#888888" stroke-width="2.0" stroke-linejoin="round" />
<path d="M832,1678.4 834.8,1678.4 845.3,1678.4 855.9,1678.6 866.4,1678.9 876.9,1679.3 887.5,1679.8 898,1680.4 908.5,1681.2 919.1,1682 929.6,1683 940.1,1684 950.7,1685.2 961.2,1686.4 971.7,1687.7 982.2,1689.1 992.8,1690.6 1003.3,1692.1 1013.8,1693.7 1024.4,1695.4 1034.9,1697.1 1045.4,1698.8 1056,1700.6 1066.5,1702.4 1077,1704.3 1087.6,1706.1 1092.8,1707.1 1098.1,1708 1103.4,1707.1 1108.6,1706.1 1119.2,1704.3 1129.7,1702.4 1140.2,1700.6 1150.8,1698.8 1161.3,1697.1 1171.8,1695.4 1182.4,1693.7 1192.9,1692.1 1203.4,1690.6 1214,1689.1 1224.5,1687.7 1235,1686.4 1245.5,1685.2 1256.1,1684 1266.6,1683 1277.1,1682 1287.7,1681.2 1298.2,1680.4 1308.7,1679.8 1319.3,1679.3 1329.8,1678.9 1340.3,1678.6 1350.9,1678.4 1361.4,1678.4 1362.6,1678.4" fill="none" stroke="#888888" stroke-width="2.0" stroke-linejoin="round" />
<path d="M832,1588.5 834.8,1588.5 845.3,1588.6 855.9,1588.8 866.4,1589 876.9,1589.5 887.5,1590 898,1590.6 908.5,1591.3 919.1,1592.2 929.6,1593.1 940.1,1594.2 950.7,1595.3 961.2,1596.6 971.7,1597.9 982.2,1599.3 992.8,1600.7 1003.3,1602.3 1013.8,1603.9 1024.4,1605.5 1034.9,1607.2 1045.4,1609 1056,1610.8 1066.5,1612.6 1077,1614.4 1087.6,1616.3 1092.8,1617.2 1098.1,1618.2 1103.4,1617.2 1108.6,1616.3 1119.2,1614.4 1129.7,1612.6 1140.2,1610.8 1150.8,1609 1161.3,1607.2 1171.8,1605.5 1182.4,1603.9 1192.9,1602.3 1203.4,1600.7 1214,1599.3 1224.5,1597.9 1235,1596.6 1245.5,1595.3 1256.1,1594.2 1266.6,1593.1 1277.1,1592.2 1287.7,1591.3 1298.2,1590.6 1308.7,1590 1319.3,1589.5 1329.8,1589 1340.3,1588.8 1350.9,1588.6 1361.4,1588.5 1362.6,1588.5" fill="none" stroke="#888888" stroke-width="2.0" stroke-linejoin="round" />
<path d="M832,1498.7 834.8,1498.7 845.3,1498.7 855.9,1498.9 866.4,1499.2 876.9,1499.6 887.5,1500.1 898,1500.8 908.5,1501.5 919.1,1502.4 929.6,1503.3 940.1,1504.3 950.7,1505.5 961.2,1506.7 971.7,1508 982.2,1509.4 992.8,1510.9 1003.3,1512.4 1013.8,1514 1024.4,1515.7 1034.9,1517.4 1045.4,1519.2 1056,1521 1066.5,1522.8 1077,1524.6 1087.6,1526.5 1092.8,1527.4 1098.1,1528.3 1103.4,1527.4 1108.6,1526.5 1119.2,1524.6 1129.7,1522.8 1140.2,1521 1150.8,1519.2 1161.3,1517.4 1171.8,1515.7 1182.4,1514 1192.9,1512.4 1203.4,1510.9 1214,1509.4 1224.5,1508 1235,1506.7 1245.5,1505.5 1256.1,1504.3 1266.6,1503.3 1277.1,1502.4 1287.7,1501.5 1298.2,1500.8 1308.7,1500.1 1319.3,1499.6 1329.8,1499.2 1340.3,1498.9 1350.9,1498.7 1361.4,1498.7 1362.6,1498.7" fill="none" stroke="#888888" stroke-width="2.0" stroke-linejoin="round" />
<path d="M832,1408.9 834.8,1408.9 845.3,1408.9 855.9,1409.1 866.4,1409.4 876.9,1409.8 887.5,1410.3 898,1410.9 908.5,1411.7 919.1,1412.5 929.6,1413.5 940.1,1414.5 950.7,1415.7 961.2,1416.9 971.7,1418.2 982.2,1419.6 992.8,1421.1 1003.3,1422.6 1013.8,1424.2 1024.4,1425.9 1034.9,1427.6 1045.4,1429.3 1056,1431.1 1066.5,1432.9 1077,1434.8 1087.6,1436.6 1092.8,1437.6 1098.1,1438.5 1103.4,1437.6 1108.6,1436.6 1119.2,1434.8 1129.7,1432.9 1140.2,1431.1 1150.8,1429.3 1161.3,1427.6 1171.8,1425.9 1182.4,1424.2 1192.9,1422.6 1203.4,1421.1 1214,1419.6 1224.5,1418.2 1235,1416.9 1245.5,1415.7 1256.1,1414.5 1266.6,1413.5 1277.1,1412.5 1287.7,1411.7 1298.2,1410.9 1308.7,1410.3 1319.3,1409.8 1329.8,1409.4 1340.3,1409.1 1350.9,1408.9 1361.4,1408.9 1362.6,1408.9" fill="none" stroke="#888888" stroke-width="2.0" stroke-linejoin="round" />
<path d="M832,1319 834.8,1319 845.3,1319.1 855.9,1319.3 866.4,1319.5 876.9,1320 887.5,1320.5 898,1321.1 908.5,1321.8 919.1,1322.7 929.6,1323.6 940.1,1324.7 950.7,1325.8 961.2,1327.1 971.7,1328.4 982.2,1329.8 992.8,1331.2 1003.3,1332.8 1013.8,1334.4 1024.4,1336 1034.9,1337.8 1045.4,1339.5 1056,1341.3 1066.5,1343.1 1077,1344.9 1087.6,1346.8 1092.8,1347.7 1098.1,1348.7 1103.4,1347.7 1108.6,1346.8 1119.2,1344.9 1129.7,1343.1 1140.2,1341.3 1150.8,1339.5 1161.3,1337.8 1171.8,1336 1182.4,1334.4 1192.9,1332.8 1203.4,1331.2 1214,1329.8 1224.5,1328.4 1235,1327.1 1245.5,1325.8 1256.1,1324.7 1266.6,1323.6 1277.1,1322.7 1287.7,1321.8 1298.2,1321.1 1308.7,1320.5 1319.3,1320 1329.8,1319.5 1340.3,1319.3 1350.9,1319.1 1361.4,1319 1362.6,1319" fill="none" stroke="#888888" stroke-width="2.0" stroke-linejoin="round" />
<path d="M832,1229.2 834.8,1229.2 845.3,1229.3 855.9,1229.4 866.4,1229.7 876.9,1230.1 887.5,1230.6 898,1231.3 908.5,1232 919.1,1232.9 929.6,1233.8 940.1,1234.9 950.7,1236 961.2,1237.2 971.7,1238.5 982.2,1239.9 992.8,1241.4 1003.3,1243 1013.8,1244.6 1024.4,1246.2 1034.9,1247.9 1045.4,1249.7 1056,1251.5 1066.5,1253.3 1077,1255.1 1087.6,1257 1092.8,1257.9 1098.1,1258.8 1103.4,1257.9 1108.6,1257 1119.2,1255.1 1129.7,1253.3 1140.2,1251.5 1150.8,1249.7 1161.3,1247.9 1171.8,1246.2 1182.4,1244.6 1192.9,1243 1203.4,1241.4 1214,1239.9 1224.5,1238.5 1235,1237.2 1245.5,1236 1256.1,1234.9 1266.6,1233.8 1277.1,1232.9 1287.7,1232 1298.2,1231.3 1308.7,1230.6 1319.3,1230.1 1329.8,1229.7 1340.3,1229.4 1350.9,1229.3 1361.4,1229.2 1362.6,1229.2" fill="none" stroke="#888888" stroke-width="2.0" stroke-linejoin="round" />
<path d="M832,1139.4 834.8,1139.4 845.3,1139.4 855.9,1139.6 866.4,1139.9 876.9,1140.3 887.5,1140.8 898,1141.4 908.5,1142.2 919.1,1143 929.6,1144 940.1,1145 950.7,1146.2 961.2,1147.4 971.7,1148.7 982.2,1150.1 992.8,1151.6 1003.3,1153.1 1013.8,1154.7 1024.4,1156.4 1034.9,1158.1 1045.4,1159.8 1056,1161.6 1066.5,1163.4 1077,1165.3 1087.6,1167.1 1092.8,1168.1 1098.1,1169 1103.4,1168.1 1108.6,1167.1 1119.2,1165.3 1129.7,1163.4 1140.2,1161.6 1150.8,1159.8 1161.3,1158.1 1171.8,1156.4 1182.4,1154.7 1192.9,1153.1 1203.4,1151.6 1214,1150.1 1224.5,1148.7 1235,1147.4 1245.5,1146.2 1256.1,1145 1266.6,1144 1277.1,1143 1287.7,1142.2 1298.2,1141.4 1308.7,1140.8 1319.3,1140.3 1329.8,1139.9 1340.3,1139.6 1350.9,1139.4 1361.4,1139.4 1362.6,1139.4" fill="none" stroke="#888888" stroke-width="2.0" stroke-linejoin="round" />
<path d="M832,1562.5 834.8,1562.5 845.3,1560.9 855.9,1559.3 866.4,1557.3 876.9,1554.5 887.5,1551.2 898,1547.8 908.5,1552.8 919.1,1558.6 929.6,1564.5 940.1,1570.5 950.7,1576.7 961.2,1583.1 971.7,1589.6 982.2,1595.7 992.8,1601.4 1003.3,1606.9 1013.8,1612.2 1024.4,1617.2 1034.9,1622 1045.4,1626.6 1056,1631.1 1066.5,1635.1 1077,1637.8 1087.6,1639.5 1092.8,1640.3 1098.1,1641.2 1103.4,1640.3 1108.6,1639.5 1119.2,1637.8 1129.7,1635.1 1140.2,1631.1 1150.8,1626.6 1161.3,1622 1171.8,1617.2 1182.4,1612.2 1192.9,1606.9 1203.4,1601.4 1214,1595.7 1224.5,1589.6 1235,1583.1 1245.5,1576.7 1256.1,1570.5 1266.6,1564.5 1277.1,1558.6 1287.7,1552.8 1298.2,1547.8 1308.7,1551.2 1319.3,1554.5 1329.8,1557.3 1340.3,1559.3 1350.9,1560.9 1361.4,1562.5 1362.6,1562.5" fill="none" stroke="#888888" stroke-width="2.0" stroke-linejoin="round" />
<path d="M832,1537.7 834.8,1537.7 845.3,1538.3 855.9,1538.9 866.4,1539.7 876.9,1541.2 887.5,1543.3 898,1545.5 908.5,1540.2 919.1,1534.1 929.6,1528.1 940.1,1522 950.7,1515.5 961.2,1508.4 971.7,1501.5 982.2,1495.9 992.8,1492.2 1003.3,1489.1 1013.8,1487.2 1024.4,1487.7 1034.9,1490.3 1045.4,1493.1 1056,1495.3 1066.5,1497.4 1077,1499.5 1087.6,1501.6 1092.8,1502.6 1098.1,1503.7 1103.4,1502.6 1108.6,1501.6 1119.2,1499.5 1129.7,1497.4 1140.2,1495.3 1150.8,1493.1 1161.3,1490.3 1171.8,1487.7 1182.4,1487.2 1192.9,1489.1 1203.4,1492.2 1214,1495.9 1224.5,1501.5 1235,1508.4 1245.5,1515.5 1256.1,1522 1266.6,1528.1 1277.1,1534.1 1287.7,1540.2 1298.2,1545.5 1308.7,1543.3 1319.3,1541.2 1329.8,1539.7 1340.3,1538.9 1350.9,1538.3 1361.4,1537.7 1362.6,1537.7" fill="none" stroke="#888888" stroke-width="2.0" stroke-linejoin="round" />
<path d="M832,1472.7 834.8,1472.7 845.3,1471.1 855.9,1469.4 866.4,1467.5 876.9,1464.7 887.5,1461.4 898,1458 908.5,1462.9 919.1,1468.8 929.6,1474.7 940.1,1480.7 950.7,1486.9 961.2,1493.3 971.7,1499.7 982.2,1505.9 992.8,1511.6 1003.3,1517 1013.8,1522.3 1024.4,1527.4 1034.9,1532.2 1045.4,1536.8 1056,1541.3 1066.5,1545.3 1077,1547.9 1087.6,1549.7 1092.8,1550.5 1098.1,1551.4 1103.4,1550.5 1108.6,1549.7 1119.2,1547.9 1129.7,1545.3 1140.2,1541.3 1150.8,1536.8 1161.3,1532.2 1171.8,1527.4 1182.4,1522.3 1192.9,1517 1203.4,1511.6 1214,1505.9 1224.5,1499.7 1235,1493.3 1245.5,1486.9 1256.1,1480.7 1266.6,1474.7 1277.1,1468.8 1287.7,1462.9 1298.2,1458 1308.7,1461.4 1319.3,1464.7 1329.8,1467.5 1340.3,1469.4 1350.9,1471.1 1361.4,1472.7 1362.6,1472.7" fill="none" stroke="#888888" stroke-width="2.0" stroke-linejoin="round" />
<path d="M832,1447.8 834.8,1447.8 845.3,1448.5 855.9,1449.1 866.4,1449.9 876.9,1451.4 887.5,1453.5 898,1455.6 908.5,1450.4 919.1,1444.3 929.6,1438.2 940.1,1432.1 950.7,1425.7 961.2,1418.5 971.7,1411.7 982.2,1406.1 992.8,1402.4 1003.3,1399.2 1013.8,1397.4 1024.4,1397.9 1034.9,1400.5 1045.4,1403.3 1056,1405.4 1066.5,1407.6 1077,1409.7 1087.6,1411.8 1092.8,1412.8 1098.1,1413.9 1103.4,1412.8 1108.6,1411.8 1119.2,1409.7 1129.7,1407.6 1140.2,1405.4 1150.8,1403.3 1161.3,1400.5 1171.8,1397.9 1182.4,1397.4 1192.9,1399.2 1203.4,1402.4 1214,1406.1 1224.5,1411.7 1235,1418.5 1245.5,1425.7 1256.1,1432.1 1266.6,1438.2 1277.1,1444.3 1287.7,1450.4 1298.2,1455.6 1308.7,1453.5 1319.3,1451.4 1329.8,1449.9 1340.3,1449.1 1350.9,1448.5 1361.4,1447.8 1362.6,1447.8" fill="none" stroke="#888888" stroke-width="2.0" stroke-linejoin="round" />
<path d="M832,1382.9 834.8,1382.9 845.3,1381.2 855.9,1379.6 866.4,1377.6 876.9,1374.9 887.5,1371.5 898,1368.1 908.5,1373.1 919.1,1379 929.6,1384.9 940.1,1390.8 950.7,1397 961.2,1403.5 971.7,1409.9 982.2,1416.1 992.8,1421.7 1003.3,1427.2 1013.8,1432.5 1024.4,1437.5 1034.9,1442.4 1045.4,1446.9 1056,1451.5 1066.5,1455.5 1077,1458.1 1087.6,1459.9 1092.8,1460.7 1098.1,1461.5 1103.4,1460.7 1108.6,1459.9 1119.2,1458.1 1129.7,1455.5 1140.2,1451.5 1150.8,1446.9 1161.3,1442.4 1171.8,1437.5 1182.4,1432.5 1192.9,1427.2 1203.4,1421.7 1214,1416.1 1224.5,1409.9 1235,1403.5 1245.5,1397 1256.1,1390.8 1266.6,1384.9 1277.1,1379 1287.7,1373.1 1298.2,1368.1 1308.7,1371.5 1319.3,1374.9 1329.8,1377.6 1340.3,1379.6 1350.9,1381.2 1361.4,1382.9 1362.6,1382.9" fill="none" stroke="#888888" stroke-width="2.0" stroke-linejoin="round" />
<path d="M832,1358 834.8,1358 845.3,1358.6 855.9,1359.2 866.4,1360.1 876.9,1361.6 887.5,1363.7 898,1365.8 908.5,1360.5 919.1,1354.5 929.6,1348.4 940.1,1342.3 950.7,1335.8 961.2,1328.7 971.7,1321.8 982.2,1316.3 992.8,1312.6 1003.3,1309.4 1013.8,1307.6 1024.4,1308.1 1034.9,1310.7 1045.4,1313.4 1056,1315.6 1066.5,1317.7 1077,1319.8 1087.6,1321.9 1092.8,1323 1098.1,1324 1103.4,1323 1108.6,1321.9 1119.2,1319.8 1129.7,1317.7 1140.2,1315.6 1150.8,1313.4 1161.3,1310.7 1171.8,1308.1 1182.4,1307.6 1192.9,1309.4 1203.4,1312.6 1214,1316.3 1224.5,1321.8 1235,1328.7 1245.5,1335.8 1256.1,1342.3 1266.6,1348.4 1277.1,1354.5 1287.7,1360.5 1298.2,1365.8 1308.7,1363.7 1319.3,1361.6 1329.8,1360.1 1340.3,1359.2 1350.9,1358.6 1361.4,1358 1362.6,1358" fill="none" stroke="#888888" stroke-width="2.0" stroke-linejoin="round" />
<path d="M832,1293 834.8,1293 845.3,1291.4 855.9,1289.8 866.4,1287.8 876.9,1285 887.5,1281.7 898,1278.3 908.5,1283.3 919.1,1289.1 929.6,1295 940.1,1301 950.7,1307.2 961.2,1313.6 971.7,1320.1 982.2,1326.2 992.8,1331.9 1003.3,1337.4 1013.8,1342.7 1024.4,1347.7 1034.9,1352.5 1045.4,1357.1 1056,1361.6 1066.5,1365.6 1077,1368.3 1087.6,1370 1092.8,1370.8 1098.1,1371.7 1103.4,1370.8 1108.6,1370 1119.2,1368.3 1129.7,1365.6 1140.2,1361.6 1150.8,1357.1 1161.3,1352.5 1171.8,1347.7 1182.4,1342.7 1192.9,1337.4 1203.4,1331.9 1214,1326.2 1224.5,1320.1 1235,1313.6 1245.5,1307.2 1256.1,1301 1266.6,1295 1277.1,1289.1 1287.7,1283.3 1298.2,1278.3 1308.7,1281.7 1319.3,1285 1329.8,1287.8 1340.3,1289.8 1350.9,1291.4 1361.4,1293 1362.6,1293" fill="none" stroke="#888888" stroke-width="2.0" stroke-linejoin="round" />
<path d="M832,1268.2 834.8,1268.2 845.3,1268.8 855.9,1269.4 866.4,1270.2 876.9,1271.7 887.5,1273.8 898,1276 908.5,1270.7 919.1,1264.7 929.6,1258.6 940.1,1252.5 950.7,1246 961.2,1238.9 971.7,1232 982.2,1226.4 992.8,1222.7 1003.3,1219.6 1013.8,1217.7 1024.4,1218.2 1034.9,1220.9 1045.4,1223.6 1056,1225.8 1066.5,1227.9 1077,1230 1087.6,1232.1 1092.8,1233.2 1098.1,1234.2 1103.4,1233.2 1108.6,1232.1 1119.2,1230 1129.7,1227.9 1140.2,1225.8 1150.8,1223.6 1161.3,1220.9 1171.8,1218.2 1182.4,1217.7 1192.9,1219.6 1203.4,1222.7 1214,1226.4 1224.5,1232 1235,1238.9 1245.5,1246 1256.1,1252.5 1266.6,1258.6 1277.1,1264.7 1287.7,1270.7 1298.2,1276 1308.7,1273.8 1319.3,1271.7 1329.8,1270.2 1340.3,1269.4 1350.9,1268.8 1361.4,1268.2 1362.6,1268.2" fill="none" stroke="#888888" stroke-width="2.0" stroke-linejoin="round" />
<path d="M832,1203.2 834.8,1203.2 845.3,1201.6 855.9,1199.9 866.4,1198 876.9,1195.2 887.5,1191.9 898,1188.5 908.5,1193.5 919.1,1199.3 929.6,1205.2 940.1,1211.2 950.7,1217.4 961.2,1223.8 971.7,1230.2 982.2,1236.4 992.8,1242.1 1003.3,1247.5 1013.8,1252.8 1024.4,1257.9 1034.9,1262.7 1045.4,1267.3 1056,1271.8 1066.5,1275.8 1077,1278.4 1087.6,1280.2 1092.8,1281 1098.1,1281.9 1103.4,1281 1108.6,1280.2 1119.2,1278.4 1129.7,1275.8 1140.2,1271.8 1150.8,1267.3 1161.3,1262.7 1171.8,1257.9 1182.4,1252.8 1192.9,1247.5 1203.4,1242.1 1214,1236.4 1224.5,1230.2 1235,1223.8 1245.5,1217.4 1256.1,1211.2 1266.6,1205.2 1277.1,1199.3 1287.7,1193.5 1298.2,1188.5 1308.7,1191.9 1319.3,1195.2 1329.8,1198 1340.3,1199.9 1350.9,1201.6 1361.4,1203.2 1362.6,1203.2" fill="none" stroke="#888888" stroke-width="2.0" stroke-linejoin="round" />
<path d="M832,1178.3 834.8,1178.3 845.3,1179 855.9,1179.6 866.4,1180.4 876.9,1181.9 887.5,1184 898,1186.1 908.5,1180.9 919.1,1174.8 929.6,1168.8 940.1,1162.6 950.7,1156.2 961.2,1149 971.7,1142.2 982.2,1136.6 992.8,1132.9 1003.3,1129.8 1013.8,1127.9 1024.4,1128.4 1034.9,1131 1045.4,1133.8 1056,1135.9 1066.5,1138.1 1077,1140.2 1087.6,1142.3 1092.8,1143.3 1098.1,1144.4 1103.4,1143.3 1108.6,1142.3 1119.2,1140.2 1129.7,1138.1 1140.2,1135.9 1150.8,1133.8 1161.3,1131 1171.8,1128.4 1182.4,1127.9 1192.9,1129.8 1203.4,1132.9 1214,1136.6 1224.5,1142.2 1235,1149 1245.5,1156.2 1256.1,1162.6 1266.6,1168.8 1277.1,1174.8 1287.7,1180.9 1298.2,1186.1 1308.7,1184 1319.3,1181.9 1329.8,1180.4 1340.3,1179.6 1350.9,1179 1361.4,1178.3 1362.6,1178.3" fill="none" stroke="#888888" stroke-width="2.0" stroke-linejoin="round" />
<path d="M832,1448.5 834.8,1448.5 845.3,1448.9 855.9,1449.2 866.4,1449.5 876.9,1450 887.5,1450.7 898,1451.6 908.5,1452.7 919.1,1453.8 929.6,1455 940.1,1456 950.7,1457 961.2,1458.1 971.7,1459 982.2,1459.6 992.8,1459.2 1003.3,1456.5 1013.8,1452 1024.4,1442.3 1034.9,1433.5 1045.4,1424.8 1056,1414.4 1066.5,1404.3 1077,1397.5 1087.6,1392.9 1092.8,1390.8 1098.1,1388.6 1103.4,1390.8 1108.6,1392.9 1119.2,1397.5 1129.7,1404.3 1140.2,1414.4 1150.8,1424.8 1161.3,1433.5 1171.8,1442.3 1182.4,1452 1192.9,1456.5 1203.4,1459.2 1214,1459.6 1224.5,1459 1235,1458.1 1245.5,1457 1256.1,1456 1266.6,1455 1277.1,1453.8 1287.7,1452.7 1298.2,1451.6 1308.7,1450.7 1319.3,1450 1329.8,1449.5 1340.3,1449.2 1350.9,1448.9 1361.4,1448.5 1362.6,1448.5" fill="none" stroke="#888888" stroke-width="2.0" stroke-linejoin="round" />
<path d="M832,1358.7 834.8,1358.7 845.3,1359 855.9,1359.3 866.4,1359.7 876.9,1360.1 887.5,1360.8 898,1361.8 908.5,1362.9 919.1,1364 929.6,1365.1 940.1,1366.2 950.7,1367.1 961.2,1368.2 971.7,1369.2 982.2,1369.8 992.8,1369.4 1003.3,1366.7 1013.8,1362.2 1024.4,1352.4 1034.9,1343.6 1045.4,1335 1056,1324.6 1066.5,1314.4 1077,1307.7 1087.6,1303.1 1092.8,1301 1098.1,1298.7 1103.4,1301 1108.6,1303.1 1119.2,1307.7 1129.7,1314.4 1140.2,1324.6 1150.8,1335 1161.3,1343.6 1171.8,1352.4 1182.4,1362.2 1192.9,1366.7 1203.4,1369.4 1214,1369.8 1224.5,1369.2 1235,1368.2 1245.5,1367.1 1256.1,1366.2 1266.6,1365.1 1277.1,1364 1287.7,1362.9 1298.2,1361.8 1308.7,1360.8 1319.3,1360.1 1329.8,1359.7 1340.3,1359.3 1350.9,1359 1361.4,1358.7 1362.6,1358.7" fill="none" stroke="#888888" stroke-width="2.0" stroke-linejoin="round" />
<path d="M832,1268.9 834.8,1268.9 845.3,1269.2 855.9,1269.5 866.4,1269.9 876.9,1270.3 887.5,1271 898,1271.9 908.5,1273 919.1,1274.2 929.6,1275.3 940.1,1276.3 950.7,1277.3 961.2,1278.4 971.7,1279.4 982.2,1280 992.8,1279.6 1003.3,1276.9 1013.8,1272.4 1024.4,1262.6 1034.9,1253.8 1045.4,1245.1 1056,1234.8 1066.5,1224.6 1077,1217.9 1087.6,1213.3 1092.8,1211.1 1098.1,1208.9 1103.4,1211.1 1108.6,1213.3 1119.2,1217.9 1129.7,1224.6 1140.2,1234.8 1150.8,1245.1 1161.3,1253.8 1171.8,1262.6 1182.4,1272.4 1192.9,1276.9 1203.4,1279.6 1214,1280 1224.5,1279.4 1235,1278.4 1245.5,1277.3 1256.1,1276.3 1266.6,1275.3 1277.1,1274.2 1287.7,1273 1298.2,1271.9 1308.7,1271 1319.3,1270.3 1329.8,1269.9 1340.3,1269.5 1350.9,1269.2 1361.4,1268.9 1362.6,1268.9" fill="none" stroke="#888888" stroke-width="2.0" stroke-linejoin="round" />
<path d="M832,1179 834.8,1179 845.3,1179.4 855.9,1179.7 866.4,1180 876.9,1180.5 887.5,1181.2 898,1182.1 908.5,1183.2 919.1,1184.3 929.6,1185.5 940.1,1186.5 950.7,1187.5 961.2,1188.6 971.7,1189.5 982.2,1190.1 992.8,1189.7 1003.3,1187 1013.8,1182.5 1024.4,1172.8 1034.9,1164 1045.4,1155.3 1056,1144.9 1066.5,1134.8 1077,1128 1087.6,1123.4 1092.8,1121.3 1098.1,1119.1 1103.4,1121.3 1108.6,1123.4 1119.2,1128 1129.7,1134.8 1140.2,1144.9 1150.8,1155.3 1161.3,1164 1171.8,1172.8 1182.4,1182.5 1192.9,1187 1203.4,1189.7 1214,1190.1 1224.5,1189.5 1235,1188.6 1245.5,1187.5 1256.1,1186.5 1266.6,1185.5 1277.1,1184.3 1287.7,1183.2 1298.2,1182.1 1308.7,1181.2 1319.3,1180.5 1329.8,1180 1340.3,1179.7 1350.9,1179.4 1361.4,1179 1362.6,1179" fill="none" stroke="#888888" stroke-width="2.0" stroke-linejoin="round" />
<path d="M832,1190.9 834.8,1190.9 845.3,1191.4 855.9,1191.8 866.4,1192.3 876.9,1193.1 887.5,1194.4 898,1196.4 908.5,1198.6 919.1,1201.2 929.6,1204.2 940.1,1207.4 950.7,1210.9 961.2,1214.6 971.7,1218.6 982.2,1223 992.8,1227.6 1003.3,1233.3 1013.8,1241.7 1024.4,1253.6 1034.9,1270.7 1045.4,1286.8 1056,1302.5 1066.5,1318.5 1077,1335.4 1087.6,1353.4 1092.8,1363.1 1098.1,1373.3 1103.4,1363.1 1108.6,1353.4 1119.2,1335.4 1129.7,1318.5 1140.2,1302.5 1150.8,1286.8 1161.3,1270.7 1171.8,1253.6 1182.4,1241.7 1192.9,1233.3 1203.4,1227.6 1214,1223 1224.5,1218.6 1235,1214.6 1245.5,1210.9 1256.1,1207.4 1266.6,1204.2 1277.1,1201.2 1287.7,1198.6 1298.2,1196.4 1308.7,1194.4 1319.3,1193.1 1329.8,1192.3 1340.3,1191.8 1350.9,1191.4 1361.4,1190.9 1362.6,1190.9" fill="none" stroke="#888888" stroke-width="2.0" stroke-linejoin="round" />
<path d="M832,1183.8 834.8,1183.8 845.3,1184.8 855.9,1185.7 866.4,1186.5 876.9,1187.5 887.5,1188.4 898,1189.5 908.5,1190.8 919.1,1192.2 929.6,1193.8 940.1,1195.7 950.7,1197.7 961.2,1200 971.7,1202.6 982.2,1205.5 992.8,1209.1 1003.3,1213.5 1013.8,1218.4 1024.4,1224.8 1034.9,1231.9 1045.4,1238.1 1056,1243.3 1066.5,1248 1077,1252.4 1087.6,1256.8 1092.8,1259.1 1098.1,1261.3 1103.4,1259.1 1108.6,1256.8 1119.2,1252.4 1129.7,1248 1140.2,1243.3 1150.8,1238.1 1161.3,1231.9 1171.8,1224.8 1182.4,1218.4 1192.9,1213.5 1203.4,1209.1 1214,1205.5 1224.5,1202.6 1235,1200 1245.5,1197.7 1256.1,1195.7 1266.6,1193.8 1277.1,1192.2 1287.7,1190.8 1298.2,1189.5 1308.7,1188.4 1319.3,1187.5 1329.8,1186.5 1340.3,1185.7 1350.9,1184.8 1361.4,1183.8 1362.6,1183.8" fill="none" stroke="#888888" stroke-width="2.0" stroke-linejoin="round" />
<path d="M832,1101.1 834.8,1101.1 845.3,1101.5 855.9,1102 866.4,1102.5 876.9,1103.2 887.5,1104.6 898,1106.6 908.5,1108.8 919.1,1111.3 929.6,1114.3 940.1,1117.6 950.7,1121 961.2,1124.7 971.7,1128.8 982.2,1133.1 992.8,1137.7 1003.3,1143.5 1013.8,1151.8 1024.4,1163.7 1034.9,1180.8 1045.4,1196.9 1056,1212.7 1066.5,1228.7 1077,1245.6 1087.6,1263.5 1092.8,1273.3 1098.1,1283.5 1103.4,1273.3 1108.6,1263.5 1119.2,1245.6 1129.7,1228.7 1140.2,1212.7 1150.8,1196.9 1161.3,1180.8 1171.8,1163.7 1182.4,1151.8 1192.9,1143.5 1203.4,1137.7 1214,1133.1 1224.5,1128.8 1235,1124.7 1245.5,1121 1256.1,1117.6 1266.6,1114.3 1277.1,1111.3 1287.7,1108.8 1298.2,1106.6 1308.7,1104.6 1319.3,1103.2 1329.8,1102.5 1340.3,1102 1350.9,1101.5 1361.4,1101.1 1362.6,1101.1" fill="none" stroke="#888888" stroke-width="2.0" stroke-linejoin="round" />
<path d="M832,1094 834.8,1094 845.3,1094.9 855.9,1095.8 866.4,1096.7 876.9,1097.6 887.5,1098.6 898,1099.7 908.5,1100.9 919.1,1102.3 929.6,1104 940.1,1105.8 950.7,1107.9 961.2,1110.2 971.7,1112.8 982.2,1115.6 992.8,1119.3 1003.3,1123.7 1013.8,1128.6 1024.4,1135 1034.9,1142 1045.4,1148.3 1056,1153.5 1066.5,1158.2 1077,1162.6 1087.6,1167 1092.8,1169.2 1098.1,1171.5 1103.4,1169.2 1108.6,1167 1119.2,1162.6 1129.7,1158.2 1140.2,1153.5 1150.8,1148.3 1161.3,1142 1171.8,1135 1182.4,1128.6 1192.9,1123.7 1203.4,1119.3 1214,1115.6 1224.5,1112.8 1235,1110.2 1245.5,1107.9 1256.1,1105.8 1266.6,1104 1277.1,1102.3 1287.7,1100.9 1298.2,1099.7 1308.7,1098.6 1319.3,1097.6 1329.8,1096.7 1340.3,1095.8 1350.9,1094.9 1361.4,1094 1362.6,1094" fill="none" stroke="#888888" stroke-width="2.0" stroke-linejoin="round" />
<path d="M829.4,2092.4 834.8,2092.4 840.1,2092.4 845.3,2092.4 850.6,2092.4 855.9,2092.4 861.1,2092.4 866.4,2092.4 871.7,2092.4 876.9,2092.4 882.2,2092.4 887.5,2092.4 892.7,2092.4 898,2092.4 903.3,2092.4 908.5,2092.4 913.8,2092.4 919.1,2092.4 924.3,2092.4 929.6,2092.4 934.9,2092.4 940.1,2092.4 945.4,2092.4 950.7,2092.4 955.9,2092.4 960.1,2092.4 961.2,2092.4 966.4,2092.4 971.7,2092.4 977,2092.4 982.2,2092.4 987.5,2092.4 992.8,2092.4 998,2092.4 1003.3,2092.4 1007.5,2092.4 1008.6,2092.4 1013.8,2092.4 1019.1,2092.4 1024.4,2092.4 1029.6,2092.4 1034.9,2092.4 1040.2,2092.4 1045.4,2092.4 1050.7,2092.4 1056,2092.4 1061.2,2092.4 1066.5,2092.4 1071.8,2092.4 1077,2092.4 1082.3,2092.4 1087.6,2092.4 1092.8,2092.4 1098.1,2092.4 1103.4,2092.4 1108.6,2092.4 1113.9,2092.4 1119.2,2092.4 1124.4,2092.4 1129.7,2092.4 1135,2092.4 1140.2,2092.4 1145.5,2092.4 1150.8,2092.4 1156,2092.4 1161.3,2092.4 1166.6,2092.4 1171.8,2092.4 1177.1,2092.4 1182.4,2092.4 1187.6,2092.4 1188.7,2092.4 1192.9,2092.4 1198.2,2092.4 1203.4,2092.4 1208.7,2092.4 1214,2092.4 1219.2,2092.4 1224.5,2092.4 1229.8,2092.4 1235,2092.4 1236.1,2092.4 1240.3,2092.4 1245.5,2092.4 1250.8,2092.4 1256.1,2092.4 1261.3,2092.4 1266.6,2092.4 1271.9,2092.4 1277.1,2092.4 1282.4,2092.4 1287.7,2092.4 1292.9,2092.4 1298.2,2092.4 1303.5,2092.4 1308.7,2092.4 1314,2092.4 1319.3,2092.4 1324.5,2092.4 1329.8,2092.4 1335.1,2092.4 1340.3,2092.4 1345.6,2092.4 1350.9,2092.4 1356.1,2092.4 1361.4,2092.4 1365.3,2092.4" fill="none" stroke="#343276" stroke-width="7.4" stroke-linejoin="round" stroke-linecap="butt" stroke-linejoin="miter" />
<path d="M829.4,1934.5 834.8,1934.5 840.1,1935.1 845.3,1935.7 850.6,1936.3 855.9,1936.9 861.1,1937.5 866.4,1938.3 871.7,1939.1 876.9,1940.2 882.2,1941.6 887.5,1943.1 892.7,1944.7 898,1946.5 903.3,1948.3 908.5,1950.3 913.8,1952.5 919.1,1954.9 924.3,1957.4 929.6,1960 934.9,1962.8 940.1,1965.6 945.4,1968.5 950.7,1971.7 955.9,1974.9 960.1,1977.6 961.2,1978.3 966.4,1981.8 971.7,1985.3 977,1989 982.2,1992.8 987.5,1996.7 992.8,2000.7 998,2004.7 1003.3,2008.6 1007.5,2011.7 1008.6,2012.5 1013.8,2016.4 1019.1,2020.3 1024.4,2024.3 1029.6,2028.3 1034.9,2032.3 1040.2,2036.2 1045.4,2040.1 1050.7,2044 1056,2048 1061.2,2052.2 1066.5,2056.7 1071.8,2061.7 1077,2067.4 1082.3,2073.5 1087.6,2079.8 1092.8,2086.2 1098.1,2092.4 1103.4,2086.2 1108.6,2079.8 1113.9,2073.5 1119.2,2067.4 1124.4,2061.7 1129.7,2056.7 1135,2052.2 1140.2,2048 1145.5,2044 1150.8,2040.1 1156,2036.2 1161.3,2032.3 1166.6,2028.3 1171.8,2024.3 1177.1,2020.3 1182.4,2016.4 1187.6,2012.5 1188.7,2011.7 1192.9,2008.6 1198.2,2004.7 1203.4,2000.7 1208.7,1996.7 1214,1992.8 1219.2,1989 1224.5,1985.3 1229.8,1981.8 1235,1978.3 1236.1,1977.6 1240.3,1974.9 1245.5,1971.7 1250.8,1968.5 1256.1,1965.6 1261.3,1962.8 1266.6,1960 1271.9,1957.4 1277.1,1954.9 1282.4,1952.5 1287.7,1950.3 1292.9,1948.3 1298.2,1946.5 1303.5,1944.7 1308.7,1943.1 1314,1941.6 1319.3,1940.2 1324.5,1939.1 1329.8,1938.3 1335.1,1937.5 1340.3,1936.9 1345.6,1936.3 1350.9,1935.7 1356.1,1935.1 1361.4,1934.5 1365.3,1934.5" fill="none" stroke="#343276" stroke-width="7.4" stroke-linejoin="round" stroke-linecap="butt" stroke-linejoin="miter" />
<path d="M829.4,1768.2 834.8,1768.2 840.1,1768.2 845.3,1768.2 850.6,1768.3 855.9,1768.4 861.1,1768.5 866.4,1768.7 871.7,1768.9 876.9,1769.1 882.2,1769.4 887.5,1769.6 892.7,1769.9 898,1770.3 903.3,1770.6 908.5,1771 913.8,1771.4 919.1,1771.9 924.3,1772.3 929.6,1772.8 934.9,1773.3 940.1,1773.8 945.4,1774.4 950.7,1775 955.9,1775.6 960.1,1776.1 961.2,1776.2 966.4,1776.9 971.7,1777.5 977,1778.2 982.2,1778.9 987.5,1779.7 992.8,1780.4 998,1781.2 1003.3,1781.9 1007.5,1782.6 1008.6,1782.7 1013.8,1783.5 1019.1,1784.4 1024.4,1785.2 1029.6,1786.1 1034.9,1786.9 1040.2,1787.8 1045.4,1788.7 1050.7,1789.6 1056,1790.5 1061.2,1791.4 1066.5,1792.3 1071.8,1793.2 1077,1794.1 1082.3,1795 1087.6,1796 1092.8,1796.9 1098.1,1797.8 1103.4,1796.9 1108.6,1796 1113.9,1795 1119.2,1794.1 1124.4,1793.2 1129.7,1792.3 1135,1791.4 1140.2,1790.5 1145.5,1789.6 1150.8,1788.7 1156,1787.8 1161.3,1786.9 1166.6,1786.1 1171.8,1785.2 1177.1,1784.4 1182.4,1783.5 1187.6,1782.7 1188.7,1782.6 1192.9,1781.9 1198.2,1781.2 1203.4,1780.4 1208.7,1779.7 1214,1778.9 1219.2,1778.2 1224.5,1777.5 1229.8,1776.9 1235,1776.2 1236.1,1776.1 1240.3,1775.6 1245.5,1775 1250.8,1774.4 1256.1,1773.8 1261.3,1773.3 1266.6,1772.8 1271.9,1772.3 1277.1,1771.9 1282.4,1771.4 1287.7,1771 1292.9,1770.6 1298.2,1770.3 1303.5,1769.9 1308.7,1769.6 1314,1769.4 1319.3,1769.1 1324.5,1768.9 1329.8,1768.7 1335.1,1768.5 1340.3,1768.4 1345.6,1768.3 1350.9,1768.2 1356.1,1768.2 1361.4,1768.2 1365.3,1768.2" fill="none" stroke="#24705a" stroke-width="7.4" stroke-linejoin="round" stroke-linecap="butt" stroke-linejoin="miter" />
<path d="M829.4,1652.4 834.8,1652.4 840.1,1651.5 845.3,1650.7 850.6,1649.9 855.9,1649.1 861.1,1648.2 866.4,1647.1 871.7,1645.9 876.9,1644.4 882.2,1642.7 887.5,1641 892.7,1639.3 898,1637.6 903.3,1639.7 908.5,1642.6 913.8,1645.5 919.1,1648.5 924.3,1651.4 929.6,1654.4 934.9,1657.3 940.1,1660.3 945.4,1663.4 950.7,1666.5 955.9,1669.7 960.1,1672.3 961.2,1673 966.4,1676.2 971.7,1679.4 977,1682.5 982.2,1685.5 987.5,1688.4 992.8,1691.2 998,1694 1003.3,1696.7 1007.5,1698.8 1008.6,1699.4 1013.8,1702 1019.1,1704.5 1024.4,1707 1029.6,1709.5 1034.9,1711.9 1040.2,1714.2 1045.4,1716.4 1050.7,1718.7 1056,1721 1061.2,1723.1 1066.5,1725 1071.8,1726.5 1077,1727.6 1082.3,1728.5 1087.6,1729.4 1092.8,1730.2 1098.1,1731 1103.4,1730.2 1108.6,1729.4 1113.9,1728.5 1119.2,1727.6 1124.4,1726.5 1129.7,1725 1135,1723.1 1140.2,1721 1145.5,1718.7 1150.8,1716.4 1156,1714.2 1161.3,1711.9 1166.6,1709.5 1171.8,1707 1177.1,1704.5 1182.4,1702 1187.6,1699.4 1188.7,1698.8 1192.9,1696.7 1198.2,1694 1203.4,1691.2 1208.7,1688.4 1214,1685.5 1219.2,1682.5 1224.5,1679.4 1229.8,1676.2 1235,1673 1236.1,1672.3 1240.3,1669.7 1245.5,1666.5 1250.8,1663.4 1256.1,1660.3 1261.3,1657.3 1266.6,1654.4 1271.9,1651.4 1277.1,1648.5 1282.4,1645.5 1287.7,1642.6 1292.9,1639.7 1298.2,1637.6 1303.5,1639.3 1308.7,1641 1314,1642.7 1319.3,1644.4 1324.5,1645.9 1329.8,1647.1 1335.1,1648.2 1340.3,1649.1 1345.6,1649.9 1350.9,1650.7 1356.1,1651.5 1361.4,1652.4 1365.3,1652.4" fill="none" stroke="#a8603a" stroke-width="7.4" stroke-linejoin="round" stroke-linecap="butt" stroke-linejoin="miter" />
<path d="M829.4,1627.5 834.8,1627.5 840.1,1627.8 845.3,1628.1 850.6,1628.4 855.9,1628.7 861.1,1629.1 866.4,1629.6 871.7,1630.2 876.9,1631.1 882.2,1632.1 887.5,1633.2 892.7,1634.3 898,1635.3 903.3,1633.1 908.5,1630 913.8,1627 919.1,1624 924.3,1620.9 929.6,1617.9 934.9,1614.9 940.1,1611.8 945.4,1608.7 950.7,1605.3 955.9,1601.8 960.1,1598.9 961.2,1598.2 966.4,1594.7 971.7,1591.3 977,1588.3 982.2,1585.8 987.5,1583.8 992.8,1582.1 998,1580.4 1003.3,1578.9 1007.5,1578 1008.6,1577.8 1013.8,1577 1019.1,1576.9 1024.4,1577.5 1029.6,1578.7 1034.9,1580.2 1040.2,1581.7 1045.4,1582.9 1050.7,1584 1056,1585.1 1061.2,1586.2 1066.5,1587.2 1071.8,1588.3 1077,1589.3 1082.3,1590.4 1087.6,1591.4 1092.8,1592.5 1098.1,1593.5 1103.4,1592.5 1108.6,1591.4 1113.9,1590.4 1119.2,1589.3 1124.4,1588.3 1129.7,1587.2 1135,1586.2 1140.2,1585.1 1145.5,1584 1150.8,1582.9 1156,1581.7 1161.3,1580.2 1166.6,1578.7 1171.8,1577.5 1177.1,1576.9 1182.4,1577 1187.6,1577.8 1188.7,1578 1192.9,1578.9 1198.2,1580.4 1203.4,1582.1 1208.7,1583.8 1214,1585.8 1219.2,1588.3 1224.5,1591.3 1229.8,1594.7 1235,1598.2 1236.1,1598.9 1240.3,1601.8 1245.5,1605.3 1250.8,1608.7 1256.1,1611.8 1261.3,1614.9 1266.6,1617.9 1271.9,1620.9 1277.1,1624 1282.4,1627 1287.7,1630 1292.9,1633.1 1298.2,1635.3 1303.5,1634.3 1308.7,1633.2 1314,1632.1 1319.3,1631.1 1324.5,1630.2 1329.8,1629.6 1335.1,1629.1 1340.3,1628.7 1345.6,1628.4 1350.9,1628.1 1356.1,1627.8 1361.4,1627.5 1365.3,1627.5" fill="none" stroke="#bec00c" stroke-width="7.4" stroke-linejoin="round" stroke-linecap="butt" stroke-linejoin="miter" />
<path d="M829.4,1538.4 834.8,1538.4 840.1,1538.5 845.3,1538.7 850.6,1538.8 855.9,1539 861.1,1539.2 866.4,1539.3 871.7,1539.6 876.9,1539.8 882.2,1540.1 887.5,1540.5 892.7,1540.9 898,1541.4 903.3,1542 908.5,1542.5 913.8,1543.1 919.1,1543.7 924.3,1544.2 929.6,1544.8 934.9,1545.3 940.1,1545.8 945.4,1546.3 950.7,1546.8 955.9,1547.3 960.1,1547.8 961.2,1547.9 966.4,1548.4 971.7,1548.9 977,1549.2 982.2,1549.5 987.5,1549.5 992.8,1549.1 998,1548 1003.3,1546.4 1007.5,1544.8 1008.6,1544.4 1013.8,1541.8 1019.1,1537.3 1024.4,1532.1 1029.6,1527.5 1034.9,1523.3 1040.2,1519.1 1045.4,1514.6 1050.7,1509.7 1056,1504.3 1061.2,1498.9 1066.5,1494.1 1071.8,1490.3 1077,1487.4 1082.3,1484.9 1087.6,1482.7 1092.8,1480.6 1098.1,1478.4 1103.4,1480.6 1108.6,1482.7 1113.9,1484.9 1119.2,1487.4 1124.4,1490.3 1129.7,1494.1 1135,1498.9 1140.2,1504.3 1145.5,1509.7 1150.8,1514.6 1156,1519.1 1161.3,1523.3 1166.6,1527.5 1171.8,1532.1 1177.1,1537.3 1182.4,1541.8 1187.6,1544.4 1188.7,1544.8 1192.9,1546.4 1198.2,1548 1203.4,1549.1 1208.7,1549.5 1214,1549.5 1219.2,1549.2 1224.5,1548.9 1229.8,1548.4 1235,1547.9 1236.1,1547.8 1240.3,1547.3 1245.5,1546.8 1250.8,1546.3 1256.1,1545.8 1261.3,1545.3 1266.6,1544.8 1271.9,1544.2 1277.1,1543.7 1282.4,1543.1 1287.7,1542.5 1292.9,1542 1298.2,1541.4 1303.5,1540.9 1308.7,1540.5 1314,1540.1 1319.3,1539.8 1324.5,1539.6 1329.8,1539.3 1335.1,1539.2 1340.3,1539 1345.6,1538.8 1350.9,1538.7 1356.1,1538.5 1361.4,1538.4 1365.3,1538.4" fill="none" stroke="#42b02a" stroke-width="7.4" stroke-linejoin="round" stroke-linecap="butt" stroke-linejoin="miter" stroke-dasharray="62,7"/>
<path d="M829.4,1280.7 834.8,1280.7 840.1,1281 845.3,1281.2 850.6,1281.4 855.9,1281.6 861.1,1281.9 866.4,1282.2 871.7,1282.5 876.9,1282.9 882.2,1283.5 887.5,1284.3 892.7,1285.2 898,1286.2 903.3,1287.3 908.5,1288.5 913.8,1289.7 919.1,1291 924.3,1292.4 929.6,1294 934.9,1295.6 940.1,1297.3 945.4,1299 950.7,1300.7 955.9,1302.5 960.1,1304 961.2,1304.4 966.4,1306.4 971.7,1308.4 977,1310.6 982.2,1312.8 987.5,1315 992.8,1317.4 998,1320.1 1003.3,1323.1 1007.5,1326 1008.6,1326.9 1013.8,1331.5 1019.1,1336.9 1024.4,1343.4 1029.6,1351.6 1034.9,1360.5 1040.2,1368.7 1045.4,1376.6 1050.7,1384.4 1056,1392.3 1061.2,1400.3 1066.5,1408.4 1071.8,1416.7 1077,1425.2 1082.3,1434 1087.6,1443.2 1092.8,1452.9 1098.1,1463.1 1103.4,1452.9 1108.6,1443.2 1113.9,1434 1119.2,1425.2 1124.4,1416.7 1129.7,1408.4 1135,1400.3 1140.2,1392.3 1145.5,1384.4 1150.8,1376.6 1156,1368.7 1161.3,1360.5 1166.6,1351.6 1171.8,1343.4 1177.1,1336.9 1182.4,1331.5 1187.6,1326.9 1188.7,1326 1192.9,1323.1 1198.2,1320.1 1203.4,1317.4 1208.7,1315 1214,1312.8 1219.2,1310.6 1224.5,1308.4 1229.8,1306.4 1235,1304.4 1236.1,1304 1240.3,1302.5 1245.5,1300.7 1250.8,1299 1256.1,1297.3 1261.3,1295.6 1266.6,1294 1271.9,1292.4 1277.1,1291 1282.4,1289.7 1287.7,1288.5 1292.9,1287.3 1298.2,1286.2 1303.5,1285.2 1308.7,1284.3 1314,1283.5 1319.3,1282.9 1324.5,1282.5 1329.8,1282.2 1335.1,1281.9 1340.3,1281.6 1345.6,1281.4 1350.9,1281.2 1356.1,1281 1361.4,1280.7 1365.3,1280.7" fill="none" stroke="#8fd08a" stroke-width="7.4" stroke-linejoin="round" stroke-linecap="butt" stroke-linejoin="miter" stroke-dasharray="22,3"/>
<path d="M829.4,1273.7 834.8,1273.7 840.1,1274.1 845.3,1274.6 850.6,1275.1 855.9,1275.5 861.1,1275.9 866.4,1276.4 871.7,1276.8 876.9,1277.3 882.2,1277.8 887.5,1278.3 892.7,1278.8 898,1279.3 903.3,1279.9 908.5,1280.6 913.8,1281.3 919.1,1282 924.3,1282.8 929.6,1283.6 934.9,1284.5 940.1,1285.5 945.4,1286.5 950.7,1287.6 955.9,1288.7 960.1,1289.6 961.2,1289.9 966.4,1291.1 971.7,1292.4 977,1293.8 982.2,1295.3 987.5,1297 992.8,1299 998,1301.1 1003.3,1303.3 1007.5,1305.2 1008.6,1305.7 1013.8,1308.3 1019.1,1311.3 1024.4,1314.7 1029.6,1318.2 1034.9,1321.7 1040.2,1325 1045.4,1328 1050.7,1330.6 1056,1333.1 1061.2,1335.5 1066.5,1337.8 1071.8,1340.1 1077,1342.3 1082.3,1344.5 1087.6,1346.7 1092.8,1348.9 1098.1,1351.2 1103.4,1348.9 1108.6,1346.7 1113.9,1344.5 1119.2,1342.3 1124.4,1340.1 1129.7,1337.8 1135,1335.5 1140.2,1333.1 1145.5,1330.6 1150.8,1328 1156,1325 1161.3,1321.7 1166.6,1318.2 1171.8,1314.7 1177.1,1311.3 1182.4,1308.3 1187.6,1305.7 1188.7,1305.2 1192.9,1303.3 1198.2,1301.1 1203.4,1299 1208.7,1297 1214,1295.3 1219.2,1293.8 1224.5,1292.4 1229.8,1291.1 1235,1289.9 1236.1,1289.6 1240.3,1288.7 1245.5,1287.6 1250.8,1286.5 1256.1,1285.5 1261.3,1284.5 1266.6,1283.6 1271.9,1282.8 1277.1,1282 1282.4,1281.3 1287.7,1280.6 1292.9,1279.9 1298.2,1279.3 1303.5,1278.8 1308.7,1278.3 1314,1277.8 1319.3,1277.3 1324.5,1276.8 1329.8,1276.4 1335.1,1275.9 1340.3,1275.5 1345.6,1275.1 1350.9,1274.6 1356.1,1274.1 1361.4,1273.7 1365.3,1273.7" fill="none" stroke="#779e74" stroke-width="7.4" stroke-linejoin="round" stroke-linecap="butt" stroke-linejoin="miter" />
<path d="M829.4,1258.1 834.8,1258.1 840.1,1258.1 845.3,1257.9 850.6,1257.6 855.9,1257.1 861.1,1256.5 866.4,1255.8 871.7,1254.9 876.9,1253.9 882.2,1252.8 887.5,1251.6 892.7,1250.2 898,1248.7 903.3,1247.1 908.5,1245.3 913.8,1243.4 919.1,1241.3 924.3,1239.2 929.6,1236.9 934.9,1234.4 940.1,1231.9 945.4,1229.2 950.7,1226.4 955.9,1223.4 960.1,1221 961.2,1222.7 966.4,1231.4 971.7,1240 977,1248.7 982.2,1257.4 987.5,1266 992.8,1274.7 998,1283.4 1003.3,1292 1007.5,1299 1008.6,1299.3 1013.8,1301 1019.1,1302.7 1024.4,1304.4 1029.6,1306.1 1034.9,1307.9 1040.2,1309.6 1045.4,1311.3 1050.7,1313 1056,1314.7 1061.2,1316.4 1066.5,1318.1 1071.8,1319.8 1077,1321.5 1082.3,1323.2 1087.6,1325 1092.8,1326.7 1098.1,1328.4 1103.4,1326.7 1108.6,1325 1113.9,1323.2 1119.2,1321.5 1124.4,1319.8 1129.7,1318.1 1135,1316.4 1140.2,1314.7 1145.5,1313 1150.8,1311.3 1156,1309.6 1161.3,1307.9 1166.6,1306.1 1171.8,1304.4 1177.1,1302.7 1182.4,1301 1187.6,1299.3 1188.7,1299 1192.9,1292 1198.2,1283.4 1203.4,1274.7 1208.7,1266 1214,1257.4 1219.2,1248.7 1224.5,1240 1229.8,1231.4 1235,1222.7 1236.1,1221 1240.3,1223.4 1245.5,1226.4 1250.8,1229.2 1256.1,1231.9 1261.3,1234.4 1266.6,1236.9 1271.9,1239.2 1277.1,1241.3 1282.4,1243.4 1287.7,1245.3 1292.9,1247.1 1298.2,1248.7 1303.5,1250.2 1308.7,1251.6 1314,1252.8 1319.3,1253.9 1324.5,1254.9 1329.8,1255.8 1335.1,1256.5 1340.3,1257.1 1345.6,1257.6 1350.9,1257.9 1356.1,1258.1 1361.4,1258.1 1365.3,1258.1" fill="none" stroke="#343276" stroke-width="7.4" stroke-linejoin="round" stroke-linecap="butt" stroke-linejoin="miter" />
</g>
<rect x="817.4" y="1219.3" width="558.7" height="881" fill="none" stroke="#000" stroke-width="1.3"/>
<line x1="1337.1" y1="1222.4" x2="1337.1" y2="2100.3" stroke="#222" stroke-width="1.2" stroke-dasharray="5,3.5"/>
<path d="M1381,1629 1393.8,1629 1417,1490 1454.6,1490" fill="none" stroke="#222" stroke-width="1.4" stroke-linejoin="round" />
<path d="M1381,1648.5 1393.8,1648.5 1417,1609.3 1447,1609.3" fill="none" stroke="#222" stroke-width="1.4" stroke-linejoin="round" />
<path d="M1381,1732.6 1461.9,1732.6 1476,1691.6 1555.8,1691.6" fill="none" stroke="#222" stroke-width="1.4" stroke-linejoin="round" />
<path d="M1381,1768.5 1393.8,1768.5 1417,1808.4 1447,1808.4" fill="none" stroke="#222" stroke-width="1.4" stroke-linejoin="round" />
<path d="M1381,1937.3 1393.2,1937.3 1416.4,1929.8 1548.5,1929.8" fill="none" stroke="#222" stroke-width="1.4" stroke-linejoin="round" />
<path d="M1381,2003.3 1393,2003.3 1415.7,2026.7 1447,2026.7" fill="none" stroke="#222" stroke-width="1.4" stroke-linejoin="round" />
<path d="M1381,2092.4 1393,2092.4 1414,2112.6 1447,2112.6" fill="none" stroke="#222" stroke-width="1.4" stroke-linejoin="round" />
<circle cx="1337.1" cy="1628.99" r="6.0" fill="#fdfdf5" stroke="#000" stroke-width="1.4"/>
<circle cx="1337.1" cy="1648.45" r="6.0" fill="#fdfdf5" stroke="#000" stroke-width="1.4"/>
<circle cx="1337.1" cy="1732.62" r="6.0" fill="#fdfdf5" stroke="#000" stroke-width="1.4"/>
<circle cx="1337.1" cy="1768.51" r="6.0" fill="#fdfdf5" stroke="#000" stroke-width="1.4"/>
<circle cx="1337.1" cy="1937.32" r="6.0" fill="#fdfdf5" stroke="#000" stroke-width="1.4"/>
<circle cx="1337.1" cy="2003.25" r="6.0" fill="#fdfdf5" stroke="#000" stroke-width="1.4"/>
<circle cx="1337.1" cy="2092.4" r="6.0" fill="#fdfdf5" stroke="#000" stroke-width="1.4"/>
<text x="1097" y="2157" font-family="Liberation Sans, sans-serif" font-size="31.5" text-anchor="middle" >flux<tspan dx="4"> (</tspan><tspan dx="3">&#934;</tspan><tspan font-size="21" dy="3">0</tspan><tspan dy="-3">)</tspan></text>
<text transform="translate(763.3,1669.5) rotate(-90)" font-family="Liberation Sans, sans-serif" font-size="31" text-anchor="middle">frequency (GHz)</text>
<ellipse cx="1541" cy="1473.5" rx="23.8" ry="21.5" fill="url(#gO)" transform="rotate(-20 1541 1473.5)"/>
<ellipse cx="1484.8" cy="1483.5" rx="19.6" ry="21.3" fill="url(#gO)"/>
<ellipse cx="1527.6" cy="1493.5" rx="30.3" ry="28.7" fill="url(#gB)"/>
<ellipse cx="1578.8" cy="1487" rx="13.8" ry="14.5" fill="url(#gB)"/>
<ellipse cx="1478.6" cy="1611.7" rx="22.5" ry="24.5" fill="url(#gO)"/>
<ellipse cx="1533.4" cy="1603.3" rx="24.5" ry="25.1" fill="url(#gB)"/>
<ellipse cx="1597.7" cy="1642.9" rx="28.3" ry="15.8" fill="url(#gB)"/>
<ellipse cx="1597.8" cy="1672.5" rx="25.1" ry="9" fill="url(#gO)"/>
<ellipse cx="1597.8" cy="1694.5" rx="24.5" ry="8.4" fill="url(#gB)"/>
<ellipse cx="1597.8" cy="1715.7" rx="25.1" ry="9" fill="url(#gO)"/>
<ellipse cx="1597.2" cy="1745.7" rx="28.3" ry="15.8" fill="url(#gB)"/>
<ellipse cx="1488.6" cy="1798.5" rx="23.5" ry="26" fill="url(#gB)"/>
<ellipse cx="1526.3" cy="1804.2" rx="25.8" ry="26.7" fill="url(#gO)"/>
<ellipse cx="1630.2" cy="1926.4" rx="23" ry="22.5" fill="url(#gO)"/>
<ellipse cx="1586.3" cy="1933.3" rx="28.3" ry="26.2" fill="url(#gO)"/>
<ellipse cx="1496.1" cy="2007" rx="25" ry="16.4" fill="url(#gO)"/>
<ellipse cx="1496.1" cy="2044.8" rx="25" ry="16.4" fill="url(#gB)"/>
<ellipse cx="1481.4" cy="2114.9" rx="23.4" ry="22.5" fill="url(#gB)"/>
<line x1="1590.8" y1="2036.6" x2="1588.4" y2="2098" stroke="#4a4a4a" stroke-width="2.2" />
<line x1="1588.4" y1="2098" x2="1631.8" y2="2078.4" stroke="#4a4a4a" stroke-width="2.2" />
<line x1="1588.4" y1="2098" x2="1634.3" y2="2117.7" stroke="#4a4a4a" stroke-width="2.2" />
<text x="1583" y="2028.3" font-family="Liberation Serif, sans-serif" font-size="42" text-anchor="start" font-style="italic" >ζ</text>
<text x="1635.9" y="2079.6" font-family="Liberation Serif, sans-serif" font-size="40" text-anchor="start" font-style="italic" >ϕ</text>
<text x="1634.8" y="2136.6" font-family="Liberation Serif, sans-serif" font-size="39" text-anchor="start" font-style="italic" >θ</text>
</svg></body></html>
